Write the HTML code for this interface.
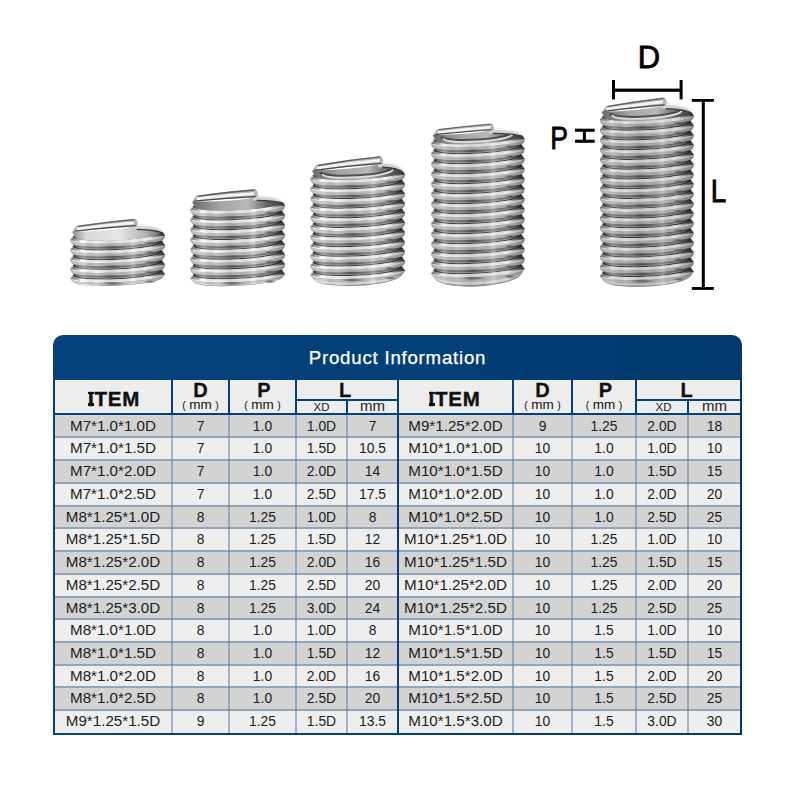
<!DOCTYPE html><html><head><meta charset="utf-8"><style>
html,body{margin:0;padding:0;background:#fff;width:800px;height:800px;overflow:hidden}
body{position:relative;font-family:"Liberation Sans",sans-serif}
.a{position:absolute}
.c{position:absolute;text-align:center;white-space:nowrap;color:#1c1c1c}
</style></head><body>

<svg class="a" style="left:0;top:0" width="800" height="330" viewBox="0 0 800 330"><defs>
<linearGradient id="gov" x1="0" y1="0" x2="1" y2="0">
<stop offset="0" stop-color="#000" stop-opacity="0.25"/>
<stop offset="0.06" stop-color="#fff" stop-opacity="0.0"/>
<stop offset="0.16" stop-color="#fff" stop-opacity="0.2"/>
<stop offset="0.28" stop-color="#000" stop-opacity="0.0"/>
<stop offset="0.42" stop-color="#000" stop-opacity="0.12"/>
<stop offset="0.52" stop-color="#000" stop-opacity="0.05"/>
<stop offset="0.66" stop-color="#fff" stop-opacity="0.25"/>
<stop offset="0.78" stop-color="#000" stop-opacity="0.0"/>
<stop offset="0.88" stop-color="#000" stop-opacity="0.15"/>
<stop offset="1" stop-color="#000" stop-opacity="0.3"/>
</linearGradient>
<linearGradient id="wedR" x1="1" y1="0" x2="0" y2="0">
<stop offset="0" stop-color="#1e1e1e" stop-opacity="0.95"/>
<stop offset="0.4" stop-color="#3a3a3a" stop-opacity="0.6"/>
<stop offset="1" stop-color="#555" stop-opacity="0"/>
</linearGradient>
<linearGradient id="wedL" x1="0" y1="0" x2="1" y2="0">
<stop offset="0" stop-color="#222" stop-opacity="0.7"/>
<stop offset="0.6" stop-color="#444" stop-opacity="0.35"/>
<stop offset="1" stop-color="#555" stop-opacity="0"/>
</linearGradient>
<radialGradient id="blob">
<stop offset="0" stop-color="#505050" stop-opacity="0.75"/>
<stop offset="0.6" stop-color="#606060" stop-opacity="0.45"/>
<stop offset="1" stop-color="#707070" stop-opacity="0"/>
</radialGradient>
<linearGradient id="grim" x1="0" y1="0" x2="1" y2="0">
<stop offset="0" stop-color="#a8a8a8"/><stop offset="0.5" stop-color="#e8e8e8"/><stop offset="0.85" stop-color="#d0d0d0"/><stop offset="1" stop-color="#6a6a6a"/>
</linearGradient>
<linearGradient id="gint" x1="0" y1="0" x2="1" y2="0">
<stop offset="0" stop-color="#6a6a6a"/><stop offset="0.3" stop-color="#a4a4a4"/><stop offset="0.6" stop-color="#b8b8b8"/><stop offset="0.82" stop-color="#606060"/><stop offset="1" stop-color="#383838"/>
</linearGradient>
<linearGradient id="gint2" x1="0" y1="0" x2="1" y2="0">
<stop offset="0" stop-color="#8a8a8a"/><stop offset="0.15" stop-color="#d8d8d8"/><stop offset="0.5" stop-color="#e6e6e6"/><stop offset="0.8" stop-color="#b0b0b0"/><stop offset="1" stop-color="#505050"/>
</linearGradient>
<linearGradient id="gtang" x1="0" y1="0" x2="0" y2="1">
<stop offset="0" stop-color="#9a9a9a"/><stop offset="0.3" stop-color="#dedede"/><stop offset="0.6" stop-color="#c0c0c0"/><stop offset="1" stop-color="#8a8a8a"/>
</linearGradient>
</defs>
<path d="M74.50,235.53 C76.50,243.53 159.00,239.13 161.00,231.13 L162.98,232.10 L163.91,233.07 L164.52,234.04 L164.88,235.01 L165.00,235.99 L164.88,236.96 L164.52,237.93 L163.91,238.90 L162.98,239.87 L161.00,240.84 C159.00,248.84 76.50,253.24 74.50,245.24 L72.52,244.27 L71.59,243.30 L70.98,242.33 L70.62,241.36 L70.50,240.39 L70.62,239.41 L70.98,238.44 L71.59,237.47 L72.52,236.50 L74.50,235.53 Z" fill="#b4b4b4"/>
<path d="M74.50,235.53 C76.50,243.53 159.00,239.13 161.00,231.13 L162.98,232.10 C160.98,240.10 74.52,244.50 72.52,236.50 L74.50,235.53 Z" fill="#5a5a5a"/>
<path d="M72.52,236.50 C74.52,244.50 160.98,240.10 162.98,232.10 L163.96,233.14 L164.58,234.17 L164.92,235.21 C162.92,243.21 72.58,247.61 70.58,239.61 L70.92,238.57 L71.54,237.54 L72.52,236.50 Z" fill="#f2f2f2"/>
<path d="M70.58,239.61 C72.58,247.61 162.92,243.21 164.92,235.21 L165.00,236.18 L164.83,237.15 L164.42,238.12 C162.42,246.12 73.08,250.52 71.08,242.52 L70.67,241.55 L70.50,240.58 L70.58,239.61 Z" fill="#c0c0c0"/>
<path d="M71.08,242.52 C73.08,250.52 162.42,246.12 164.42,238.12 L163.75,239.09 L162.74,240.06 C160.74,248.06 74.76,252.46 72.76,244.46 L71.75,243.49 L71.08,242.52 Z" fill="#7a7a7a"/>
<path d="M72.76,244.46 C74.76,252.46 160.74,248.06 162.74,240.06 L161.00,240.84 C159.00,248.84 76.50,253.24 74.50,245.24 L72.76,244.46 Z" fill="#a0a0a0"/>
<path d="M161.00,231.13 L164.97,235.50 L151.97,237.70 L148.00,233.73 Z" fill="url(#wedR)"/>
<path d="M74.50,235.53 L70.53,239.90 L79.53,241.90 L83.50,237.73 Z" fill="url(#wedL)"/>
<ellipse cx="113.03" cy="247.29" rx="12.29" ry="1.94" fill="url(#blob)"/>
<ellipse cx="149.88" cy="242.85" rx="6.62" ry="1.75" fill="url(#blob)"/>
<path d="M74.50,245.24 C76.50,253.24 159.00,248.84 161.00,240.84 L162.98,241.81 L163.91,242.78 L164.52,243.75 L164.88,244.72 L165.00,245.69 L164.88,246.66 L164.52,247.62 L163.91,248.59 L162.98,249.56 L161.00,250.53 C159.00,258.53 76.50,262.94 74.50,254.94 L72.52,253.97 L71.59,253.00 L70.98,252.03 L70.62,251.06 L70.50,250.09 L70.62,249.12 L70.98,248.15 L71.59,247.18 L72.52,246.21 L74.50,245.24 Z" fill="#b4b4b4"/>
<path d="M74.50,245.24 C76.50,253.24 159.00,248.84 161.00,240.84 L162.98,241.81 C160.98,249.81 74.52,254.21 72.52,246.21 L74.50,245.24 Z" fill="#404040"/>
<path d="M72.52,246.21 C74.52,254.21 160.98,249.81 162.98,241.81 L163.96,242.84 L164.58,243.87 L164.92,244.91 C162.92,252.91 72.58,257.31 70.58,249.31 L70.92,248.27 L71.54,247.24 L72.52,246.21 Z" fill="#f2f2f2"/>
<path d="M70.58,249.31 C72.58,257.31 162.92,252.91 164.92,244.91 L165.00,245.88 L164.83,246.85 L164.42,247.82 C162.42,255.82 73.08,260.22 71.08,252.22 L70.67,251.25 L70.50,250.28 L70.58,249.31 Z" fill="#c0c0c0"/>
<path d="M71.08,252.22 C73.08,260.22 162.42,255.82 164.42,247.82 L163.75,248.79 L162.74,249.76 C160.74,257.76 74.76,262.16 72.76,254.16 L71.75,253.19 L71.08,252.22 Z" fill="#7a7a7a"/>
<path d="M72.76,254.16 C74.76,262.16 160.74,257.76 162.74,249.76 L161.00,250.53 C159.00,258.53 76.50,262.94 74.50,254.94 L72.76,254.16 Z" fill="#a0a0a0"/>
<path d="M161.00,240.84 L164.97,245.20 L151.97,247.40 L148.00,243.44 Z" fill="url(#wedR)"/>
<path d="M74.50,245.24 L70.53,249.60 L79.53,251.60 L83.50,247.44 Z" fill="url(#wedL)"/>
<ellipse cx="113.03" cy="256.99" rx="12.29" ry="1.94" fill="url(#blob)"/>
<ellipse cx="149.88" cy="252.56" rx="6.62" ry="1.75" fill="url(#blob)"/>
<path d="M74.50,254.94 C76.50,262.94 159.00,258.53 161.00,250.53 L162.98,251.50 L163.91,252.47 L164.52,253.44 L164.88,254.41 L165.00,255.38 L164.88,256.36 L164.52,257.32 L163.91,258.30 L162.98,259.26 L161.00,260.24 C159.00,268.24 76.50,272.63 74.50,264.63 L72.52,263.66 L71.59,262.69 L70.98,261.72 L70.62,260.75 L70.50,259.78 L70.62,258.81 L70.98,257.84 L71.59,256.88 L72.52,255.91 L74.50,254.94 Z" fill="#b4b4b4"/>
<path d="M74.50,254.94 C76.50,262.94 159.00,258.53 161.00,250.53 L162.98,251.50 C160.98,259.50 74.52,263.90 72.52,255.91 L74.50,254.94 Z" fill="#404040"/>
<path d="M72.52,255.91 C74.52,263.90 160.98,259.50 162.98,251.50 L163.96,252.54 L164.58,253.57 L164.92,254.61 C162.92,262.61 72.58,267.01 70.58,259.01 L70.92,257.97 L71.54,256.94 L72.52,255.91 Z" fill="#f2f2f2"/>
<path d="M70.58,259.01 C72.58,267.01 162.92,262.61 164.92,254.61 L165.00,255.58 L164.83,256.55 L164.42,257.52 C162.42,265.52 73.08,269.92 71.08,261.92 L70.67,260.95 L70.50,259.98 L70.58,259.01 Z" fill="#c0c0c0"/>
<path d="M71.08,261.92 C73.08,269.92 162.42,265.52 164.42,257.52 L163.75,258.49 L162.74,259.46 C160.74,267.46 74.76,271.86 72.76,263.86 L71.75,262.89 L71.08,261.92 Z" fill="#7a7a7a"/>
<path d="M72.76,263.86 C74.76,271.86 160.74,267.46 162.74,259.46 L161.00,260.24 C159.00,268.24 76.50,272.63 74.50,264.63 L72.76,263.86 Z" fill="#a0a0a0"/>
<path d="M161.00,250.53 L164.97,254.90 L151.97,257.10 L148.00,253.13 Z" fill="url(#wedR)"/>
<path d="M74.50,254.94 L70.53,259.30 L79.53,261.30 L83.50,257.13 Z" fill="url(#wedL)"/>
<ellipse cx="113.03" cy="266.69" rx="12.29" ry="1.94" fill="url(#blob)"/>
<ellipse cx="149.88" cy="262.25" rx="6.62" ry="1.75" fill="url(#blob)"/>
<path d="M74.50,264.63 C76.50,272.63 159.00,268.24 161.00,260.24 L162.98,261.20 L163.91,262.18 L164.52,263.14 L164.88,264.12 L165.00,265.08 L164.88,266.06 L164.52,267.02 L163.91,268.00 L162.98,268.96 L161.00,269.94 C159.00,277.94 76.50,282.33 74.50,274.33 L72.52,273.36 L71.59,272.39 L70.98,271.42 L70.62,270.45 L70.50,269.48 L70.62,268.51 L70.98,267.54 L71.59,266.57 L72.52,265.60 L74.50,264.63 Z" fill="#b4b4b4"/>
<path d="M74.50,264.63 C76.50,272.63 159.00,268.24 161.00,260.24 L162.98,261.20 C160.98,269.20 74.52,273.60 72.52,265.60 L74.50,264.63 Z" fill="#404040"/>
<path d="M72.52,265.60 C74.52,273.60 160.98,269.20 162.98,261.20 L163.96,262.24 L164.58,263.27 L164.92,264.31 C162.92,272.31 72.58,276.71 70.58,268.71 L70.92,267.67 L71.54,266.64 L72.52,265.60 Z" fill="#f2f2f2"/>
<path d="M70.58,268.71 C72.58,276.71 162.92,272.31 164.92,264.31 L165.00,265.28 L164.83,266.25 L164.42,267.22 C162.42,275.22 73.08,279.62 71.08,271.62 L70.67,270.65 L70.50,269.68 L70.58,268.71 Z" fill="#c0c0c0"/>
<path d="M71.08,271.62 C73.08,279.62 162.42,275.22 164.42,267.22 L163.75,268.19 L162.74,269.16 C160.74,277.16 74.76,281.56 72.76,273.56 L71.75,272.59 L71.08,271.62 Z" fill="#7a7a7a"/>
<path d="M72.76,273.56 C74.76,281.56 160.74,277.16 162.74,269.16 L161.00,269.94 C159.00,277.94 76.50,282.33 74.50,274.33 L72.76,273.56 Z" fill="#a0a0a0"/>
<path d="M161.00,260.24 L164.97,264.60 L151.97,266.80 L148.00,262.84 Z" fill="url(#wedR)"/>
<path d="M74.50,264.63 L70.53,269.00 L79.53,271.00 L83.50,266.83 Z" fill="url(#wedL)"/>
<ellipse cx="113.03" cy="276.39" rx="12.29" ry="1.94" fill="url(#blob)"/>
<ellipse cx="149.88" cy="271.95" rx="6.62" ry="1.75" fill="url(#blob)"/>
<path d="M74.50,274.33 C76.50,282.33 159.00,277.94 161.00,269.94 L162.98,270.90 L163.91,271.88 L164.52,272.84 L164.88,273.81 L164.93,274.54 L164.66,275.03 L164.26,275.51 L163.78,276.00 L163.22,276.48 L162.60,276.97 C160.60,285.54 74.90,289.94 72.90,281.37 L72.28,280.88 L71.72,280.40 L71.24,279.91 L70.84,279.43 L70.57,278.94 L70.62,278.21 L70.98,277.24 L71.59,276.27 L72.52,275.30 L74.50,274.33 Z" fill="#b4b4b4"/>
<path d="M74.50,274.33 C76.50,282.33 159.00,277.94 161.00,269.94 L162.98,270.90 C160.98,278.90 74.52,283.30 72.52,275.30 L74.50,274.33 Z" fill="#404040"/>
<path d="M72.52,275.30 C74.52,283.30 160.98,278.90 162.98,270.90 L163.96,271.94 L164.58,272.97 L164.92,274.01 C162.92,282.01 72.58,286.41 70.58,278.41 L70.92,277.37 L71.54,276.34 L72.52,275.30 Z" fill="#f2f2f2"/>
<path d="M70.58,278.41 C72.58,286.41 162.92,282.01 164.92,274.01 L164.89,274.64 L164.59,275.12 L164.17,275.61 C162.17,283.89 73.33,288.29 71.33,280.01 L70.91,279.52 L70.61,279.04 L70.58,278.41 Z" fill="#c0c0c0"/>
<path d="M71.33,280.01 C73.33,288.29 162.17,283.89 164.17,275.61 L163.68,276.09 L163.10,276.58 C161.10,285.07 74.40,289.47 72.40,280.98 L71.82,280.49 L71.33,280.01 Z" fill="#e2e2e2"/>
<path d="M72.40,280.98 C74.40,289.47 161.10,285.07 163.10,276.58 L162.60,276.97 C160.60,285.54 74.90,289.94 72.90,281.37 L72.40,280.98 Z" fill="#9a9a9a"/>
<path d="M161.00,269.94 L164.97,274.30 L151.97,276.50 L148.00,272.54 Z" fill="url(#wedR)"/>
<path d="M74.50,274.33 L70.53,278.70 L79.53,280.70 L83.50,276.53 Z" fill="url(#wedL)"/>
<ellipse cx="113.03" cy="283.47" rx="12.29" ry="1.94" fill="url(#blob)"/>
<ellipse cx="149.88" cy="281.65" rx="6.62" ry="1.75" fill="url(#blob)"/>
<clipPath id="cl0"><path d="M74.50,235.53 C76.50,243.53 159.00,239.13 161.00,231.13 L162.98,232.10 L163.91,233.07 L164.52,234.04 L164.88,235.01 L165.00,235.99 L164.88,236.96 L164.52,237.93 L163.91,238.90 L162.98,239.87 L161.00,240.84 C159.00,248.84 76.50,253.24 74.50,245.24 L72.52,244.27 L71.59,243.30 L70.98,242.33 L70.62,241.36 L70.50,240.39 L70.62,239.41 L70.98,238.44 L71.59,237.47 L72.52,236.50 L74.50,235.53 Z"/><path d="M74.50,245.24 C76.50,253.24 159.00,248.84 161.00,240.84 L162.98,241.81 L163.91,242.78 L164.52,243.75 L164.88,244.72 L165.00,245.69 L164.88,246.66 L164.52,247.62 L163.91,248.59 L162.98,249.56 L161.00,250.53 C159.00,258.53 76.50,262.94 74.50,254.94 L72.52,253.97 L71.59,253.00 L70.98,252.03 L70.62,251.06 L70.50,250.09 L70.62,249.12 L70.98,248.15 L71.59,247.18 L72.52,246.21 L74.50,245.24 Z"/><path d="M74.50,254.94 C76.50,262.94 159.00,258.53 161.00,250.53 L162.98,251.50 L163.91,252.47 L164.52,253.44 L164.88,254.41 L165.00,255.38 L164.88,256.36 L164.52,257.32 L163.91,258.30 L162.98,259.26 L161.00,260.24 C159.00,268.24 76.50,272.63 74.50,264.63 L72.52,263.66 L71.59,262.69 L70.98,261.72 L70.62,260.75 L70.50,259.78 L70.62,258.81 L70.98,257.84 L71.59,256.88 L72.52,255.91 L74.50,254.94 Z"/><path d="M74.50,264.63 C76.50,272.63 159.00,268.24 161.00,260.24 L162.98,261.20 L163.91,262.18 L164.52,263.14 L164.88,264.12 L165.00,265.08 L164.88,266.06 L164.52,267.02 L163.91,268.00 L162.98,268.96 L161.00,269.94 C159.00,277.94 76.50,282.33 74.50,274.33 L72.52,273.36 L71.59,272.39 L70.98,271.42 L70.62,270.45 L70.50,269.48 L70.62,268.51 L70.98,267.54 L71.59,266.57 L72.52,265.60 L74.50,264.63 Z"/><path d="M74.50,274.33 C76.50,282.33 159.00,277.94 161.00,269.94 L162.98,270.90 L163.91,271.88 L164.52,272.84 L164.88,273.81 L164.93,274.54 L164.66,275.03 L164.26,275.51 L163.78,276.00 L163.22,276.48 L162.60,276.97 C160.60,285.54 74.90,289.94 72.90,281.37 L72.28,280.88 L71.72,280.40 L71.24,279.91 L70.84,279.43 L70.57,278.94 L70.62,278.21 L70.98,277.24 L71.59,276.27 L72.52,275.30 L74.50,274.33 Z"/></clipPath>
<rect x="68.50" y="220.50" width="98.50" height="78.50" fill="url(#gov)" clip-path="url(#cl0)"/>
<path d="M72.00,231.53 Q108.30,231.63 136.65,226.30 Q161.00,230.50 165.00,235.50 L161.00,232.13 C159.00,240.13 76.50,244.53 74.50,236.53 Z" fill="url(#gint2)"/>
<path d="M132.65,223.80 Q162.00,224.80 165.00,233.13 Q157.00,229.80 132.65,229.50 Z" fill="#d4d4d4"/>
<path d="M134.65,224.70 Q161.50,225.50 164.50,232.83" fill="none" stroke="#f6f6f6" stroke-width="1.5"/>
<path d="M136.65,229.30 Q157.00,229.60 163.50,233.63" fill="none" stroke="#3a3a3a" stroke-width="1.3"/>
<path d="M76.50,225.73 Q108.30,221.02 135.65,218.70 Q139.15,222.50 137.15,226.30 Q108.30,228.02 72.00,231.73 Z" fill="#b4b4b4"/>
<path d="M77.96,226.45 Q108.30,221.86 134.65,219.61" fill="none" stroke="#5e5e5e" stroke-width="1.22"/>
<path d="M77.03,229.03 Q108.30,224.87 134.15,222.88" fill="none" stroke="#f4f4f4" stroke-width="2.58"/>
<path d="M74.36,231.25 Q108.30,227.46 135.65,225.69" fill="none" stroke="#4a4a4a" stroke-width="1.22"/>
<path d="M194.50,205.38 C196.50,213.38 279.00,208.98 281.00,200.98 L282.98,201.96 L283.91,202.94 L284.52,203.93 L284.88,204.91 L285.00,205.89 L284.88,206.87 L284.52,207.86 L283.91,208.84 L282.98,209.82 L281.00,210.80 C279.00,218.80 196.50,223.20 194.50,215.20 L192.52,214.22 L191.59,213.24 L190.98,212.26 L190.62,211.27 L190.50,210.29 L190.62,209.31 L190.98,208.33 L191.59,207.34 L192.52,206.36 L194.50,205.38 Z" fill="#b4b4b4"/>
<path d="M194.50,205.38 C196.50,213.38 279.00,208.98 281.00,200.98 L282.98,201.96 C280.98,209.96 194.52,214.36 192.52,206.36 L194.50,205.38 Z" fill="#5a5a5a"/>
<path d="M192.52,206.36 C194.52,214.36 280.98,209.96 282.98,201.96 L283.96,203.01 L284.58,204.06 L284.92,205.11 C282.92,213.11 192.58,217.51 190.58,209.51 L190.92,208.46 L191.54,207.41 L192.52,206.36 Z" fill="#f2f2f2"/>
<path d="M190.58,209.51 C192.58,217.51 282.92,213.11 284.92,205.11 L285.00,206.09 L284.83,207.07 L284.42,208.05 C282.42,216.05 193.08,220.45 191.08,212.45 L190.67,211.47 L190.50,210.49 L190.58,209.51 Z" fill="#c0c0c0"/>
<path d="M191.08,212.45 C193.08,220.45 282.42,216.05 284.42,208.05 L283.75,209.03 L282.74,210.02 C280.74,218.02 194.76,222.42 192.76,214.42 L191.75,213.43 L191.08,212.45 Z" fill="#7a7a7a"/>
<path d="M192.76,214.42 C194.76,222.42 280.74,218.02 282.74,210.02 L281.00,210.80 C279.00,218.80 196.50,223.20 194.50,215.20 L192.76,214.42 Z" fill="#a0a0a0"/>
<path d="M281.00,200.98 L284.97,205.40 L271.97,207.60 L268.00,203.58 Z" fill="url(#wedR)"/>
<path d="M194.50,205.38 L190.53,209.80 L199.53,211.80 L203.50,207.58 Z" fill="url(#wedL)"/>
<ellipse cx="233.03" cy="217.23" rx="12.29" ry="1.96" fill="url(#blob)"/>
<ellipse cx="269.88" cy="212.80" rx="6.62" ry="1.77" fill="url(#blob)"/>
<path d="M194.50,215.20 C196.50,223.20 279.00,218.80 281.00,210.80 L282.98,211.78 L283.91,212.77 L284.52,213.75 L284.88,214.73 L285.00,215.71 L284.88,216.69 L284.52,217.68 L283.91,218.66 L282.98,219.64 L281.00,220.62 C279.00,228.62 196.50,233.02 194.50,225.02 L192.52,224.04 L191.59,223.06 L190.98,222.08 L190.62,221.09 L190.50,220.11 L190.62,219.13 L190.98,218.15 L191.59,217.17 L192.52,216.18 L194.50,215.20 Z" fill="#b4b4b4"/>
<path d="M194.50,215.20 C196.50,223.20 279.00,218.80 281.00,210.80 L282.98,211.78 C280.98,219.78 194.52,224.18 192.52,216.18 L194.50,215.20 Z" fill="#404040"/>
<path d="M192.52,216.18 C194.52,224.18 280.98,219.78 282.98,211.78 L283.96,212.83 L284.58,213.88 L284.92,214.93 C282.92,222.93 192.58,227.33 190.58,219.33 L190.92,218.28 L191.54,217.23 L192.52,216.18 Z" fill="#f2f2f2"/>
<path d="M190.58,219.33 C192.58,227.33 282.92,222.93 284.92,214.93 L285.00,215.91 L284.83,216.89 L284.42,217.87 C282.42,225.87 193.08,230.27 191.08,222.27 L190.67,221.29 L190.50,220.31 L190.58,219.33 Z" fill="#c0c0c0"/>
<path d="M191.08,222.27 C193.08,230.27 282.42,225.87 284.42,217.87 L283.75,218.85 L282.74,219.84 C280.74,227.84 194.76,232.24 192.76,224.24 L191.75,223.25 L191.08,222.27 Z" fill="#7a7a7a"/>
<path d="M192.76,224.24 C194.76,232.24 280.74,227.84 282.74,219.84 L281.00,220.62 C279.00,228.62 196.50,233.02 194.50,225.02 L192.76,224.24 Z" fill="#a0a0a0"/>
<path d="M281.00,210.80 L284.97,215.22 L271.97,217.42 L268.00,213.40 Z" fill="url(#wedR)"/>
<path d="M194.50,215.20 L190.53,219.62 L199.53,221.62 L203.50,217.40 Z" fill="url(#wedL)"/>
<ellipse cx="233.03" cy="227.05" rx="12.29" ry="1.96" fill="url(#blob)"/>
<ellipse cx="269.88" cy="222.62" rx="6.62" ry="1.77" fill="url(#blob)"/>
<path d="M194.50,225.02 C196.50,233.02 279.00,228.62 281.00,220.62 L282.98,221.60 L283.91,222.59 L284.52,223.57 L284.88,224.55 L285.00,225.53 L284.88,226.51 L284.52,227.50 L283.91,228.48 L282.98,229.46 L281.00,230.44 C279.00,238.44 196.50,242.84 194.50,234.84 L192.52,233.86 L191.59,232.88 L190.98,231.90 L190.62,230.91 L190.50,229.93 L190.62,228.95 L190.98,227.97 L191.59,226.99 L192.52,226.00 L194.50,225.02 Z" fill="#b4b4b4"/>
<path d="M194.50,225.02 C196.50,233.02 279.00,228.62 281.00,220.62 L282.98,221.60 C280.98,229.60 194.52,234.00 192.52,226.00 L194.50,225.02 Z" fill="#404040"/>
<path d="M192.52,226.00 C194.52,234.00 280.98,229.60 282.98,221.60 L283.96,222.65 L284.58,223.70 L284.92,224.75 C282.92,232.75 192.58,237.15 190.58,229.15 L190.92,228.10 L191.54,227.05 L192.52,226.00 Z" fill="#f2f2f2"/>
<path d="M190.58,229.15 C192.58,237.15 282.92,232.75 284.92,224.75 L285.00,225.73 L284.83,226.71 L284.42,227.69 C282.42,235.69 193.08,240.09 191.08,232.09 L190.67,231.11 L190.50,230.13 L190.58,229.15 Z" fill="#c0c0c0"/>
<path d="M191.08,232.09 C193.08,240.09 282.42,235.69 284.42,227.69 L283.75,228.67 L282.74,229.66 C280.74,237.66 194.76,242.06 192.76,234.06 L191.75,233.07 L191.08,232.09 Z" fill="#7a7a7a"/>
<path d="M192.76,234.06 C194.76,242.06 280.74,237.66 282.74,229.66 L281.00,230.44 C279.00,238.44 196.50,242.84 194.50,234.84 L192.76,234.06 Z" fill="#a0a0a0"/>
<path d="M281.00,220.62 L284.97,225.04 L271.97,227.24 L268.00,223.22 Z" fill="url(#wedR)"/>
<path d="M194.50,225.02 L190.53,229.44 L199.53,231.44 L203.50,227.22 Z" fill="url(#wedL)"/>
<ellipse cx="233.03" cy="236.87" rx="12.29" ry="1.96" fill="url(#blob)"/>
<ellipse cx="269.88" cy="232.44" rx="6.62" ry="1.77" fill="url(#blob)"/>
<path d="M194.50,234.84 C196.50,242.84 279.00,238.44 281.00,230.44 L282.98,231.42 L283.91,232.41 L284.52,233.39 L284.88,234.37 L285.00,235.35 L284.88,236.33 L284.52,237.31 L283.91,238.30 L282.98,239.28 L281.00,240.26 C279.00,248.26 196.50,252.66 194.50,244.66 L192.52,243.68 L191.59,242.70 L190.98,241.72 L190.62,240.73 L190.50,239.75 L190.62,238.77 L190.98,237.79 L191.59,236.81 L192.52,235.82 L194.50,234.84 Z" fill="#b4b4b4"/>
<path d="M194.50,234.84 C196.50,242.84 279.00,238.44 281.00,230.44 L282.98,231.42 C280.98,239.42 194.52,243.82 192.52,235.82 L194.50,234.84 Z" fill="#404040"/>
<path d="M192.52,235.82 C194.52,243.82 280.98,239.42 282.98,231.42 L283.96,232.47 L284.58,233.52 L284.92,234.57 C282.92,242.57 192.58,246.97 190.58,238.97 L190.92,237.92 L191.54,236.87 L192.52,235.82 Z" fill="#f2f2f2"/>
<path d="M190.58,238.97 C192.58,246.97 282.92,242.57 284.92,234.57 L285.00,235.55 L284.83,236.53 L284.42,237.51 C282.42,245.51 193.08,249.91 191.08,241.91 L190.67,240.93 L190.50,239.95 L190.58,238.97 Z" fill="#c0c0c0"/>
<path d="M191.08,241.91 C193.08,249.91 282.42,245.51 284.42,237.51 L283.75,238.49 L282.74,239.48 C280.74,247.48 194.76,251.88 192.76,243.88 L191.75,242.89 L191.08,241.91 Z" fill="#7a7a7a"/>
<path d="M192.76,243.88 C194.76,251.88 280.74,247.48 282.74,239.48 L281.00,240.26 C279.00,248.26 196.50,252.66 194.50,244.66 L192.76,243.88 Z" fill="#a0a0a0"/>
<path d="M281.00,230.44 L284.97,234.86 L271.97,237.06 L268.00,233.04 Z" fill="url(#wedR)"/>
<path d="M194.50,234.84 L190.53,239.26 L199.53,241.26 L203.50,237.04 Z" fill="url(#wedL)"/>
<ellipse cx="233.03" cy="246.69" rx="12.29" ry="1.96" fill="url(#blob)"/>
<ellipse cx="269.88" cy="242.26" rx="6.62" ry="1.77" fill="url(#blob)"/>
<path d="M194.50,244.66 C196.50,252.66 279.00,248.26 281.00,240.26 L282.98,241.24 L283.91,242.23 L284.52,243.21 L284.88,244.19 L285.00,245.17 L284.88,246.15 L284.52,247.13 L283.91,248.12 L282.98,249.10 L281.00,250.08 C279.00,258.08 196.50,262.48 194.50,254.48 L192.52,253.50 L191.59,252.52 L190.98,251.53 L190.62,250.55 L190.50,249.57 L190.62,248.59 L190.98,247.61 L191.59,246.63 L192.52,245.64 L194.50,244.66 Z" fill="#b4b4b4"/>
<path d="M194.50,244.66 C196.50,252.66 279.00,248.26 281.00,240.26 L282.98,241.24 C280.98,249.24 194.52,253.64 192.52,245.64 L194.50,244.66 Z" fill="#404040"/>
<path d="M192.52,245.64 C194.52,253.64 280.98,249.24 282.98,241.24 L283.96,242.29 L284.58,243.34 L284.92,244.39 C282.92,252.39 192.58,256.79 190.58,248.79 L190.92,247.74 L191.54,246.69 L192.52,245.64 Z" fill="#f2f2f2"/>
<path d="M190.58,248.79 C192.58,256.79 282.92,252.39 284.92,244.39 L285.00,245.37 L284.83,246.35 L284.42,247.33 C282.42,255.33 193.08,259.73 191.08,251.73 L190.67,250.75 L190.50,249.77 L190.58,248.79 Z" fill="#c0c0c0"/>
<path d="M191.08,251.73 C193.08,259.73 282.42,255.33 284.42,247.33 L283.75,248.31 L282.74,249.30 C280.74,257.30 194.76,261.70 192.76,253.70 L191.75,252.71 L191.08,251.73 Z" fill="#7a7a7a"/>
<path d="M192.76,253.70 C194.76,261.70 280.74,257.30 282.74,249.30 L281.00,250.08 C279.00,258.08 196.50,262.48 194.50,254.48 L192.76,253.70 Z" fill="#a0a0a0"/>
<path d="M281.00,240.26 L284.97,244.68 L271.97,246.88 L268.00,242.86 Z" fill="url(#wedR)"/>
<path d="M194.50,244.66 L190.53,249.08 L199.53,251.08 L203.50,246.86 Z" fill="url(#wedL)"/>
<ellipse cx="233.03" cy="256.51" rx="12.29" ry="1.96" fill="url(#blob)"/>
<ellipse cx="269.88" cy="252.08" rx="6.62" ry="1.77" fill="url(#blob)"/>
<path d="M194.50,254.48 C196.50,262.48 279.00,258.08 281.00,250.08 L282.98,251.06 L283.91,252.05 L284.52,253.03 L284.88,254.01 L285.00,254.99 L284.88,255.97 L284.52,256.95 L283.91,257.94 L282.98,258.92 L281.00,259.90 C279.00,267.90 196.50,272.30 194.50,264.30 L192.52,263.32 L191.59,262.34 L190.98,261.35 L190.62,260.37 L190.50,259.39 L190.62,258.41 L190.98,257.43 L191.59,256.44 L192.52,255.46 L194.50,254.48 Z" fill="#b4b4b4"/>
<path d="M194.50,254.48 C196.50,262.48 279.00,258.08 281.00,250.08 L282.98,251.06 C280.98,259.06 194.52,263.46 192.52,255.46 L194.50,254.48 Z" fill="#404040"/>
<path d="M192.52,255.46 C194.52,263.46 280.98,259.06 282.98,251.06 L283.96,252.11 L284.58,253.16 L284.92,254.21 C282.92,262.21 192.58,266.61 190.58,258.61 L190.92,257.56 L191.54,256.51 L192.52,255.46 Z" fill="#f2f2f2"/>
<path d="M190.58,258.61 C192.58,266.61 282.92,262.21 284.92,254.21 L285.00,255.19 L284.83,256.17 L284.42,257.15 C282.42,265.15 193.08,269.55 191.08,261.55 L190.67,260.57 L190.50,259.59 L190.58,258.61 Z" fill="#c0c0c0"/>
<path d="M191.08,261.55 C193.08,269.55 282.42,265.15 284.42,257.15 L283.75,258.13 L282.74,259.12 C280.74,267.12 194.76,271.52 192.76,263.52 L191.75,262.53 L191.08,261.55 Z" fill="#7a7a7a"/>
<path d="M192.76,263.52 C194.76,271.52 280.74,267.12 282.74,259.12 L281.00,259.90 C279.00,267.90 196.50,272.30 194.50,264.30 L192.76,263.52 Z" fill="#a0a0a0"/>
<path d="M281.00,250.08 L284.97,254.50 L271.97,256.70 L268.00,252.68 Z" fill="url(#wedR)"/>
<path d="M194.50,254.48 L190.53,258.90 L199.53,260.90 L203.50,256.68 Z" fill="url(#wedL)"/>
<ellipse cx="233.03" cy="266.33" rx="12.29" ry="1.96" fill="url(#blob)"/>
<ellipse cx="269.88" cy="261.90" rx="6.62" ry="1.77" fill="url(#blob)"/>
<path d="M194.50,264.30 C196.50,272.30 279.00,267.90 281.00,259.90 L282.98,260.88 L283.91,261.87 L284.52,262.85 L284.88,263.83 L285.00,264.81 L284.88,265.79 L284.52,266.77 L283.91,267.76 L282.98,268.74 L281.00,269.72 C279.00,277.72 196.50,282.12 194.50,274.12 L192.52,273.14 L191.59,272.16 L190.98,271.17 L190.62,270.19 L190.50,269.21 L190.62,268.23 L190.98,267.25 L191.59,266.26 L192.52,265.28 L194.50,264.30 Z" fill="#b4b4b4"/>
<path d="M194.50,264.30 C196.50,272.30 279.00,267.90 281.00,259.90 L282.98,260.88 C280.98,268.88 194.52,273.28 192.52,265.28 L194.50,264.30 Z" fill="#404040"/>
<path d="M192.52,265.28 C194.52,273.28 280.98,268.88 282.98,260.88 L283.96,261.93 L284.58,262.98 L284.92,264.03 C282.92,272.03 192.58,276.43 190.58,268.43 L190.92,267.38 L191.54,266.33 L192.52,265.28 Z" fill="#f2f2f2"/>
<path d="M190.58,268.43 C192.58,276.43 282.92,272.03 284.92,264.03 L285.00,265.01 L284.83,265.99 L284.42,266.97 C282.42,274.97 193.08,279.37 191.08,271.37 L190.67,270.39 L190.50,269.41 L190.58,268.43 Z" fill="#c0c0c0"/>
<path d="M191.08,271.37 C193.08,279.37 282.42,274.97 284.42,266.97 L283.75,267.95 L282.74,268.94 C280.74,276.94 194.76,281.34 192.76,273.34 L191.75,272.35 L191.08,271.37 Z" fill="#7a7a7a"/>
<path d="M192.76,273.34 C194.76,281.34 280.74,276.94 282.74,268.94 L281.00,269.72 C279.00,277.72 196.50,282.12 194.50,274.12 L192.76,273.34 Z" fill="#a0a0a0"/>
<path d="M281.00,259.90 L284.97,264.32 L271.97,266.52 L268.00,262.50 Z" fill="url(#wedR)"/>
<path d="M194.50,264.30 L190.53,268.72 L199.53,270.72 L203.50,266.50 Z" fill="url(#wedL)"/>
<ellipse cx="233.03" cy="276.15" rx="12.29" ry="1.96" fill="url(#blob)"/>
<ellipse cx="269.88" cy="271.72" rx="6.62" ry="1.77" fill="url(#blob)"/>
<path d="M194.50,274.12 C196.50,282.12 279.00,277.72 281.00,269.72 L282.98,270.70 L283.91,271.69 L284.52,272.67 L284.88,273.65 L284.93,274.39 L284.66,274.88 L284.26,275.37 L283.78,275.86 L283.22,276.35 L282.60,276.84 C280.60,285.85 194.90,290.25 192.90,281.24 L192.28,280.75 L191.72,280.26 L191.24,279.77 L190.84,279.28 L190.57,278.79 L190.62,278.05 L190.98,277.07 L191.59,276.08 L192.52,275.10 L194.50,274.12 Z" fill="#b4b4b4"/>
<path d="M194.50,274.12 C196.50,282.12 279.00,277.72 281.00,269.72 L282.98,270.70 C280.98,278.70 194.52,283.10 192.52,275.10 L194.50,274.12 Z" fill="#404040"/>
<path d="M192.52,275.10 C194.52,283.10 280.98,278.70 282.98,270.70 L283.96,271.75 L284.58,272.80 L284.92,273.85 C282.92,281.85 192.58,286.25 190.58,278.25 L190.92,277.20 L191.54,276.15 L192.52,275.10 Z" fill="#f2f2f2"/>
<path d="M190.58,278.25 C192.58,286.25 282.92,281.85 284.92,273.85 L284.89,274.48 L284.59,274.97 L284.17,275.47 C282.17,283.96 193.33,288.36 191.33,279.87 L190.91,279.37 L190.61,278.88 L190.58,278.25 Z" fill="#c0c0c0"/>
<path d="M191.33,279.87 C193.33,288.36 282.17,283.96 284.17,275.47 L283.68,275.96 L283.10,276.45 C281.10,285.31 194.40,289.71 192.40,280.85 L191.82,280.36 L191.33,279.87 Z" fill="#e2e2e2"/>
<path d="M192.40,280.85 C194.40,289.71 281.10,285.31 283.10,276.45 L282.60,276.84 C280.60,285.85 194.90,290.25 192.90,281.24 L192.40,280.85 Z" fill="#9a9a9a"/>
<path d="M281.00,269.72 L284.97,274.14 L271.97,276.34 L268.00,272.32 Z" fill="url(#wedR)"/>
<path d="M194.50,274.12 L190.53,278.54 L199.53,280.54 L203.50,276.32 Z" fill="url(#wedL)"/>
<ellipse cx="233.03" cy="283.32" rx="12.29" ry="1.96" fill="url(#blob)"/>
<ellipse cx="269.88" cy="281.54" rx="6.62" ry="1.77" fill="url(#blob)"/>
<clipPath id="cl1"><path d="M194.50,205.38 C196.50,213.38 279.00,208.98 281.00,200.98 L282.98,201.96 L283.91,202.94 L284.52,203.93 L284.88,204.91 L285.00,205.89 L284.88,206.87 L284.52,207.86 L283.91,208.84 L282.98,209.82 L281.00,210.80 C279.00,218.80 196.50,223.20 194.50,215.20 L192.52,214.22 L191.59,213.24 L190.98,212.26 L190.62,211.27 L190.50,210.29 L190.62,209.31 L190.98,208.33 L191.59,207.34 L192.52,206.36 L194.50,205.38 Z"/><path d="M194.50,215.20 C196.50,223.20 279.00,218.80 281.00,210.80 L282.98,211.78 L283.91,212.77 L284.52,213.75 L284.88,214.73 L285.00,215.71 L284.88,216.69 L284.52,217.68 L283.91,218.66 L282.98,219.64 L281.00,220.62 C279.00,228.62 196.50,233.02 194.50,225.02 L192.52,224.04 L191.59,223.06 L190.98,222.08 L190.62,221.09 L190.50,220.11 L190.62,219.13 L190.98,218.15 L191.59,217.17 L192.52,216.18 L194.50,215.20 Z"/><path d="M194.50,225.02 C196.50,233.02 279.00,228.62 281.00,220.62 L282.98,221.60 L283.91,222.59 L284.52,223.57 L284.88,224.55 L285.00,225.53 L284.88,226.51 L284.52,227.50 L283.91,228.48 L282.98,229.46 L281.00,230.44 C279.00,238.44 196.50,242.84 194.50,234.84 L192.52,233.86 L191.59,232.88 L190.98,231.90 L190.62,230.91 L190.50,229.93 L190.62,228.95 L190.98,227.97 L191.59,226.99 L192.52,226.00 L194.50,225.02 Z"/><path d="M194.50,234.84 C196.50,242.84 279.00,238.44 281.00,230.44 L282.98,231.42 L283.91,232.41 L284.52,233.39 L284.88,234.37 L285.00,235.35 L284.88,236.33 L284.52,237.31 L283.91,238.30 L282.98,239.28 L281.00,240.26 C279.00,248.26 196.50,252.66 194.50,244.66 L192.52,243.68 L191.59,242.70 L190.98,241.72 L190.62,240.73 L190.50,239.75 L190.62,238.77 L190.98,237.79 L191.59,236.81 L192.52,235.82 L194.50,234.84 Z"/><path d="M194.50,244.66 C196.50,252.66 279.00,248.26 281.00,240.26 L282.98,241.24 L283.91,242.23 L284.52,243.21 L284.88,244.19 L285.00,245.17 L284.88,246.15 L284.52,247.13 L283.91,248.12 L282.98,249.10 L281.00,250.08 C279.00,258.08 196.50,262.48 194.50,254.48 L192.52,253.50 L191.59,252.52 L190.98,251.53 L190.62,250.55 L190.50,249.57 L190.62,248.59 L190.98,247.61 L191.59,246.63 L192.52,245.64 L194.50,244.66 Z"/><path d="M194.50,254.48 C196.50,262.48 279.00,258.08 281.00,250.08 L282.98,251.06 L283.91,252.05 L284.52,253.03 L284.88,254.01 L285.00,254.99 L284.88,255.97 L284.52,256.95 L283.91,257.94 L282.98,258.92 L281.00,259.90 C279.00,267.90 196.50,272.30 194.50,264.30 L192.52,263.32 L191.59,262.34 L190.98,261.35 L190.62,260.37 L190.50,259.39 L190.62,258.41 L190.98,257.43 L191.59,256.44 L192.52,255.46 L194.50,254.48 Z"/><path d="M194.50,264.30 C196.50,272.30 279.00,267.90 281.00,259.90 L282.98,260.88 L283.91,261.87 L284.52,262.85 L284.88,263.83 L285.00,264.81 L284.88,265.79 L284.52,266.77 L283.91,267.76 L282.98,268.74 L281.00,269.72 C279.00,277.72 196.50,282.12 194.50,274.12 L192.52,273.14 L191.59,272.16 L190.98,271.17 L190.62,270.19 L190.50,269.21 L190.62,268.23 L190.98,267.25 L191.59,266.26 L192.52,265.28 L194.50,264.30 Z"/><path d="M194.50,274.12 C196.50,282.12 279.00,277.72 281.00,269.72 L282.98,270.70 L283.91,271.69 L284.52,272.67 L284.88,273.65 L284.93,274.39 L284.66,274.88 L284.26,275.37 L283.78,275.86 L283.22,276.35 L282.60,276.84 C280.60,285.85 194.90,290.25 192.90,281.24 L192.28,280.75 L191.72,280.26 L191.24,279.77 L190.84,279.28 L190.57,278.79 L190.62,278.05 L190.98,277.07 L191.59,276.08 L192.52,275.10 L194.50,274.12 Z"/></clipPath>
<rect x="188.50" y="190.40" width="98.50" height="108.56" fill="url(#gov)" clip-path="url(#cl1)"/>
<path d="M192.00,201.38 Q228.30,202.47 256.65,197.35 Q281.00,200.40 285.00,205.40 L281.00,201.98 C279.00,209.98 196.50,214.38 194.50,206.38 Z" fill="url(#gint)"/>
<path d="M252.65,194.85 Q282.00,195.85 285.00,202.98 Q277.00,200.85 252.65,200.55 Z" fill="#d4d4d4"/>
<path d="M254.65,195.75 Q281.50,196.55 284.50,202.68" fill="none" stroke="#f6f6f6" stroke-width="1.5"/>
<path d="M256.65,200.35 Q277.00,200.65 283.50,203.48" fill="none" stroke="#3a3a3a" stroke-width="1.3"/>
<path d="M196.50,195.58 Q228.30,191.09 255.65,189.00 Q259.15,193.17 257.15,197.35 Q228.30,198.46 192.00,201.58 Z" fill="#b4b4b4"/>
<path d="M197.96,196.30 Q228.30,191.98 254.65,190.00" fill="none" stroke="#5e5e5e" stroke-width="1.34"/>
<path d="M197.03,198.88 Q228.30,195.15 254.15,193.59" fill="none" stroke="#f4f4f4" stroke-width="2.84"/>
<path d="M194.36,201.10 Q228.30,197.87 255.65,196.68" fill="none" stroke="#4a4a4a" stroke-width="1.34"/>
<path d="M314.50,174.57 C316.50,182.57 399.00,178.17 401.00,170.17 L402.98,171.13 L403.91,172.09 L404.52,173.06 L404.88,174.02 L405.00,174.98 L404.88,175.94 L404.52,176.91 L403.91,177.87 L402.98,178.83 L401.00,179.80 C399.00,187.80 316.50,192.20 314.50,184.20 L312.52,183.23 L311.59,182.27 L310.98,181.31 L310.62,180.34 L310.50,179.38 L310.62,178.42 L310.98,177.46 L311.59,176.49 L312.52,175.53 L314.50,174.57 Z" fill="#b4b4b4"/>
<path d="M314.50,174.57 C316.50,182.57 399.00,178.17 401.00,170.17 L402.98,171.13 C400.98,179.13 314.52,183.53 312.52,175.53 L314.50,174.57 Z" fill="#5a5a5a"/>
<path d="M312.52,175.53 C314.52,183.53 400.98,179.13 402.98,171.13 L403.96,172.16 L404.58,173.18 L404.92,174.21 C402.92,182.21 312.58,186.61 310.58,178.61 L310.92,177.58 L311.54,176.56 L312.52,175.53 Z" fill="#f2f2f2"/>
<path d="M310.58,178.61 C312.58,186.61 402.92,182.21 404.92,174.21 L405.00,175.17 L404.83,176.14 L404.42,177.10 C402.42,185.10 313.08,189.50 311.08,181.50 L310.67,180.54 L310.50,179.57 L310.58,178.61 Z" fill="#c0c0c0"/>
<path d="M311.08,181.50 C313.08,189.50 402.42,185.10 404.42,177.10 L403.75,178.06 L402.74,179.03 C400.74,187.03 314.76,191.43 312.76,183.43 L311.75,182.46 L311.08,181.50 Z" fill="#7a7a7a"/>
<path d="M312.76,183.43 C314.76,191.43 400.74,187.03 402.74,179.03 L401.00,179.80 C399.00,187.80 316.50,192.20 314.50,184.20 L312.76,183.43 Z" fill="#a0a0a0"/>
<path d="M401.00,170.17 L404.97,174.50 L391.97,176.70 L388.00,172.77 Z" fill="url(#wedR)"/>
<path d="M314.50,174.57 L310.53,178.90 L319.53,180.90 L323.50,176.77 Z" fill="url(#wedL)"/>
<ellipse cx="353.02" cy="186.26" rx="12.29" ry="1.93" fill="url(#blob)"/>
<ellipse cx="389.88" cy="181.83" rx="6.62" ry="1.73" fill="url(#blob)"/>
<path d="M314.50,184.20 C316.50,192.20 399.00,187.80 401.00,179.80 L402.98,180.76 L403.91,181.72 L404.52,182.69 L404.88,183.65 L405.00,184.61 L404.88,185.57 L404.52,186.54 L403.91,187.50 L402.98,188.46 L401.00,189.43 C399.00,197.43 316.50,201.83 314.50,193.83 L312.52,192.86 L311.59,191.90 L310.98,190.94 L310.62,189.97 L310.50,189.01 L310.62,188.05 L310.98,187.09 L311.59,186.12 L312.52,185.16 L314.50,184.20 Z" fill="#b4b4b4"/>
<path d="M314.50,184.20 C316.50,192.20 399.00,187.80 401.00,179.80 L402.98,180.76 C400.98,188.76 314.52,193.16 312.52,185.16 L314.50,184.20 Z" fill="#404040"/>
<path d="M312.52,185.16 C314.52,193.16 400.98,188.76 402.98,180.76 L403.96,181.79 L404.58,182.81 L404.92,183.84 C402.92,191.84 312.58,196.24 310.58,188.24 L310.92,187.21 L311.54,186.19 L312.52,185.16 Z" fill="#f2f2f2"/>
<path d="M310.58,188.24 C312.58,196.24 402.92,191.84 404.92,183.84 L405.00,184.80 L404.83,185.77 L404.42,186.73 C402.42,194.73 313.08,199.13 311.08,191.13 L310.67,190.17 L310.50,189.20 L310.58,188.24 Z" fill="#c0c0c0"/>
<path d="M311.08,191.13 C313.08,199.13 402.42,194.73 404.42,186.73 L403.75,187.69 L402.74,188.66 C400.74,196.66 314.76,201.06 312.76,193.06 L311.75,192.09 L311.08,191.13 Z" fill="#7a7a7a"/>
<path d="M312.76,193.06 C314.76,201.06 400.74,196.66 402.74,188.66 L401.00,189.43 C399.00,197.43 316.50,201.83 314.50,193.83 L312.76,193.06 Z" fill="#a0a0a0"/>
<path d="M401.00,179.80 L404.97,184.13 L391.97,186.33 L388.00,182.40 Z" fill="url(#wedR)"/>
<path d="M314.50,184.20 L310.53,188.53 L319.53,190.53 L323.50,186.40 Z" fill="url(#wedL)"/>
<ellipse cx="353.02" cy="195.89" rx="12.29" ry="1.93" fill="url(#blob)"/>
<ellipse cx="389.88" cy="191.46" rx="6.62" ry="1.73" fill="url(#blob)"/>
<path d="M314.50,193.83 C316.50,201.83 399.00,197.43 401.00,189.43 L402.98,190.39 L403.91,191.35 L404.52,192.32 L404.88,193.28 L405.00,194.24 L404.88,195.20 L404.52,196.17 L403.91,197.13 L402.98,198.09 L401.00,199.06 C399.00,207.06 316.50,211.46 314.50,203.46 L312.52,202.49 L311.59,201.53 L310.98,200.57 L310.62,199.60 L310.50,198.64 L310.62,197.68 L310.98,196.72 L311.59,195.75 L312.52,194.79 L314.50,193.83 Z" fill="#b4b4b4"/>
<path d="M314.50,193.83 C316.50,201.83 399.00,197.43 401.00,189.43 L402.98,190.39 C400.98,198.39 314.52,202.79 312.52,194.79 L314.50,193.83 Z" fill="#404040"/>
<path d="M312.52,194.79 C314.52,202.79 400.98,198.39 402.98,190.39 L403.96,191.42 L404.58,192.44 L404.92,193.47 C402.92,201.47 312.58,205.87 310.58,197.87 L310.92,196.84 L311.54,195.82 L312.52,194.79 Z" fill="#f2f2f2"/>
<path d="M310.58,197.87 C312.58,205.87 402.92,201.47 404.92,193.47 L405.00,194.43 L404.83,195.40 L404.42,196.36 C402.42,204.36 313.08,208.76 311.08,200.76 L310.67,199.80 L310.50,198.83 L310.58,197.87 Z" fill="#c0c0c0"/>
<path d="M311.08,200.76 C313.08,208.76 402.42,204.36 404.42,196.36 L403.75,197.32 L402.74,198.29 C400.74,206.29 314.76,210.69 312.76,202.69 L311.75,201.72 L311.08,200.76 Z" fill="#7a7a7a"/>
<path d="M312.76,202.69 C314.76,210.69 400.74,206.29 402.74,198.29 L401.00,199.06 C399.00,207.06 316.50,211.46 314.50,203.46 L312.76,202.69 Z" fill="#a0a0a0"/>
<path d="M401.00,189.43 L404.97,193.76 L391.97,195.96 L388.00,192.03 Z" fill="url(#wedR)"/>
<path d="M314.50,193.83 L310.53,198.16 L319.53,200.16 L323.50,196.03 Z" fill="url(#wedL)"/>
<ellipse cx="353.02" cy="205.52" rx="12.29" ry="1.93" fill="url(#blob)"/>
<ellipse cx="389.88" cy="201.09" rx="6.62" ry="1.73" fill="url(#blob)"/>
<path d="M314.50,203.46 C316.50,211.46 399.00,207.06 401.00,199.06 L402.98,200.02 L403.91,200.98 L404.52,201.95 L404.88,202.91 L405.00,203.87 L404.88,204.83 L404.52,205.80 L403.91,206.76 L402.98,207.72 L401.00,208.69 C399.00,216.69 316.50,221.09 314.50,213.09 L312.52,212.12 L311.59,211.16 L310.98,210.20 L310.62,209.23 L310.50,208.27 L310.62,207.31 L310.98,206.35 L311.59,205.38 L312.52,204.42 L314.50,203.46 Z" fill="#b4b4b4"/>
<path d="M314.50,203.46 C316.50,211.46 399.00,207.06 401.00,199.06 L402.98,200.02 C400.98,208.02 314.52,212.42 312.52,204.42 L314.50,203.46 Z" fill="#404040"/>
<path d="M312.52,204.42 C314.52,212.42 400.98,208.02 402.98,200.02 L403.96,201.05 L404.58,202.07 L404.92,203.10 C402.92,211.10 312.58,215.50 310.58,207.50 L310.92,206.47 L311.54,205.45 L312.52,204.42 Z" fill="#f2f2f2"/>
<path d="M310.58,207.50 C312.58,215.50 402.92,211.10 404.92,203.10 L405.00,204.06 L404.83,205.03 L404.42,205.99 C402.42,213.99 313.08,218.39 311.08,210.39 L310.67,209.43 L310.50,208.46 L310.58,207.50 Z" fill="#c0c0c0"/>
<path d="M311.08,210.39 C313.08,218.39 402.42,213.99 404.42,205.99 L403.75,206.95 L402.74,207.92 C400.74,215.92 314.76,220.32 312.76,212.32 L311.75,211.35 L311.08,210.39 Z" fill="#7a7a7a"/>
<path d="M312.76,212.32 C314.76,220.32 400.74,215.92 402.74,207.92 L401.00,208.69 C399.00,216.69 316.50,221.09 314.50,213.09 L312.76,212.32 Z" fill="#a0a0a0"/>
<path d="M401.00,199.06 L404.97,203.39 L391.97,205.59 L388.00,201.66 Z" fill="url(#wedR)"/>
<path d="M314.50,203.46 L310.53,207.79 L319.53,209.79 L323.50,205.66 Z" fill="url(#wedL)"/>
<ellipse cx="353.02" cy="215.15" rx="12.29" ry="1.93" fill="url(#blob)"/>
<ellipse cx="389.88" cy="210.72" rx="6.62" ry="1.73" fill="url(#blob)"/>
<path d="M314.50,213.09 C316.50,221.09 399.00,216.69 401.00,208.69 L402.98,209.65 L403.91,210.61 L404.52,211.58 L404.88,212.54 L405.00,213.50 L404.88,214.46 L404.52,215.43 L403.91,216.39 L402.98,217.35 L401.00,218.32 C399.00,226.32 316.50,230.72 314.50,222.72 L312.52,221.75 L311.59,220.79 L310.98,219.83 L310.62,218.86 L310.50,217.90 L310.62,216.94 L310.98,215.98 L311.59,215.01 L312.52,214.05 L314.50,213.09 Z" fill="#b4b4b4"/>
<path d="M314.50,213.09 C316.50,221.09 399.00,216.69 401.00,208.69 L402.98,209.65 C400.98,217.65 314.52,222.05 312.52,214.05 L314.50,213.09 Z" fill="#404040"/>
<path d="M312.52,214.05 C314.52,222.05 400.98,217.65 402.98,209.65 L403.96,210.68 L404.58,211.70 L404.92,212.73 C402.92,220.73 312.58,225.13 310.58,217.13 L310.92,216.10 L311.54,215.08 L312.52,214.05 Z" fill="#f2f2f2"/>
<path d="M310.58,217.13 C312.58,225.13 402.92,220.73 404.92,212.73 L405.00,213.69 L404.83,214.66 L404.42,215.62 C402.42,223.62 313.08,228.02 311.08,220.02 L310.67,219.06 L310.50,218.09 L310.58,217.13 Z" fill="#c0c0c0"/>
<path d="M311.08,220.02 C313.08,228.02 402.42,223.62 404.42,215.62 L403.75,216.58 L402.74,217.55 C400.74,225.55 314.76,229.95 312.76,221.95 L311.75,220.98 L311.08,220.02 Z" fill="#7a7a7a"/>
<path d="M312.76,221.95 C314.76,229.95 400.74,225.55 402.74,217.55 L401.00,218.32 C399.00,226.32 316.50,230.72 314.50,222.72 L312.76,221.95 Z" fill="#a0a0a0"/>
<path d="M401.00,208.69 L404.97,213.02 L391.97,215.22 L388.00,211.29 Z" fill="url(#wedR)"/>
<path d="M314.50,213.09 L310.53,217.42 L319.53,219.42 L323.50,215.29 Z" fill="url(#wedL)"/>
<ellipse cx="353.02" cy="224.78" rx="12.29" ry="1.93" fill="url(#blob)"/>
<ellipse cx="389.88" cy="220.35" rx="6.62" ry="1.73" fill="url(#blob)"/>
<path d="M314.50,222.72 C316.50,230.72 399.00,226.32 401.00,218.32 L402.98,219.28 L403.91,220.24 L404.52,221.21 L404.88,222.17 L405.00,223.13 L404.88,224.09 L404.52,225.06 L403.91,226.02 L402.98,226.98 L401.00,227.95 C399.00,235.95 316.50,240.35 314.50,232.35 L312.52,231.38 L311.59,230.42 L310.98,229.46 L310.62,228.49 L310.50,227.53 L310.62,226.57 L310.98,225.61 L311.59,224.64 L312.52,223.68 L314.50,222.72 Z" fill="#b4b4b4"/>
<path d="M314.50,222.72 C316.50,230.72 399.00,226.32 401.00,218.32 L402.98,219.28 C400.98,227.28 314.52,231.68 312.52,223.68 L314.50,222.72 Z" fill="#404040"/>
<path d="M312.52,223.68 C314.52,231.68 400.98,227.28 402.98,219.28 L403.96,220.31 L404.58,221.33 L404.92,222.36 C402.92,230.36 312.58,234.76 310.58,226.76 L310.92,225.73 L311.54,224.71 L312.52,223.68 Z" fill="#f2f2f2"/>
<path d="M310.58,226.76 C312.58,234.76 402.92,230.36 404.92,222.36 L405.00,223.32 L404.83,224.29 L404.42,225.25 C402.42,233.25 313.08,237.65 311.08,229.65 L310.67,228.69 L310.50,227.72 L310.58,226.76 Z" fill="#c0c0c0"/>
<path d="M311.08,229.65 C313.08,237.65 402.42,233.25 404.42,225.25 L403.75,226.21 L402.74,227.18 C400.74,235.18 314.76,239.58 312.76,231.58 L311.75,230.61 L311.08,229.65 Z" fill="#7a7a7a"/>
<path d="M312.76,231.58 C314.76,239.58 400.74,235.18 402.74,227.18 L401.00,227.95 C399.00,235.95 316.50,240.35 314.50,232.35 L312.76,231.58 Z" fill="#a0a0a0"/>
<path d="M401.00,218.32 L404.97,222.65 L391.97,224.85 L388.00,220.92 Z" fill="url(#wedR)"/>
<path d="M314.50,222.72 L310.53,227.05 L319.53,229.05 L323.50,224.92 Z" fill="url(#wedL)"/>
<ellipse cx="353.02" cy="234.41" rx="12.29" ry="1.93" fill="url(#blob)"/>
<ellipse cx="389.88" cy="229.98" rx="6.62" ry="1.73" fill="url(#blob)"/>
<path d="M314.50,232.35 C316.50,240.35 399.00,235.95 401.00,227.95 L402.98,228.91 L403.91,229.87 L404.52,230.84 L404.88,231.80 L405.00,232.76 L404.88,233.72 L404.52,234.69 L403.91,235.65 L402.98,236.61 L401.00,237.58 C399.00,245.58 316.50,249.98 314.50,241.98 L312.52,241.01 L311.59,240.05 L310.98,239.09 L310.62,238.12 L310.50,237.16 L310.62,236.20 L310.98,235.24 L311.59,234.27 L312.52,233.31 L314.50,232.35 Z" fill="#b4b4b4"/>
<path d="M314.50,232.35 C316.50,240.35 399.00,235.95 401.00,227.95 L402.98,228.91 C400.98,236.91 314.52,241.31 312.52,233.31 L314.50,232.35 Z" fill="#404040"/>
<path d="M312.52,233.31 C314.52,241.31 400.98,236.91 402.98,228.91 L403.96,229.94 L404.58,230.96 L404.92,231.99 C402.92,239.99 312.58,244.39 310.58,236.39 L310.92,235.36 L311.54,234.34 L312.52,233.31 Z" fill="#f2f2f2"/>
<path d="M310.58,236.39 C312.58,244.39 402.92,239.99 404.92,231.99 L405.00,232.95 L404.83,233.92 L404.42,234.88 C402.42,242.88 313.08,247.28 311.08,239.28 L310.67,238.32 L310.50,237.35 L310.58,236.39 Z" fill="#c0c0c0"/>
<path d="M311.08,239.28 C313.08,247.28 402.42,242.88 404.42,234.88 L403.75,235.84 L402.74,236.81 C400.74,244.81 314.76,249.21 312.76,241.21 L311.75,240.24 L311.08,239.28 Z" fill="#7a7a7a"/>
<path d="M312.76,241.21 C314.76,249.21 400.74,244.81 402.74,236.81 L401.00,237.58 C399.00,245.58 316.50,249.98 314.50,241.98 L312.76,241.21 Z" fill="#a0a0a0"/>
<path d="M401.00,227.95 L404.97,232.28 L391.97,234.48 L388.00,230.55 Z" fill="url(#wedR)"/>
<path d="M314.50,232.35 L310.53,236.68 L319.53,238.68 L323.50,234.55 Z" fill="url(#wedL)"/>
<ellipse cx="353.02" cy="244.04" rx="12.29" ry="1.93" fill="url(#blob)"/>
<ellipse cx="389.88" cy="239.61" rx="6.62" ry="1.73" fill="url(#blob)"/>
<path d="M314.50,241.98 C316.50,249.98 399.00,245.58 401.00,237.58 L402.98,238.54 L403.91,239.50 L404.52,240.47 L404.88,241.43 L405.00,242.39 L404.88,243.35 L404.52,244.32 L403.91,245.28 L402.98,246.24 L401.00,247.21 C399.00,255.21 316.50,259.61 314.50,251.61 L312.52,250.64 L311.59,249.68 L310.98,248.72 L310.62,247.75 L310.50,246.79 L310.62,245.83 L310.98,244.87 L311.59,243.90 L312.52,242.94 L314.50,241.98 Z" fill="#b4b4b4"/>
<path d="M314.50,241.98 C316.50,249.98 399.00,245.58 401.00,237.58 L402.98,238.54 C400.98,246.54 314.52,250.94 312.52,242.94 L314.50,241.98 Z" fill="#404040"/>
<path d="M312.52,242.94 C314.52,250.94 400.98,246.54 402.98,238.54 L403.96,239.57 L404.58,240.59 L404.92,241.62 C402.92,249.62 312.58,254.02 310.58,246.02 L310.92,244.99 L311.54,243.97 L312.52,242.94 Z" fill="#f2f2f2"/>
<path d="M310.58,246.02 C312.58,254.02 402.92,249.62 404.92,241.62 L405.00,242.58 L404.83,243.55 L404.42,244.51 C402.42,252.51 313.08,256.91 311.08,248.91 L310.67,247.95 L310.50,246.98 L310.58,246.02 Z" fill="#c0c0c0"/>
<path d="M311.08,248.91 C313.08,256.91 402.42,252.51 404.42,244.51 L403.75,245.47 L402.74,246.44 C400.74,254.44 314.76,258.84 312.76,250.84 L311.75,249.87 L311.08,248.91 Z" fill="#7a7a7a"/>
<path d="M312.76,250.84 C314.76,258.84 400.74,254.44 402.74,246.44 L401.00,247.21 C399.00,255.21 316.50,259.61 314.50,251.61 L312.76,250.84 Z" fill="#a0a0a0"/>
<path d="M401.00,237.58 L404.97,241.91 L391.97,244.11 L388.00,240.18 Z" fill="url(#wedR)"/>
<path d="M314.50,241.98 L310.53,246.31 L319.53,248.31 L323.50,244.18 Z" fill="url(#wedL)"/>
<ellipse cx="353.02" cy="253.67" rx="12.29" ry="1.93" fill="url(#blob)"/>
<ellipse cx="389.88" cy="249.24" rx="6.62" ry="1.73" fill="url(#blob)"/>
<path d="M314.50,251.61 C316.50,259.61 399.00,255.21 401.00,247.21 L402.98,248.17 L403.91,249.13 L404.52,250.10 L404.88,251.06 L405.00,252.02 L404.88,252.98 L404.52,253.95 L403.91,254.91 L402.98,255.87 L401.00,256.84 C399.00,264.84 316.50,269.24 314.50,261.24 L312.52,260.27 L311.59,259.31 L310.98,258.35 L310.62,257.38 L310.50,256.42 L310.62,255.46 L310.98,254.50 L311.59,253.53 L312.52,252.57 L314.50,251.61 Z" fill="#b4b4b4"/>
<path d="M314.50,251.61 C316.50,259.61 399.00,255.21 401.00,247.21 L402.98,248.17 C400.98,256.17 314.52,260.57 312.52,252.57 L314.50,251.61 Z" fill="#404040"/>
<path d="M312.52,252.57 C314.52,260.57 400.98,256.17 402.98,248.17 L403.96,249.20 L404.58,250.22 L404.92,251.25 C402.92,259.25 312.58,263.65 310.58,255.65 L310.92,254.62 L311.54,253.60 L312.52,252.57 Z" fill="#f2f2f2"/>
<path d="M310.58,255.65 C312.58,263.65 402.92,259.25 404.92,251.25 L405.00,252.21 L404.83,253.18 L404.42,254.14 C402.42,262.14 313.08,266.54 311.08,258.54 L310.67,257.58 L310.50,256.61 L310.58,255.65 Z" fill="#c0c0c0"/>
<path d="M311.08,258.54 C313.08,266.54 402.42,262.14 404.42,254.14 L403.75,255.10 L402.74,256.07 C400.74,264.07 314.76,268.47 312.76,260.47 L311.75,259.50 L311.08,258.54 Z" fill="#7a7a7a"/>
<path d="M312.76,260.47 C314.76,268.47 400.74,264.07 402.74,256.07 L401.00,256.84 C399.00,264.84 316.50,269.24 314.50,261.24 L312.76,260.47 Z" fill="#a0a0a0"/>
<path d="M401.00,247.21 L404.97,251.54 L391.97,253.74 L388.00,249.81 Z" fill="url(#wedR)"/>
<path d="M314.50,251.61 L310.53,255.94 L319.53,257.94 L323.50,253.81 Z" fill="url(#wedL)"/>
<ellipse cx="353.02" cy="263.30" rx="12.29" ry="1.93" fill="url(#blob)"/>
<ellipse cx="389.88" cy="258.87" rx="6.62" ry="1.73" fill="url(#blob)"/>
<path d="M314.50,261.24 C316.50,269.24 399.00,264.84 401.00,256.84 L402.98,257.80 L403.91,258.76 L404.52,259.73 L404.88,260.69 L405.00,261.65 L404.88,262.61 L404.52,263.58 L403.91,264.54 L402.98,265.50 L401.00,266.47 C399.00,274.47 316.50,278.87 314.50,270.87 L312.52,269.90 L311.59,268.94 L310.98,267.98 L310.62,267.01 L310.50,266.05 L310.62,265.09 L310.98,264.13 L311.59,263.16 L312.52,262.20 L314.50,261.24 Z" fill="#b4b4b4"/>
<path d="M314.50,261.24 C316.50,269.24 399.00,264.84 401.00,256.84 L402.98,257.80 C400.98,265.80 314.52,270.20 312.52,262.20 L314.50,261.24 Z" fill="#404040"/>
<path d="M312.52,262.20 C314.52,270.20 400.98,265.80 402.98,257.80 L403.96,258.83 L404.58,259.85 L404.92,260.88 C402.92,268.88 312.58,273.28 310.58,265.28 L310.92,264.25 L311.54,263.23 L312.52,262.20 Z" fill="#f2f2f2"/>
<path d="M310.58,265.28 C312.58,273.28 402.92,268.88 404.92,260.88 L405.00,261.84 L404.83,262.81 L404.42,263.77 C402.42,271.77 313.08,276.17 311.08,268.17 L310.67,267.21 L310.50,266.24 L310.58,265.28 Z" fill="#c0c0c0"/>
<path d="M311.08,268.17 C313.08,276.17 402.42,271.77 404.42,263.77 L403.75,264.73 L402.74,265.70 C400.74,273.70 314.76,278.10 312.76,270.10 L311.75,269.13 L311.08,268.17 Z" fill="#7a7a7a"/>
<path d="M312.76,270.10 C314.76,278.10 400.74,273.70 402.74,265.70 L401.00,266.47 C399.00,274.47 316.50,278.87 314.50,270.87 L312.76,270.10 Z" fill="#a0a0a0"/>
<path d="M401.00,256.84 L404.97,261.17 L391.97,263.37 L388.00,259.44 Z" fill="url(#wedR)"/>
<path d="M314.50,261.24 L310.53,265.57 L319.53,267.57 L323.50,263.44 Z" fill="url(#wedL)"/>
<ellipse cx="353.02" cy="272.93" rx="12.29" ry="1.93" fill="url(#blob)"/>
<ellipse cx="389.88" cy="268.50" rx="6.62" ry="1.73" fill="url(#blob)"/>
<path d="M314.50,270.87 C316.50,278.87 399.00,274.47 401.00,266.47 L402.98,267.43 L403.91,268.39 L404.52,269.36 L404.88,270.32 L404.93,271.04 L404.66,271.52 L404.26,272.00 L403.78,272.49 L403.22,272.97 L402.60,273.45 C400.60,286.85 314.90,291.25 312.90,277.85 L312.28,277.37 L311.72,276.89 L311.24,276.40 L310.84,275.92 L310.57,275.44 L310.62,274.72 L310.98,273.76 L311.59,272.79 L312.52,271.83 L314.50,270.87 Z" fill="#b4b4b4"/>
<path d="M314.50,270.87 C316.50,278.87 399.00,274.47 401.00,266.47 L402.98,267.43 C400.98,275.43 314.52,279.83 312.52,271.83 L314.50,270.87 Z" fill="#404040"/>
<path d="M312.52,271.83 C314.52,279.83 400.98,275.43 402.98,267.43 L403.96,268.46 L404.58,269.48 L404.92,270.51 C402.92,278.51 312.58,282.91 310.58,274.91 L310.92,273.88 L311.54,272.86 L312.52,271.83 Z" fill="#f2f2f2"/>
<path d="M310.58,274.91 C312.58,282.91 402.92,278.51 404.92,270.51 L404.89,271.14 L404.59,271.62 L404.17,272.10 C402.17,282.75 313.33,287.15 311.33,276.50 L310.91,276.02 L310.61,275.54 L310.58,274.91 Z" fill="#c0c0c0"/>
<path d="M311.33,276.50 C313.33,287.15 402.17,282.75 404.17,272.10 L403.68,272.58 L403.10,273.06 C401.10,285.68 314.40,290.08 312.40,277.46 L311.82,276.98 L311.33,276.50 Z" fill="#e2e2e2"/>
<path d="M312.40,277.46 C314.40,290.08 401.10,285.68 403.10,273.06 L402.60,273.45 C400.60,286.85 314.90,291.25 312.90,277.85 L312.40,277.46 Z" fill="#9a9a9a"/>
<path d="M401.00,266.47 L404.97,270.80 L391.97,273.00 L388.00,269.07 Z" fill="url(#wedR)"/>
<path d="M314.50,270.87 L310.53,275.20 L319.53,277.20 L323.50,273.07 Z" fill="url(#wedL)"/>
<ellipse cx="353.02" cy="279.96" rx="12.29" ry="1.93" fill="url(#blob)"/>
<ellipse cx="389.88" cy="278.13" rx="6.62" ry="1.73" fill="url(#blob)"/>
<clipPath id="cl2"><path d="M314.50,174.57 C316.50,182.57 399.00,178.17 401.00,170.17 L402.98,171.13 L403.91,172.09 L404.52,173.06 L404.88,174.02 L405.00,174.98 L404.88,175.94 L404.52,176.91 L403.91,177.87 L402.98,178.83 L401.00,179.80 C399.00,187.80 316.50,192.20 314.50,184.20 L312.52,183.23 L311.59,182.27 L310.98,181.31 L310.62,180.34 L310.50,179.38 L310.62,178.42 L310.98,177.46 L311.59,176.49 L312.52,175.53 L314.50,174.57 Z"/><path d="M314.50,184.20 C316.50,192.20 399.00,187.80 401.00,179.80 L402.98,180.76 L403.91,181.72 L404.52,182.69 L404.88,183.65 L405.00,184.61 L404.88,185.57 L404.52,186.54 L403.91,187.50 L402.98,188.46 L401.00,189.43 C399.00,197.43 316.50,201.83 314.50,193.83 L312.52,192.86 L311.59,191.90 L310.98,190.94 L310.62,189.97 L310.50,189.01 L310.62,188.05 L310.98,187.09 L311.59,186.12 L312.52,185.16 L314.50,184.20 Z"/><path d="M314.50,193.83 C316.50,201.83 399.00,197.43 401.00,189.43 L402.98,190.39 L403.91,191.35 L404.52,192.32 L404.88,193.28 L405.00,194.24 L404.88,195.20 L404.52,196.17 L403.91,197.13 L402.98,198.09 L401.00,199.06 C399.00,207.06 316.50,211.46 314.50,203.46 L312.52,202.49 L311.59,201.53 L310.98,200.57 L310.62,199.60 L310.50,198.64 L310.62,197.68 L310.98,196.72 L311.59,195.75 L312.52,194.79 L314.50,193.83 Z"/><path d="M314.50,203.46 C316.50,211.46 399.00,207.06 401.00,199.06 L402.98,200.02 L403.91,200.98 L404.52,201.95 L404.88,202.91 L405.00,203.87 L404.88,204.83 L404.52,205.80 L403.91,206.76 L402.98,207.72 L401.00,208.69 C399.00,216.69 316.50,221.09 314.50,213.09 L312.52,212.12 L311.59,211.16 L310.98,210.20 L310.62,209.23 L310.50,208.27 L310.62,207.31 L310.98,206.35 L311.59,205.38 L312.52,204.42 L314.50,203.46 Z"/><path d="M314.50,213.09 C316.50,221.09 399.00,216.69 401.00,208.69 L402.98,209.65 L403.91,210.61 L404.52,211.58 L404.88,212.54 L405.00,213.50 L404.88,214.46 L404.52,215.43 L403.91,216.39 L402.98,217.35 L401.00,218.32 C399.00,226.32 316.50,230.72 314.50,222.72 L312.52,221.75 L311.59,220.79 L310.98,219.83 L310.62,218.86 L310.50,217.90 L310.62,216.94 L310.98,215.98 L311.59,215.01 L312.52,214.05 L314.50,213.09 Z"/><path d="M314.50,222.72 C316.50,230.72 399.00,226.32 401.00,218.32 L402.98,219.28 L403.91,220.24 L404.52,221.21 L404.88,222.17 L405.00,223.13 L404.88,224.09 L404.52,225.06 L403.91,226.02 L402.98,226.98 L401.00,227.95 C399.00,235.95 316.50,240.35 314.50,232.35 L312.52,231.38 L311.59,230.42 L310.98,229.46 L310.62,228.49 L310.50,227.53 L310.62,226.57 L310.98,225.61 L311.59,224.64 L312.52,223.68 L314.50,222.72 Z"/><path d="M314.50,232.35 C316.50,240.35 399.00,235.95 401.00,227.95 L402.98,228.91 L403.91,229.87 L404.52,230.84 L404.88,231.80 L405.00,232.76 L404.88,233.72 L404.52,234.69 L403.91,235.65 L402.98,236.61 L401.00,237.58 C399.00,245.58 316.50,249.98 314.50,241.98 L312.52,241.01 L311.59,240.05 L310.98,239.09 L310.62,238.12 L310.50,237.16 L310.62,236.20 L310.98,235.24 L311.59,234.27 L312.52,233.31 L314.50,232.35 Z"/><path d="M314.50,241.98 C316.50,249.98 399.00,245.58 401.00,237.58 L402.98,238.54 L403.91,239.50 L404.52,240.47 L404.88,241.43 L405.00,242.39 L404.88,243.35 L404.52,244.32 L403.91,245.28 L402.98,246.24 L401.00,247.21 C399.00,255.21 316.50,259.61 314.50,251.61 L312.52,250.64 L311.59,249.68 L310.98,248.72 L310.62,247.75 L310.50,246.79 L310.62,245.83 L310.98,244.87 L311.59,243.90 L312.52,242.94 L314.50,241.98 Z"/><path d="M314.50,251.61 C316.50,259.61 399.00,255.21 401.00,247.21 L402.98,248.17 L403.91,249.13 L404.52,250.10 L404.88,251.06 L405.00,252.02 L404.88,252.98 L404.52,253.95 L403.91,254.91 L402.98,255.87 L401.00,256.84 C399.00,264.84 316.50,269.24 314.50,261.24 L312.52,260.27 L311.59,259.31 L310.98,258.35 L310.62,257.38 L310.50,256.42 L310.62,255.46 L310.98,254.50 L311.59,253.53 L312.52,252.57 L314.50,251.61 Z"/><path d="M314.50,261.24 C316.50,269.24 399.00,264.84 401.00,256.84 L402.98,257.80 L403.91,258.76 L404.52,259.73 L404.88,260.69 L405.00,261.65 L404.88,262.61 L404.52,263.58 L403.91,264.54 L402.98,265.50 L401.00,266.47 C399.00,274.47 316.50,278.87 314.50,270.87 L312.52,269.90 L311.59,268.94 L310.98,267.98 L310.62,267.01 L310.50,266.05 L310.62,265.09 L310.98,264.13 L311.59,263.16 L312.52,262.20 L314.50,261.24 Z"/><path d="M314.50,270.87 C316.50,278.87 399.00,274.47 401.00,266.47 L402.98,267.43 L403.91,268.39 L404.52,269.36 L404.88,270.32 L404.93,271.04 L404.66,271.52 L404.26,272.00 L403.78,272.49 L403.22,272.97 L402.60,273.45 C400.60,286.85 314.90,291.25 312.90,277.85 L312.28,277.37 L311.72,276.89 L311.24,276.40 L310.84,275.92 L310.57,275.44 L310.62,274.72 L310.98,273.76 L311.59,272.79 L312.52,271.83 L314.50,270.87 Z"/></clipPath>
<rect x="308.50" y="159.50" width="98.50" height="135.93" fill="url(#gov)" clip-path="url(#cl2)"/>
<path d="M312.00,170.57 Q348.30,170.24 382.04,164.09 Q401.00,169.50 405.00,174.50 L401.00,171.17 C399.00,179.17 316.50,183.57 314.50,175.57 Z" fill="url(#gint)"/>
<path d="M320.50,172.37 C323.50,179.57 392.00,175.17 395.00,167.97" fill="none" stroke="#3a3a3a" stroke-width="2.6" opacity="0.8"/>
<path d="M322.50,173.97 C324.50,181.17 391.00,176.77 393.00,169.57" fill="none" stroke="#dcdcdc" stroke-width="1.8"/>
<path d="M378.04,161.59 Q402.00,162.59 405.00,172.17 Q397.00,167.59 378.04,167.29 Z" fill="#d4d4d4"/>
<path d="M380.04,162.49 Q401.50,163.29 404.50,171.87" fill="none" stroke="#f6f6f6" stroke-width="1.5"/>
<path d="M382.04,167.09 Q397.00,167.39 403.50,172.67" fill="none" stroke="#3a3a3a" stroke-width="1.3"/>
<path d="M316.50,164.77 Q348.30,159.13 381.04,155.90 Q384.54,159.99 382.54,164.09 Q348.30,166.43 312.00,170.77 Z" fill="#b4b4b4"/>
<path d="M317.96,165.49 Q348.30,160.01 380.04,156.88" fill="none" stroke="#5e5e5e" stroke-width="1.31"/>
<path d="M317.02,168.07 Q348.30,163.14 379.54,160.40" fill="none" stroke="#f4f4f4" stroke-width="2.78"/>
<path d="M314.36,170.29 Q348.30,165.84 381.04,163.43" fill="none" stroke="#4a4a4a" stroke-width="1.31"/>
<path d="M435.25,138.90 C437.25,146.90 518.60,142.50 520.60,134.50 L522.58,135.50 L523.51,136.50 L524.12,137.50 L524.48,138.50 L524.60,139.50 L524.48,140.50 L524.12,141.50 L523.51,142.50 L522.58,143.50 L520.60,144.50 C518.60,152.50 437.25,156.90 435.25,148.90 L433.27,147.90 L432.34,146.90 L431.73,145.90 L431.37,144.90 L431.25,143.90 L431.37,142.90 L431.73,141.90 L432.34,140.90 L433.27,139.90 L435.25,138.90 Z" fill="#b4b4b4"/>
<path d="M435.25,138.90 C437.25,146.90 518.60,142.50 520.60,134.50 L522.58,135.50 C520.58,143.50 435.27,147.90 433.27,139.90 L435.25,138.90 Z" fill="#5a5a5a"/>
<path d="M433.27,139.90 C435.27,147.90 520.58,143.50 522.58,135.50 L523.56,136.57 L524.18,137.63 L524.52,138.70 C522.52,146.70 433.33,151.10 431.33,143.10 L431.67,142.03 L432.29,140.97 L433.27,139.90 Z" fill="#f2f2f2"/>
<path d="M431.33,143.10 C433.33,151.10 522.52,146.70 524.52,138.70 L524.60,139.70 L524.43,140.70 L524.02,141.70 C522.02,149.70 433.83,154.10 431.83,146.10 L431.42,145.10 L431.25,144.10 L431.33,143.10 Z" fill="#c0c0c0"/>
<path d="M431.83,146.10 C433.83,154.10 522.02,149.70 524.02,141.70 L523.35,142.70 L522.34,143.70 C520.34,151.70 435.51,156.10 433.51,148.10 L432.50,147.10 L431.83,146.10 Z" fill="#7a7a7a"/>
<path d="M433.51,148.10 C435.51,156.10 520.34,151.70 522.34,143.70 L520.60,144.50 C518.60,152.50 437.25,156.90 435.25,148.90 L433.51,148.10 Z" fill="#a0a0a0"/>
<path d="M520.60,134.50 L524.57,139.00 L511.57,141.20 L507.60,137.10 Z" fill="url(#wedR)"/>
<path d="M435.25,138.90 L431.28,143.40 L440.28,145.40 L444.25,141.10 Z" fill="url(#wedL)"/>
<ellipse cx="473.26" cy="150.90" rx="12.14" ry="2.00" fill="url(#blob)"/>
<ellipse cx="509.66" cy="146.46" rx="6.53" ry="1.80" fill="url(#blob)"/>
<path d="M435.25,148.90 C437.25,156.90 518.60,152.50 520.60,144.50 L522.58,145.50 L523.51,146.50 L524.12,147.50 L524.48,148.50 L524.60,149.50 L524.48,150.50 L524.12,151.50 L523.51,152.50 L522.58,153.50 L520.60,154.50 C518.60,162.50 437.25,166.90 435.25,158.90 L433.27,157.90 L432.34,156.90 L431.73,155.90 L431.37,154.90 L431.25,153.90 L431.37,152.90 L431.73,151.90 L432.34,150.90 L433.27,149.90 L435.25,148.90 Z" fill="#b4b4b4"/>
<path d="M435.25,148.90 C437.25,156.90 518.60,152.50 520.60,144.50 L522.58,145.50 C520.58,153.50 435.27,157.90 433.27,149.90 L435.25,148.90 Z" fill="#404040"/>
<path d="M433.27,149.90 C435.27,157.90 520.58,153.50 522.58,145.50 L523.56,146.57 L524.18,147.63 L524.52,148.70 C522.52,156.70 433.33,161.10 431.33,153.10 L431.67,152.03 L432.29,150.97 L433.27,149.90 Z" fill="#f2f2f2"/>
<path d="M431.33,153.10 C433.33,161.10 522.52,156.70 524.52,148.70 L524.60,149.70 L524.43,150.70 L524.02,151.70 C522.02,159.70 433.83,164.10 431.83,156.10 L431.42,155.10 L431.25,154.10 L431.33,153.10 Z" fill="#c0c0c0"/>
<path d="M431.83,156.10 C433.83,164.10 522.02,159.70 524.02,151.70 L523.35,152.70 L522.34,153.70 C520.34,161.70 435.51,166.10 433.51,158.10 L432.50,157.10 L431.83,156.10 Z" fill="#7a7a7a"/>
<path d="M433.51,158.10 C435.51,166.10 520.34,161.70 522.34,153.70 L520.60,154.50 C518.60,162.50 437.25,166.90 435.25,158.90 L433.51,158.10 Z" fill="#a0a0a0"/>
<path d="M520.60,144.50 L524.57,149.00 L511.57,151.20 L507.60,147.10 Z" fill="url(#wedR)"/>
<path d="M435.25,148.90 L431.28,153.40 L440.28,155.40 L444.25,151.10 Z" fill="url(#wedL)"/>
<ellipse cx="473.26" cy="160.90" rx="12.14" ry="2.00" fill="url(#blob)"/>
<ellipse cx="509.66" cy="156.46" rx="6.53" ry="1.80" fill="url(#blob)"/>
<path d="M435.25,158.90 C437.25,166.90 518.60,162.50 520.60,154.50 L522.58,155.50 L523.51,156.50 L524.12,157.50 L524.48,158.50 L524.60,159.50 L524.48,160.50 L524.12,161.50 L523.51,162.50 L522.58,163.50 L520.60,164.50 C518.60,172.50 437.25,176.90 435.25,168.90 L433.27,167.90 L432.34,166.90 L431.73,165.90 L431.37,164.90 L431.25,163.90 L431.37,162.90 L431.73,161.90 L432.34,160.90 L433.27,159.90 L435.25,158.90 Z" fill="#b4b4b4"/>
<path d="M435.25,158.90 C437.25,166.90 518.60,162.50 520.60,154.50 L522.58,155.50 C520.58,163.50 435.27,167.90 433.27,159.90 L435.25,158.90 Z" fill="#404040"/>
<path d="M433.27,159.90 C435.27,167.90 520.58,163.50 522.58,155.50 L523.56,156.57 L524.18,157.63 L524.52,158.70 C522.52,166.70 433.33,171.10 431.33,163.10 L431.67,162.03 L432.29,160.97 L433.27,159.90 Z" fill="#f2f2f2"/>
<path d="M431.33,163.10 C433.33,171.10 522.52,166.70 524.52,158.70 L524.60,159.70 L524.43,160.70 L524.02,161.70 C522.02,169.70 433.83,174.10 431.83,166.10 L431.42,165.10 L431.25,164.10 L431.33,163.10 Z" fill="#c0c0c0"/>
<path d="M431.83,166.10 C433.83,174.10 522.02,169.70 524.02,161.70 L523.35,162.70 L522.34,163.70 C520.34,171.70 435.51,176.10 433.51,168.10 L432.50,167.10 L431.83,166.10 Z" fill="#7a7a7a"/>
<path d="M433.51,168.10 C435.51,176.10 520.34,171.70 522.34,163.70 L520.60,164.50 C518.60,172.50 437.25,176.90 435.25,168.90 L433.51,168.10 Z" fill="#a0a0a0"/>
<path d="M520.60,154.50 L524.57,159.00 L511.57,161.20 L507.60,157.10 Z" fill="url(#wedR)"/>
<path d="M435.25,158.90 L431.28,163.40 L440.28,165.40 L444.25,161.10 Z" fill="url(#wedL)"/>
<ellipse cx="473.26" cy="170.90" rx="12.14" ry="2.00" fill="url(#blob)"/>
<ellipse cx="509.66" cy="166.46" rx="6.53" ry="1.80" fill="url(#blob)"/>
<path d="M435.25,168.90 C437.25,176.90 518.60,172.50 520.60,164.50 L522.58,165.50 L523.51,166.50 L524.12,167.50 L524.48,168.50 L524.60,169.50 L524.48,170.50 L524.12,171.50 L523.51,172.50 L522.58,173.50 L520.60,174.50 C518.60,182.50 437.25,186.90 435.25,178.90 L433.27,177.90 L432.34,176.90 L431.73,175.90 L431.37,174.90 L431.25,173.90 L431.37,172.90 L431.73,171.90 L432.34,170.90 L433.27,169.90 L435.25,168.90 Z" fill="#b4b4b4"/>
<path d="M435.25,168.90 C437.25,176.90 518.60,172.50 520.60,164.50 L522.58,165.50 C520.58,173.50 435.27,177.90 433.27,169.90 L435.25,168.90 Z" fill="#404040"/>
<path d="M433.27,169.90 C435.27,177.90 520.58,173.50 522.58,165.50 L523.56,166.57 L524.18,167.63 L524.52,168.70 C522.52,176.70 433.33,181.10 431.33,173.10 L431.67,172.03 L432.29,170.97 L433.27,169.90 Z" fill="#f2f2f2"/>
<path d="M431.33,173.10 C433.33,181.10 522.52,176.70 524.52,168.70 L524.60,169.70 L524.43,170.70 L524.02,171.70 C522.02,179.70 433.83,184.10 431.83,176.10 L431.42,175.10 L431.25,174.10 L431.33,173.10 Z" fill="#c0c0c0"/>
<path d="M431.83,176.10 C433.83,184.10 522.02,179.70 524.02,171.70 L523.35,172.70 L522.34,173.70 C520.34,181.70 435.51,186.10 433.51,178.10 L432.50,177.10 L431.83,176.10 Z" fill="#7a7a7a"/>
<path d="M433.51,178.10 C435.51,186.10 520.34,181.70 522.34,173.70 L520.60,174.50 C518.60,182.50 437.25,186.90 435.25,178.90 L433.51,178.10 Z" fill="#a0a0a0"/>
<path d="M520.60,164.50 L524.57,169.00 L511.57,171.20 L507.60,167.10 Z" fill="url(#wedR)"/>
<path d="M435.25,168.90 L431.28,173.40 L440.28,175.40 L444.25,171.10 Z" fill="url(#wedL)"/>
<ellipse cx="473.26" cy="180.90" rx="12.14" ry="2.00" fill="url(#blob)"/>
<ellipse cx="509.66" cy="176.46" rx="6.53" ry="1.80" fill="url(#blob)"/>
<path d="M435.25,178.90 C437.25,186.90 518.60,182.50 520.60,174.50 L522.58,175.50 L523.51,176.50 L524.12,177.50 L524.48,178.50 L524.60,179.50 L524.48,180.50 L524.12,181.50 L523.51,182.50 L522.58,183.50 L520.60,184.50 C518.60,192.50 437.25,196.90 435.25,188.90 L433.27,187.90 L432.34,186.90 L431.73,185.90 L431.37,184.90 L431.25,183.90 L431.37,182.90 L431.73,181.90 L432.34,180.90 L433.27,179.90 L435.25,178.90 Z" fill="#b4b4b4"/>
<path d="M435.25,178.90 C437.25,186.90 518.60,182.50 520.60,174.50 L522.58,175.50 C520.58,183.50 435.27,187.90 433.27,179.90 L435.25,178.90 Z" fill="#404040"/>
<path d="M433.27,179.90 C435.27,187.90 520.58,183.50 522.58,175.50 L523.56,176.57 L524.18,177.63 L524.52,178.70 C522.52,186.70 433.33,191.10 431.33,183.10 L431.67,182.03 L432.29,180.97 L433.27,179.90 Z" fill="#f2f2f2"/>
<path d="M431.33,183.10 C433.33,191.10 522.52,186.70 524.52,178.70 L524.60,179.70 L524.43,180.70 L524.02,181.70 C522.02,189.70 433.83,194.10 431.83,186.10 L431.42,185.10 L431.25,184.10 L431.33,183.10 Z" fill="#c0c0c0"/>
<path d="M431.83,186.10 C433.83,194.10 522.02,189.70 524.02,181.70 L523.35,182.70 L522.34,183.70 C520.34,191.70 435.51,196.10 433.51,188.10 L432.50,187.10 L431.83,186.10 Z" fill="#7a7a7a"/>
<path d="M433.51,188.10 C435.51,196.10 520.34,191.70 522.34,183.70 L520.60,184.50 C518.60,192.50 437.25,196.90 435.25,188.90 L433.51,188.10 Z" fill="#a0a0a0"/>
<path d="M520.60,174.50 L524.57,179.00 L511.57,181.20 L507.60,177.10 Z" fill="url(#wedR)"/>
<path d="M435.25,178.90 L431.28,183.40 L440.28,185.40 L444.25,181.10 Z" fill="url(#wedL)"/>
<ellipse cx="473.26" cy="190.90" rx="12.14" ry="2.00" fill="url(#blob)"/>
<ellipse cx="509.66" cy="186.46" rx="6.53" ry="1.80" fill="url(#blob)"/>
<path d="M435.25,188.90 C437.25,196.90 518.60,192.50 520.60,184.50 L522.58,185.50 L523.51,186.50 L524.12,187.50 L524.48,188.50 L524.60,189.50 L524.48,190.50 L524.12,191.50 L523.51,192.50 L522.58,193.50 L520.60,194.50 C518.60,202.50 437.25,206.90 435.25,198.90 L433.27,197.90 L432.34,196.90 L431.73,195.90 L431.37,194.90 L431.25,193.90 L431.37,192.90 L431.73,191.90 L432.34,190.90 L433.27,189.90 L435.25,188.90 Z" fill="#b4b4b4"/>
<path d="M435.25,188.90 C437.25,196.90 518.60,192.50 520.60,184.50 L522.58,185.50 C520.58,193.50 435.27,197.90 433.27,189.90 L435.25,188.90 Z" fill="#404040"/>
<path d="M433.27,189.90 C435.27,197.90 520.58,193.50 522.58,185.50 L523.56,186.57 L524.18,187.63 L524.52,188.70 C522.52,196.70 433.33,201.10 431.33,193.10 L431.67,192.03 L432.29,190.97 L433.27,189.90 Z" fill="#f2f2f2"/>
<path d="M431.33,193.10 C433.33,201.10 522.52,196.70 524.52,188.70 L524.60,189.70 L524.43,190.70 L524.02,191.70 C522.02,199.70 433.83,204.10 431.83,196.10 L431.42,195.10 L431.25,194.10 L431.33,193.10 Z" fill="#c0c0c0"/>
<path d="M431.83,196.10 C433.83,204.10 522.02,199.70 524.02,191.70 L523.35,192.70 L522.34,193.70 C520.34,201.70 435.51,206.10 433.51,198.10 L432.50,197.10 L431.83,196.10 Z" fill="#7a7a7a"/>
<path d="M433.51,198.10 C435.51,206.10 520.34,201.70 522.34,193.70 L520.60,194.50 C518.60,202.50 437.25,206.90 435.25,198.90 L433.51,198.10 Z" fill="#a0a0a0"/>
<path d="M520.60,184.50 L524.57,189.00 L511.57,191.20 L507.60,187.10 Z" fill="url(#wedR)"/>
<path d="M435.25,188.90 L431.28,193.40 L440.28,195.40 L444.25,191.10 Z" fill="url(#wedL)"/>
<ellipse cx="473.26" cy="200.90" rx="12.14" ry="2.00" fill="url(#blob)"/>
<ellipse cx="509.66" cy="196.46" rx="6.53" ry="1.80" fill="url(#blob)"/>
<path d="M435.25,198.90 C437.25,206.90 518.60,202.50 520.60,194.50 L522.58,195.50 L523.51,196.50 L524.12,197.50 L524.48,198.50 L524.60,199.50 L524.48,200.50 L524.12,201.50 L523.51,202.50 L522.58,203.50 L520.60,204.50 C518.60,212.50 437.25,216.90 435.25,208.90 L433.27,207.90 L432.34,206.90 L431.73,205.90 L431.37,204.90 L431.25,203.90 L431.37,202.90 L431.73,201.90 L432.34,200.90 L433.27,199.90 L435.25,198.90 Z" fill="#b4b4b4"/>
<path d="M435.25,198.90 C437.25,206.90 518.60,202.50 520.60,194.50 L522.58,195.50 C520.58,203.50 435.27,207.90 433.27,199.90 L435.25,198.90 Z" fill="#404040"/>
<path d="M433.27,199.90 C435.27,207.90 520.58,203.50 522.58,195.50 L523.56,196.57 L524.18,197.63 L524.52,198.70 C522.52,206.70 433.33,211.10 431.33,203.10 L431.67,202.03 L432.29,200.97 L433.27,199.90 Z" fill="#f2f2f2"/>
<path d="M431.33,203.10 C433.33,211.10 522.52,206.70 524.52,198.70 L524.60,199.70 L524.43,200.70 L524.02,201.70 C522.02,209.70 433.83,214.10 431.83,206.10 L431.42,205.10 L431.25,204.10 L431.33,203.10 Z" fill="#c0c0c0"/>
<path d="M431.83,206.10 C433.83,214.10 522.02,209.70 524.02,201.70 L523.35,202.70 L522.34,203.70 C520.34,211.70 435.51,216.10 433.51,208.10 L432.50,207.10 L431.83,206.10 Z" fill="#7a7a7a"/>
<path d="M433.51,208.10 C435.51,216.10 520.34,211.70 522.34,203.70 L520.60,204.50 C518.60,212.50 437.25,216.90 435.25,208.90 L433.51,208.10 Z" fill="#a0a0a0"/>
<path d="M520.60,194.50 L524.57,199.00 L511.57,201.20 L507.60,197.10 Z" fill="url(#wedR)"/>
<path d="M435.25,198.90 L431.28,203.40 L440.28,205.40 L444.25,201.10 Z" fill="url(#wedL)"/>
<ellipse cx="473.26" cy="210.90" rx="12.14" ry="2.00" fill="url(#blob)"/>
<ellipse cx="509.66" cy="206.46" rx="6.53" ry="1.80" fill="url(#blob)"/>
<path d="M435.25,208.90 C437.25,216.90 518.60,212.50 520.60,204.50 L522.58,205.50 L523.51,206.50 L524.12,207.50 L524.48,208.50 L524.60,209.50 L524.48,210.50 L524.12,211.50 L523.51,212.50 L522.58,213.50 L520.60,214.50 C518.60,222.50 437.25,226.90 435.25,218.90 L433.27,217.90 L432.34,216.90 L431.73,215.90 L431.37,214.90 L431.25,213.90 L431.37,212.90 L431.73,211.90 L432.34,210.90 L433.27,209.90 L435.25,208.90 Z" fill="#b4b4b4"/>
<path d="M435.25,208.90 C437.25,216.90 518.60,212.50 520.60,204.50 L522.58,205.50 C520.58,213.50 435.27,217.90 433.27,209.90 L435.25,208.90 Z" fill="#404040"/>
<path d="M433.27,209.90 C435.27,217.90 520.58,213.50 522.58,205.50 L523.56,206.57 L524.18,207.63 L524.52,208.70 C522.52,216.70 433.33,221.10 431.33,213.10 L431.67,212.03 L432.29,210.97 L433.27,209.90 Z" fill="#f2f2f2"/>
<path d="M431.33,213.10 C433.33,221.10 522.52,216.70 524.52,208.70 L524.60,209.70 L524.43,210.70 L524.02,211.70 C522.02,219.70 433.83,224.10 431.83,216.10 L431.42,215.10 L431.25,214.10 L431.33,213.10 Z" fill="#c0c0c0"/>
<path d="M431.83,216.10 C433.83,224.10 522.02,219.70 524.02,211.70 L523.35,212.70 L522.34,213.70 C520.34,221.70 435.51,226.10 433.51,218.10 L432.50,217.10 L431.83,216.10 Z" fill="#7a7a7a"/>
<path d="M433.51,218.10 C435.51,226.10 520.34,221.70 522.34,213.70 L520.60,214.50 C518.60,222.50 437.25,226.90 435.25,218.90 L433.51,218.10 Z" fill="#a0a0a0"/>
<path d="M520.60,204.50 L524.57,209.00 L511.57,211.20 L507.60,207.10 Z" fill="url(#wedR)"/>
<path d="M435.25,208.90 L431.28,213.40 L440.28,215.40 L444.25,211.10 Z" fill="url(#wedL)"/>
<ellipse cx="473.26" cy="220.90" rx="12.14" ry="2.00" fill="url(#blob)"/>
<ellipse cx="509.66" cy="216.46" rx="6.53" ry="1.80" fill="url(#blob)"/>
<path d="M435.25,218.90 C437.25,226.90 518.60,222.50 520.60,214.50 L522.58,215.50 L523.51,216.50 L524.12,217.50 L524.48,218.50 L524.60,219.50 L524.48,220.50 L524.12,221.50 L523.51,222.50 L522.58,223.50 L520.60,224.50 C518.60,232.50 437.25,236.90 435.25,228.90 L433.27,227.90 L432.34,226.90 L431.73,225.90 L431.37,224.90 L431.25,223.90 L431.37,222.90 L431.73,221.90 L432.34,220.90 L433.27,219.90 L435.25,218.90 Z" fill="#b4b4b4"/>
<path d="M435.25,218.90 C437.25,226.90 518.60,222.50 520.60,214.50 L522.58,215.50 C520.58,223.50 435.27,227.90 433.27,219.90 L435.25,218.90 Z" fill="#404040"/>
<path d="M433.27,219.90 C435.27,227.90 520.58,223.50 522.58,215.50 L523.56,216.57 L524.18,217.63 L524.52,218.70 C522.52,226.70 433.33,231.10 431.33,223.10 L431.67,222.03 L432.29,220.97 L433.27,219.90 Z" fill="#f2f2f2"/>
<path d="M431.33,223.10 C433.33,231.10 522.52,226.70 524.52,218.70 L524.60,219.70 L524.43,220.70 L524.02,221.70 C522.02,229.70 433.83,234.10 431.83,226.10 L431.42,225.10 L431.25,224.10 L431.33,223.10 Z" fill="#c0c0c0"/>
<path d="M431.83,226.10 C433.83,234.10 522.02,229.70 524.02,221.70 L523.35,222.70 L522.34,223.70 C520.34,231.70 435.51,236.10 433.51,228.10 L432.50,227.10 L431.83,226.10 Z" fill="#7a7a7a"/>
<path d="M433.51,228.10 C435.51,236.10 520.34,231.70 522.34,223.70 L520.60,224.50 C518.60,232.50 437.25,236.90 435.25,228.90 L433.51,228.10 Z" fill="#a0a0a0"/>
<path d="M520.60,214.50 L524.57,219.00 L511.57,221.20 L507.60,217.10 Z" fill="url(#wedR)"/>
<path d="M435.25,218.90 L431.28,223.40 L440.28,225.40 L444.25,221.10 Z" fill="url(#wedL)"/>
<ellipse cx="473.26" cy="230.90" rx="12.14" ry="2.00" fill="url(#blob)"/>
<ellipse cx="509.66" cy="226.46" rx="6.53" ry="1.80" fill="url(#blob)"/>
<path d="M435.25,228.90 C437.25,236.90 518.60,232.50 520.60,224.50 L522.58,225.50 L523.51,226.50 L524.12,227.50 L524.48,228.50 L524.60,229.50 L524.48,230.50 L524.12,231.50 L523.51,232.50 L522.58,233.50 L520.60,234.50 C518.60,242.50 437.25,246.90 435.25,238.90 L433.27,237.90 L432.34,236.90 L431.73,235.90 L431.37,234.90 L431.25,233.90 L431.37,232.90 L431.73,231.90 L432.34,230.90 L433.27,229.90 L435.25,228.90 Z" fill="#b4b4b4"/>
<path d="M435.25,228.90 C437.25,236.90 518.60,232.50 520.60,224.50 L522.58,225.50 C520.58,233.50 435.27,237.90 433.27,229.90 L435.25,228.90 Z" fill="#404040"/>
<path d="M433.27,229.90 C435.27,237.90 520.58,233.50 522.58,225.50 L523.56,226.57 L524.18,227.63 L524.52,228.70 C522.52,236.70 433.33,241.10 431.33,233.10 L431.67,232.03 L432.29,230.97 L433.27,229.90 Z" fill="#f2f2f2"/>
<path d="M431.33,233.10 C433.33,241.10 522.52,236.70 524.52,228.70 L524.60,229.70 L524.43,230.70 L524.02,231.70 C522.02,239.70 433.83,244.10 431.83,236.10 L431.42,235.10 L431.25,234.10 L431.33,233.10 Z" fill="#c0c0c0"/>
<path d="M431.83,236.10 C433.83,244.10 522.02,239.70 524.02,231.70 L523.35,232.70 L522.34,233.70 C520.34,241.70 435.51,246.10 433.51,238.10 L432.50,237.10 L431.83,236.10 Z" fill="#7a7a7a"/>
<path d="M433.51,238.10 C435.51,246.10 520.34,241.70 522.34,233.70 L520.60,234.50 C518.60,242.50 437.25,246.90 435.25,238.90 L433.51,238.10 Z" fill="#a0a0a0"/>
<path d="M520.60,224.50 L524.57,229.00 L511.57,231.20 L507.60,227.10 Z" fill="url(#wedR)"/>
<path d="M435.25,228.90 L431.28,233.40 L440.28,235.40 L444.25,231.10 Z" fill="url(#wedL)"/>
<ellipse cx="473.26" cy="240.90" rx="12.14" ry="2.00" fill="url(#blob)"/>
<ellipse cx="509.66" cy="236.46" rx="6.53" ry="1.80" fill="url(#blob)"/>
<path d="M435.25,238.90 C437.25,246.90 518.60,242.50 520.60,234.50 L522.58,235.50 L523.51,236.50 L524.12,237.50 L524.48,238.50 L524.60,239.50 L524.48,240.50 L524.12,241.50 L523.51,242.50 L522.58,243.50 L520.60,244.50 C518.60,252.50 437.25,256.90 435.25,248.90 L433.27,247.90 L432.34,246.90 L431.73,245.90 L431.37,244.90 L431.25,243.90 L431.37,242.90 L431.73,241.90 L432.34,240.90 L433.27,239.90 L435.25,238.90 Z" fill="#b4b4b4"/>
<path d="M435.25,238.90 C437.25,246.90 518.60,242.50 520.60,234.50 L522.58,235.50 C520.58,243.50 435.27,247.90 433.27,239.90 L435.25,238.90 Z" fill="#404040"/>
<path d="M433.27,239.90 C435.27,247.90 520.58,243.50 522.58,235.50 L523.56,236.57 L524.18,237.63 L524.52,238.70 C522.52,246.70 433.33,251.10 431.33,243.10 L431.67,242.03 L432.29,240.97 L433.27,239.90 Z" fill="#f2f2f2"/>
<path d="M431.33,243.10 C433.33,251.10 522.52,246.70 524.52,238.70 L524.60,239.70 L524.43,240.70 L524.02,241.70 C522.02,249.70 433.83,254.10 431.83,246.10 L431.42,245.10 L431.25,244.10 L431.33,243.10 Z" fill="#c0c0c0"/>
<path d="M431.83,246.10 C433.83,254.10 522.02,249.70 524.02,241.70 L523.35,242.70 L522.34,243.70 C520.34,251.70 435.51,256.10 433.51,248.10 L432.50,247.10 L431.83,246.10 Z" fill="#7a7a7a"/>
<path d="M433.51,248.10 C435.51,256.10 520.34,251.70 522.34,243.70 L520.60,244.50 C518.60,252.50 437.25,256.90 435.25,248.90 L433.51,248.10 Z" fill="#a0a0a0"/>
<path d="M520.60,234.50 L524.57,239.00 L511.57,241.20 L507.60,237.10 Z" fill="url(#wedR)"/>
<path d="M435.25,238.90 L431.28,243.40 L440.28,245.40 L444.25,241.10 Z" fill="url(#wedL)"/>
<ellipse cx="473.26" cy="250.90" rx="12.14" ry="2.00" fill="url(#blob)"/>
<ellipse cx="509.66" cy="246.46" rx="6.53" ry="1.80" fill="url(#blob)"/>
<path d="M435.25,248.90 C437.25,256.90 518.60,252.50 520.60,244.50 L522.58,245.50 L523.51,246.50 L524.12,247.50 L524.48,248.50 L524.60,249.50 L524.48,250.50 L524.12,251.50 L523.51,252.50 L522.58,253.50 L520.60,254.50 C518.60,262.50 437.25,266.90 435.25,258.90 L433.27,257.90 L432.34,256.90 L431.73,255.90 L431.37,254.90 L431.25,253.90 L431.37,252.90 L431.73,251.90 L432.34,250.90 L433.27,249.90 L435.25,248.90 Z" fill="#b4b4b4"/>
<path d="M435.25,248.90 C437.25,256.90 518.60,252.50 520.60,244.50 L522.58,245.50 C520.58,253.50 435.27,257.90 433.27,249.90 L435.25,248.90 Z" fill="#404040"/>
<path d="M433.27,249.90 C435.27,257.90 520.58,253.50 522.58,245.50 L523.56,246.57 L524.18,247.63 L524.52,248.70 C522.52,256.70 433.33,261.10 431.33,253.10 L431.67,252.03 L432.29,250.97 L433.27,249.90 Z" fill="#f2f2f2"/>
<path d="M431.33,253.10 C433.33,261.10 522.52,256.70 524.52,248.70 L524.60,249.70 L524.43,250.70 L524.02,251.70 C522.02,259.70 433.83,264.10 431.83,256.10 L431.42,255.10 L431.25,254.10 L431.33,253.10 Z" fill="#c0c0c0"/>
<path d="M431.83,256.10 C433.83,264.10 522.02,259.70 524.02,251.70 L523.35,252.70 L522.34,253.70 C520.34,261.70 435.51,266.10 433.51,258.10 L432.50,257.10 L431.83,256.10 Z" fill="#7a7a7a"/>
<path d="M433.51,258.10 C435.51,266.10 520.34,261.70 522.34,253.70 L520.60,254.50 C518.60,262.50 437.25,266.90 435.25,258.90 L433.51,258.10 Z" fill="#a0a0a0"/>
<path d="M520.60,244.50 L524.57,249.00 L511.57,251.20 L507.60,247.10 Z" fill="url(#wedR)"/>
<path d="M435.25,248.90 L431.28,253.40 L440.28,255.40 L444.25,251.10 Z" fill="url(#wedL)"/>
<ellipse cx="473.26" cy="260.90" rx="12.14" ry="2.00" fill="url(#blob)"/>
<ellipse cx="509.66" cy="256.46" rx="6.53" ry="1.80" fill="url(#blob)"/>
<path d="M435.25,258.90 C437.25,266.90 518.60,262.50 520.60,254.50 L522.58,255.50 L523.51,256.50 L524.12,257.50 L524.48,258.50 L524.60,259.50 L524.48,260.50 L524.12,261.50 L523.51,262.50 L522.58,263.50 L520.60,264.50 C518.60,272.50 437.25,276.90 435.25,268.90 L433.27,267.90 L432.34,266.90 L431.73,265.90 L431.37,264.90 L431.25,263.90 L431.37,262.90 L431.73,261.90 L432.34,260.90 L433.27,259.90 L435.25,258.90 Z" fill="#b4b4b4"/>
<path d="M435.25,258.90 C437.25,266.90 518.60,262.50 520.60,254.50 L522.58,255.50 C520.58,263.50 435.27,267.90 433.27,259.90 L435.25,258.90 Z" fill="#404040"/>
<path d="M433.27,259.90 C435.27,267.90 520.58,263.50 522.58,255.50 L523.56,256.57 L524.18,257.63 L524.52,258.70 C522.52,266.70 433.33,271.10 431.33,263.10 L431.67,262.03 L432.29,260.97 L433.27,259.90 Z" fill="#f2f2f2"/>
<path d="M431.33,263.10 C433.33,271.10 522.52,266.70 524.52,258.70 L524.60,259.70 L524.43,260.70 L524.02,261.70 C522.02,269.70 433.83,274.10 431.83,266.10 L431.42,265.10 L431.25,264.10 L431.33,263.10 Z" fill="#c0c0c0"/>
<path d="M431.83,266.10 C433.83,274.10 522.02,269.70 524.02,261.70 L523.35,262.70 L522.34,263.70 C520.34,271.70 435.51,276.10 433.51,268.10 L432.50,267.10 L431.83,266.10 Z" fill="#7a7a7a"/>
<path d="M433.51,268.10 C435.51,276.10 520.34,271.70 522.34,263.70 L520.60,264.50 C518.60,272.50 437.25,276.90 435.25,268.90 L433.51,268.10 Z" fill="#a0a0a0"/>
<path d="M520.60,254.50 L524.57,259.00 L511.57,261.20 L507.60,257.10 Z" fill="url(#wedR)"/>
<path d="M435.25,258.90 L431.28,263.40 L440.28,265.40 L444.25,261.10 Z" fill="url(#wedL)"/>
<ellipse cx="473.26" cy="270.90" rx="12.14" ry="2.00" fill="url(#blob)"/>
<ellipse cx="509.66" cy="266.46" rx="6.53" ry="1.80" fill="url(#blob)"/>
<path d="M435.25,268.90 C437.25,276.90 518.60,272.50 520.60,264.50 L522.58,265.50 L523.51,266.50 L524.12,267.50 L524.48,268.50 L524.53,269.25 L524.26,269.75 L523.86,270.25 L523.38,270.75 L522.82,271.25 L522.20,271.75 C520.20,288.08 435.65,292.48 433.65,276.15 L433.03,275.65 L432.47,275.15 L431.99,274.65 L431.59,274.15 L431.32,273.65 L431.37,272.90 L431.73,271.90 L432.34,270.90 L433.27,269.90 L435.25,268.90 Z" fill="#b4b4b4"/>
<path d="M435.25,268.90 C437.25,276.90 518.60,272.50 520.60,264.50 L522.58,265.50 C520.58,273.50 435.27,277.90 433.27,269.90 L435.25,268.90 Z" fill="#404040"/>
<path d="M433.27,269.90 C435.27,277.90 520.58,273.50 522.58,265.50 L523.56,266.57 L524.18,267.63 L524.52,268.70 C522.52,276.70 433.33,281.10 431.33,273.10 L431.67,272.03 L432.29,270.97 L433.27,269.90 Z" fill="#f2f2f2"/>
<path d="M431.33,273.10 C433.33,281.10 522.52,276.70 524.52,268.70 L524.49,269.35 L524.19,269.85 L523.77,270.35 C521.77,282.44 434.08,286.84 432.08,274.75 L431.66,274.25 L431.36,273.75 L431.33,273.10 Z" fill="#c0c0c0"/>
<path d="M432.08,274.75 C434.08,286.84 521.77,282.44 523.77,270.35 L523.28,270.85 L522.70,271.35 C520.70,286.47 435.15,290.87 433.15,275.75 L432.57,275.25 L432.08,274.75 Z" fill="#e2e2e2"/>
<path d="M433.15,275.75 C435.15,290.87 520.70,286.47 522.70,271.35 L522.20,271.75 C520.20,288.08 435.65,292.48 433.65,276.15 L433.15,275.75 Z" fill="#9a9a9a"/>
<path d="M520.60,264.50 L524.57,269.00 L511.57,271.20 L507.60,267.10 Z" fill="url(#wedR)"/>
<path d="M435.25,268.90 L431.28,273.40 L440.28,275.40 L444.25,271.10 Z" fill="url(#wedL)"/>
<ellipse cx="473.26" cy="278.20" rx="12.14" ry="2.00" fill="url(#blob)"/>
<ellipse cx="509.66" cy="276.46" rx="6.53" ry="1.80" fill="url(#blob)"/>
<clipPath id="cl3"><path d="M435.25,138.90 C437.25,146.90 518.60,142.50 520.60,134.50 L522.58,135.50 L523.51,136.50 L524.12,137.50 L524.48,138.50 L524.60,139.50 L524.48,140.50 L524.12,141.50 L523.51,142.50 L522.58,143.50 L520.60,144.50 C518.60,152.50 437.25,156.90 435.25,148.90 L433.27,147.90 L432.34,146.90 L431.73,145.90 L431.37,144.90 L431.25,143.90 L431.37,142.90 L431.73,141.90 L432.34,140.90 L433.27,139.90 L435.25,138.90 Z"/><path d="M435.25,148.90 C437.25,156.90 518.60,152.50 520.60,144.50 L522.58,145.50 L523.51,146.50 L524.12,147.50 L524.48,148.50 L524.60,149.50 L524.48,150.50 L524.12,151.50 L523.51,152.50 L522.58,153.50 L520.60,154.50 C518.60,162.50 437.25,166.90 435.25,158.90 L433.27,157.90 L432.34,156.90 L431.73,155.90 L431.37,154.90 L431.25,153.90 L431.37,152.90 L431.73,151.90 L432.34,150.90 L433.27,149.90 L435.25,148.90 Z"/><path d="M435.25,158.90 C437.25,166.90 518.60,162.50 520.60,154.50 L522.58,155.50 L523.51,156.50 L524.12,157.50 L524.48,158.50 L524.60,159.50 L524.48,160.50 L524.12,161.50 L523.51,162.50 L522.58,163.50 L520.60,164.50 C518.60,172.50 437.25,176.90 435.25,168.90 L433.27,167.90 L432.34,166.90 L431.73,165.90 L431.37,164.90 L431.25,163.90 L431.37,162.90 L431.73,161.90 L432.34,160.90 L433.27,159.90 L435.25,158.90 Z"/><path d="M435.25,168.90 C437.25,176.90 518.60,172.50 520.60,164.50 L522.58,165.50 L523.51,166.50 L524.12,167.50 L524.48,168.50 L524.60,169.50 L524.48,170.50 L524.12,171.50 L523.51,172.50 L522.58,173.50 L520.60,174.50 C518.60,182.50 437.25,186.90 435.25,178.90 L433.27,177.90 L432.34,176.90 L431.73,175.90 L431.37,174.90 L431.25,173.90 L431.37,172.90 L431.73,171.90 L432.34,170.90 L433.27,169.90 L435.25,168.90 Z"/><path d="M435.25,178.90 C437.25,186.90 518.60,182.50 520.60,174.50 L522.58,175.50 L523.51,176.50 L524.12,177.50 L524.48,178.50 L524.60,179.50 L524.48,180.50 L524.12,181.50 L523.51,182.50 L522.58,183.50 L520.60,184.50 C518.60,192.50 437.25,196.90 435.25,188.90 L433.27,187.90 L432.34,186.90 L431.73,185.90 L431.37,184.90 L431.25,183.90 L431.37,182.90 L431.73,181.90 L432.34,180.90 L433.27,179.90 L435.25,178.90 Z"/><path d="M435.25,188.90 C437.25,196.90 518.60,192.50 520.60,184.50 L522.58,185.50 L523.51,186.50 L524.12,187.50 L524.48,188.50 L524.60,189.50 L524.48,190.50 L524.12,191.50 L523.51,192.50 L522.58,193.50 L520.60,194.50 C518.60,202.50 437.25,206.90 435.25,198.90 L433.27,197.90 L432.34,196.90 L431.73,195.90 L431.37,194.90 L431.25,193.90 L431.37,192.90 L431.73,191.90 L432.34,190.90 L433.27,189.90 L435.25,188.90 Z"/><path d="M435.25,198.90 C437.25,206.90 518.60,202.50 520.60,194.50 L522.58,195.50 L523.51,196.50 L524.12,197.50 L524.48,198.50 L524.60,199.50 L524.48,200.50 L524.12,201.50 L523.51,202.50 L522.58,203.50 L520.60,204.50 C518.60,212.50 437.25,216.90 435.25,208.90 L433.27,207.90 L432.34,206.90 L431.73,205.90 L431.37,204.90 L431.25,203.90 L431.37,202.90 L431.73,201.90 L432.34,200.90 L433.27,199.90 L435.25,198.90 Z"/><path d="M435.25,208.90 C437.25,216.90 518.60,212.50 520.60,204.50 L522.58,205.50 L523.51,206.50 L524.12,207.50 L524.48,208.50 L524.60,209.50 L524.48,210.50 L524.12,211.50 L523.51,212.50 L522.58,213.50 L520.60,214.50 C518.60,222.50 437.25,226.90 435.25,218.90 L433.27,217.90 L432.34,216.90 L431.73,215.90 L431.37,214.90 L431.25,213.90 L431.37,212.90 L431.73,211.90 L432.34,210.90 L433.27,209.90 L435.25,208.90 Z"/><path d="M435.25,218.90 C437.25,226.90 518.60,222.50 520.60,214.50 L522.58,215.50 L523.51,216.50 L524.12,217.50 L524.48,218.50 L524.60,219.50 L524.48,220.50 L524.12,221.50 L523.51,222.50 L522.58,223.50 L520.60,224.50 C518.60,232.50 437.25,236.90 435.25,228.90 L433.27,227.90 L432.34,226.90 L431.73,225.90 L431.37,224.90 L431.25,223.90 L431.37,222.90 L431.73,221.90 L432.34,220.90 L433.27,219.90 L435.25,218.90 Z"/><path d="M435.25,228.90 C437.25,236.90 518.60,232.50 520.60,224.50 L522.58,225.50 L523.51,226.50 L524.12,227.50 L524.48,228.50 L524.60,229.50 L524.48,230.50 L524.12,231.50 L523.51,232.50 L522.58,233.50 L520.60,234.50 C518.60,242.50 437.25,246.90 435.25,238.90 L433.27,237.90 L432.34,236.90 L431.73,235.90 L431.37,234.90 L431.25,233.90 L431.37,232.90 L431.73,231.90 L432.34,230.90 L433.27,229.90 L435.25,228.90 Z"/><path d="M435.25,238.90 C437.25,246.90 518.60,242.50 520.60,234.50 L522.58,235.50 L523.51,236.50 L524.12,237.50 L524.48,238.50 L524.60,239.50 L524.48,240.50 L524.12,241.50 L523.51,242.50 L522.58,243.50 L520.60,244.50 C518.60,252.50 437.25,256.90 435.25,248.90 L433.27,247.90 L432.34,246.90 L431.73,245.90 L431.37,244.90 L431.25,243.90 L431.37,242.90 L431.73,241.90 L432.34,240.90 L433.27,239.90 L435.25,238.90 Z"/><path d="M435.25,248.90 C437.25,256.90 518.60,252.50 520.60,244.50 L522.58,245.50 L523.51,246.50 L524.12,247.50 L524.48,248.50 L524.60,249.50 L524.48,250.50 L524.12,251.50 L523.51,252.50 L522.58,253.50 L520.60,254.50 C518.60,262.50 437.25,266.90 435.25,258.90 L433.27,257.90 L432.34,256.90 L431.73,255.90 L431.37,254.90 L431.25,253.90 L431.37,252.90 L431.73,251.90 L432.34,250.90 L433.27,249.90 L435.25,248.90 Z"/><path d="M435.25,258.90 C437.25,266.90 518.60,262.50 520.60,254.50 L522.58,255.50 L523.51,256.50 L524.12,257.50 L524.48,258.50 L524.60,259.50 L524.48,260.50 L524.12,261.50 L523.51,262.50 L522.58,263.50 L520.60,264.50 C518.60,272.50 437.25,276.90 435.25,268.90 L433.27,267.90 L432.34,266.90 L431.73,265.90 L431.37,264.90 L431.25,263.90 L431.37,262.90 L431.73,261.90 L432.34,260.90 L433.27,259.90 L435.25,258.90 Z"/><path d="M435.25,268.90 C437.25,276.90 518.60,272.50 520.60,264.50 L522.58,265.50 L523.51,266.50 L524.12,267.50 L524.48,268.50 L524.53,269.25 L524.26,269.75 L523.86,270.25 L523.38,270.75 L522.82,271.25 L522.20,271.75 C520.20,288.08 435.65,292.48 433.65,276.15 L433.03,275.65 L432.47,275.15 L431.99,274.65 L431.59,274.15 L431.32,273.65 L431.37,272.90 L431.73,271.90 L432.34,270.90 L433.27,269.90 L435.25,268.90 Z"/></clipPath>
<rect x="429.25" y="124.00" width="97.35" height="170.00" fill="url(#gov)" clip-path="url(#cl3)"/>
<rect x="429.25" y="124.00" width="97.35" height="170.00" fill="#000" opacity="0.03" clip-path="url(#cl3)"/>
<path d="M432.75,134.90 Q468.59,134.98 492.86,130.30 Q520.60,134.00 524.60,139.00 L520.60,135.50 C518.60,143.50 437.25,147.90 435.25,139.90 Z" fill="url(#gint)"/>
<path d="M441.25,136.70 C444.25,143.90 511.60,139.50 514.60,132.30" fill="none" stroke="#3a3a3a" stroke-width="2.6" opacity="0.8"/>
<path d="M443.25,138.30 C445.25,145.50 510.60,141.10 512.60,133.90" fill="none" stroke="#dcdcdc" stroke-width="1.8"/>
<path d="M488.86,127.80 Q521.60,128.80 524.60,136.50 Q516.60,133.80 488.86,133.50 Z" fill="#d4d4d4"/>
<path d="M490.86,128.70 Q521.10,129.50 524.10,136.20" fill="none" stroke="#f6f6f6" stroke-width="1.5"/>
<path d="M492.86,133.30 Q516.60,133.60 523.10,137.00" fill="none" stroke="#3a3a3a" stroke-width="1.3"/>
<path d="M437.25,129.10 Q468.59,125.10 491.86,123.50 Q495.36,126.90 493.36,130.30 Q468.59,131.70 432.75,135.10 Z" fill="#b4b4b4"/>
<path d="M438.71,129.82 Q468.59,125.89 490.86,124.32" fill="none" stroke="#5e5e5e" stroke-width="1.09"/>
<path d="M437.77,132.40 Q468.59,128.73 490.36,127.24" fill="none" stroke="#f4f4f4" stroke-width="2.31"/>
<path d="M435.11,134.62 Q468.59,131.17 491.86,129.76" fill="none" stroke="#4a4a4a" stroke-width="1.09"/>
<path d="M604.00,115.71 C606.00,123.71 687.70,119.31 689.70,111.31 L691.68,112.28 L692.61,113.26 L693.22,114.24 L693.58,115.21 L693.70,116.19 L693.58,117.16 L693.22,118.14 L692.61,119.12 L691.68,120.09 L689.70,121.07 C687.70,129.07 606.00,133.47 604.00,125.47 L602.02,124.49 L601.09,123.52 L600.48,122.54 L600.12,121.56 L600.00,120.59 L600.12,119.61 L600.48,118.64 L601.09,117.66 L602.02,116.68 L604.00,115.71 Z" fill="#b4b4b4"/>
<path d="M604.00,115.71 C606.00,123.71 687.70,119.31 689.70,111.31 L691.68,112.28 C689.68,120.28 604.02,124.68 602.02,116.68 L604.00,115.71 Z" fill="#5a5a5a"/>
<path d="M602.02,116.68 C604.02,124.68 689.68,120.28 691.68,112.28 L692.66,113.33 L693.28,114.37 L693.62,115.41 C691.62,123.41 602.08,127.81 600.08,119.81 L600.42,118.77 L601.04,117.73 L602.02,116.68 Z" fill="#f2f2f2"/>
<path d="M600.08,119.81 C602.08,127.81 691.62,123.41 693.62,115.41 L693.70,116.38 L693.53,117.36 L693.12,118.34 C691.12,126.34 602.58,130.74 600.58,122.74 L600.17,121.76 L600.00,120.78 L600.08,119.81 Z" fill="#c0c0c0"/>
<path d="M600.58,122.74 C602.58,130.74 691.12,126.34 693.12,118.34 L692.45,119.31 L691.44,120.29 C689.44,128.29 604.26,132.69 602.26,124.69 L601.25,123.71 L600.58,122.74 Z" fill="#7a7a7a"/>
<path d="M602.26,124.69 C604.26,132.69 689.44,128.29 691.44,120.29 L689.70,121.07 C687.70,129.07 606.00,133.47 604.00,125.47 L602.26,124.69 Z" fill="#a0a0a0"/>
<path d="M689.70,111.31 L693.67,115.70 L680.67,117.90 L676.70,113.91 Z" fill="url(#wedR)"/>
<path d="M604.00,115.71 L600.03,120.10 L609.03,122.10 L613.00,117.91 Z" fill="url(#wedL)"/>
<ellipse cx="642.16" cy="127.51" rx="12.18" ry="1.95" fill="url(#blob)"/>
<ellipse cx="678.71" cy="123.08" rx="6.56" ry="1.76" fill="url(#blob)"/>
<path d="M604.00,125.47 C606.00,133.47 687.70,129.07 689.70,121.07 L691.68,122.04 L692.61,123.02 L693.22,124.00 L693.58,124.97 L693.70,125.95 L693.58,126.92 L693.22,127.90 L692.61,128.88 L691.68,129.85 L689.70,130.83 C687.70,138.83 606.00,143.23 604.00,135.23 L602.02,134.25 L601.09,133.28 L600.48,132.30 L600.12,131.32 L600.00,130.35 L600.12,129.37 L600.48,128.40 L601.09,127.42 L602.02,126.44 L604.00,125.47 Z" fill="#b4b4b4"/>
<path d="M604.00,125.47 C606.00,133.47 687.70,129.07 689.70,121.07 L691.68,122.04 C689.68,130.04 604.02,134.44 602.02,126.44 L604.00,125.47 Z" fill="#404040"/>
<path d="M602.02,126.44 C604.02,134.44 689.68,130.04 691.68,122.04 L692.66,123.09 L693.28,124.13 L693.62,125.17 C691.62,133.17 602.08,137.57 600.08,129.57 L600.42,128.53 L601.04,127.49 L602.02,126.44 Z" fill="#f2f2f2"/>
<path d="M600.08,129.57 C602.08,137.57 691.62,133.17 693.62,125.17 L693.70,126.14 L693.53,127.12 L693.12,128.10 C691.12,136.10 602.58,140.50 600.58,132.50 L600.17,131.52 L600.00,130.54 L600.08,129.57 Z" fill="#c0c0c0"/>
<path d="M600.58,132.50 C602.58,140.50 691.12,136.10 693.12,128.10 L692.45,129.07 L691.44,130.05 C689.44,138.05 604.26,142.45 602.26,134.45 L601.25,133.47 L600.58,132.50 Z" fill="#7a7a7a"/>
<path d="M602.26,134.45 C604.26,142.45 689.44,138.05 691.44,130.05 L689.70,130.83 C687.70,138.83 606.00,143.23 604.00,135.23 L602.26,134.45 Z" fill="#a0a0a0"/>
<path d="M689.70,121.07 L693.67,125.46 L680.67,127.66 L676.70,123.67 Z" fill="url(#wedR)"/>
<path d="M604.00,125.47 L600.03,129.86 L609.03,131.86 L613.00,127.67 Z" fill="url(#wedL)"/>
<ellipse cx="642.16" cy="137.27" rx="12.18" ry="1.95" fill="url(#blob)"/>
<ellipse cx="678.71" cy="132.84" rx="6.56" ry="1.76" fill="url(#blob)"/>
<path d="M604.00,135.23 C606.00,143.23 687.70,138.83 689.70,130.83 L691.68,131.80 L692.61,132.78 L693.22,133.76 L693.58,134.73 L693.70,135.71 L693.58,136.68 L693.22,137.66 L692.61,138.64 L691.68,139.61 L689.70,140.59 C687.70,148.59 606.00,152.99 604.00,144.99 L602.02,144.01 L601.09,143.04 L600.48,142.06 L600.12,141.08 L600.00,140.11 L600.12,139.13 L600.48,138.16 L601.09,137.18 L602.02,136.20 L604.00,135.23 Z" fill="#b4b4b4"/>
<path d="M604.00,135.23 C606.00,143.23 687.70,138.83 689.70,130.83 L691.68,131.80 C689.68,139.80 604.02,144.20 602.02,136.20 L604.00,135.23 Z" fill="#404040"/>
<path d="M602.02,136.20 C604.02,144.20 689.68,139.80 691.68,131.80 L692.66,132.85 L693.28,133.89 L693.62,134.93 C691.62,142.93 602.08,147.33 600.08,139.33 L600.42,138.29 L601.04,137.25 L602.02,136.20 Z" fill="#f2f2f2"/>
<path d="M600.08,139.33 C602.08,147.33 691.62,142.93 693.62,134.93 L693.70,135.90 L693.53,136.88 L693.12,137.86 C691.12,145.86 602.58,150.26 600.58,142.26 L600.17,141.28 L600.00,140.30 L600.08,139.33 Z" fill="#c0c0c0"/>
<path d="M600.58,142.26 C602.58,150.26 691.12,145.86 693.12,137.86 L692.45,138.83 L691.44,139.81 C689.44,147.81 604.26,152.21 602.26,144.21 L601.25,143.23 L600.58,142.26 Z" fill="#7a7a7a"/>
<path d="M602.26,144.21 C604.26,152.21 689.44,147.81 691.44,139.81 L689.70,140.59 C687.70,148.59 606.00,152.99 604.00,144.99 L602.26,144.21 Z" fill="#a0a0a0"/>
<path d="M689.70,130.83 L693.67,135.22 L680.67,137.42 L676.70,133.43 Z" fill="url(#wedR)"/>
<path d="M604.00,135.23 L600.03,139.62 L609.03,141.62 L613.00,137.43 Z" fill="url(#wedL)"/>
<ellipse cx="642.16" cy="147.03" rx="12.18" ry="1.95" fill="url(#blob)"/>
<ellipse cx="678.71" cy="142.60" rx="6.56" ry="1.76" fill="url(#blob)"/>
<path d="M604.00,144.99 C606.00,152.99 687.70,148.59 689.70,140.59 L691.68,141.56 L692.61,142.54 L693.22,143.52 L693.58,144.49 L693.70,145.47 L693.58,146.44 L693.22,147.42 L692.61,148.40 L691.68,149.37 L689.70,150.35 C687.70,158.35 606.00,162.75 604.00,154.75 L602.02,153.77 L601.09,152.80 L600.48,151.82 L600.12,150.84 L600.00,149.87 L600.12,148.89 L600.48,147.92 L601.09,146.94 L602.02,145.96 L604.00,144.99 Z" fill="#b4b4b4"/>
<path d="M604.00,144.99 C606.00,152.99 687.70,148.59 689.70,140.59 L691.68,141.56 C689.68,149.56 604.02,153.96 602.02,145.96 L604.00,144.99 Z" fill="#404040"/>
<path d="M602.02,145.96 C604.02,153.96 689.68,149.56 691.68,141.56 L692.66,142.61 L693.28,143.65 L693.62,144.69 C691.62,152.69 602.08,157.09 600.08,149.09 L600.42,148.05 L601.04,147.01 L602.02,145.96 Z" fill="#f2f2f2"/>
<path d="M600.08,149.09 C602.08,157.09 691.62,152.69 693.62,144.69 L693.70,145.66 L693.53,146.64 L693.12,147.62 C691.12,155.62 602.58,160.02 600.58,152.02 L600.17,151.04 L600.00,150.06 L600.08,149.09 Z" fill="#c0c0c0"/>
<path d="M600.58,152.02 C602.58,160.02 691.12,155.62 693.12,147.62 L692.45,148.59 L691.44,149.57 C689.44,157.57 604.26,161.97 602.26,153.97 L601.25,152.99 L600.58,152.02 Z" fill="#7a7a7a"/>
<path d="M602.26,153.97 C604.26,161.97 689.44,157.57 691.44,149.57 L689.70,150.35 C687.70,158.35 606.00,162.75 604.00,154.75 L602.26,153.97 Z" fill="#a0a0a0"/>
<path d="M689.70,140.59 L693.67,144.98 L680.67,147.18 L676.70,143.19 Z" fill="url(#wedR)"/>
<path d="M604.00,144.99 L600.03,149.38 L609.03,151.38 L613.00,147.19 Z" fill="url(#wedL)"/>
<ellipse cx="642.16" cy="156.79" rx="12.18" ry="1.95" fill="url(#blob)"/>
<ellipse cx="678.71" cy="152.36" rx="6.56" ry="1.76" fill="url(#blob)"/>
<path d="M604.00,154.75 C606.00,162.75 687.70,158.35 689.70,150.35 L691.68,151.32 L692.61,152.30 L693.22,153.28 L693.58,154.25 L693.70,155.23 L693.58,156.20 L693.22,157.18 L692.61,158.16 L691.68,159.13 L689.70,160.11 C687.70,168.11 606.00,172.51 604.00,164.51 L602.02,163.53 L601.09,162.56 L600.48,161.58 L600.12,160.60 L600.00,159.63 L600.12,158.65 L600.48,157.68 L601.09,156.70 L602.02,155.72 L604.00,154.75 Z" fill="#b4b4b4"/>
<path d="M604.00,154.75 C606.00,162.75 687.70,158.35 689.70,150.35 L691.68,151.32 C689.68,159.32 604.02,163.72 602.02,155.72 L604.00,154.75 Z" fill="#404040"/>
<path d="M602.02,155.72 C604.02,163.72 689.68,159.32 691.68,151.32 L692.66,152.37 L693.28,153.41 L693.62,154.45 C691.62,162.45 602.08,166.85 600.08,158.85 L600.42,157.81 L601.04,156.77 L602.02,155.72 Z" fill="#f2f2f2"/>
<path d="M600.08,158.85 C602.08,166.85 691.62,162.45 693.62,154.45 L693.70,155.42 L693.53,156.40 L693.12,157.38 C691.12,165.38 602.58,169.78 600.58,161.78 L600.17,160.80 L600.00,159.82 L600.08,158.85 Z" fill="#c0c0c0"/>
<path d="M600.58,161.78 C602.58,169.78 691.12,165.38 693.12,157.38 L692.45,158.35 L691.44,159.33 C689.44,167.33 604.26,171.73 602.26,163.73 L601.25,162.75 L600.58,161.78 Z" fill="#7a7a7a"/>
<path d="M602.26,163.73 C604.26,171.73 689.44,167.33 691.44,159.33 L689.70,160.11 C687.70,168.11 606.00,172.51 604.00,164.51 L602.26,163.73 Z" fill="#a0a0a0"/>
<path d="M689.70,150.35 L693.67,154.74 L680.67,156.94 L676.70,152.95 Z" fill="url(#wedR)"/>
<path d="M604.00,154.75 L600.03,159.14 L609.03,161.14 L613.00,156.95 Z" fill="url(#wedL)"/>
<ellipse cx="642.16" cy="166.55" rx="12.18" ry="1.95" fill="url(#blob)"/>
<ellipse cx="678.71" cy="162.12" rx="6.56" ry="1.76" fill="url(#blob)"/>
<path d="M604.00,164.51 C606.00,172.51 687.70,168.11 689.70,160.11 L691.68,161.08 L692.61,162.06 L693.22,163.04 L693.58,164.01 L693.70,164.99 L693.58,165.96 L693.22,166.94 L692.61,167.92 L691.68,168.89 L689.70,169.87 C687.70,177.87 606.00,182.27 604.00,174.27 L602.02,173.29 L601.09,172.32 L600.48,171.34 L600.12,170.36 L600.00,169.39 L600.12,168.41 L600.48,167.44 L601.09,166.46 L602.02,165.48 L604.00,164.51 Z" fill="#b4b4b4"/>
<path d="M604.00,164.51 C606.00,172.51 687.70,168.11 689.70,160.11 L691.68,161.08 C689.68,169.08 604.02,173.48 602.02,165.48 L604.00,164.51 Z" fill="#404040"/>
<path d="M602.02,165.48 C604.02,173.48 689.68,169.08 691.68,161.08 L692.66,162.13 L693.28,163.17 L693.62,164.21 C691.62,172.21 602.08,176.61 600.08,168.61 L600.42,167.57 L601.04,166.53 L602.02,165.48 Z" fill="#f2f2f2"/>
<path d="M600.08,168.61 C602.08,176.61 691.62,172.21 693.62,164.21 L693.70,165.18 L693.53,166.16 L693.12,167.14 C691.12,175.14 602.58,179.54 600.58,171.54 L600.17,170.56 L600.00,169.58 L600.08,168.61 Z" fill="#c0c0c0"/>
<path d="M600.58,171.54 C602.58,179.54 691.12,175.14 693.12,167.14 L692.45,168.11 L691.44,169.09 C689.44,177.09 604.26,181.49 602.26,173.49 L601.25,172.51 L600.58,171.54 Z" fill="#7a7a7a"/>
<path d="M602.26,173.49 C604.26,181.49 689.44,177.09 691.44,169.09 L689.70,169.87 C687.70,177.87 606.00,182.27 604.00,174.27 L602.26,173.49 Z" fill="#a0a0a0"/>
<path d="M689.70,160.11 L693.67,164.50 L680.67,166.70 L676.70,162.71 Z" fill="url(#wedR)"/>
<path d="M604.00,164.51 L600.03,168.90 L609.03,170.90 L613.00,166.71 Z" fill="url(#wedL)"/>
<ellipse cx="642.16" cy="176.31" rx="12.18" ry="1.95" fill="url(#blob)"/>
<ellipse cx="678.71" cy="171.88" rx="6.56" ry="1.76" fill="url(#blob)"/>
<path d="M604.00,174.27 C606.00,182.27 687.70,177.87 689.70,169.87 L691.68,170.84 L692.61,171.82 L693.22,172.80 L693.58,173.77 L693.70,174.75 L693.58,175.72 L693.22,176.70 L692.61,177.68 L691.68,178.65 L689.70,179.63 C687.70,187.63 606.00,192.03 604.00,184.03 L602.02,183.05 L601.09,182.08 L600.48,181.10 L600.12,180.12 L600.00,179.15 L600.12,178.17 L600.48,177.20 L601.09,176.22 L602.02,175.24 L604.00,174.27 Z" fill="#b4b4b4"/>
<path d="M604.00,174.27 C606.00,182.27 687.70,177.87 689.70,169.87 L691.68,170.84 C689.68,178.84 604.02,183.24 602.02,175.24 L604.00,174.27 Z" fill="#404040"/>
<path d="M602.02,175.24 C604.02,183.24 689.68,178.84 691.68,170.84 L692.66,171.89 L693.28,172.93 L693.62,173.97 C691.62,181.97 602.08,186.37 600.08,178.37 L600.42,177.33 L601.04,176.29 L602.02,175.24 Z" fill="#f2f2f2"/>
<path d="M600.08,178.37 C602.08,186.37 691.62,181.97 693.62,173.97 L693.70,174.94 L693.53,175.92 L693.12,176.90 C691.12,184.90 602.58,189.30 600.58,181.30 L600.17,180.32 L600.00,179.34 L600.08,178.37 Z" fill="#c0c0c0"/>
<path d="M600.58,181.30 C602.58,189.30 691.12,184.90 693.12,176.90 L692.45,177.87 L691.44,178.85 C689.44,186.85 604.26,191.25 602.26,183.25 L601.25,182.27 L600.58,181.30 Z" fill="#7a7a7a"/>
<path d="M602.26,183.25 C604.26,191.25 689.44,186.85 691.44,178.85 L689.70,179.63 C687.70,187.63 606.00,192.03 604.00,184.03 L602.26,183.25 Z" fill="#a0a0a0"/>
<path d="M689.70,169.87 L693.67,174.26 L680.67,176.46 L676.70,172.47 Z" fill="url(#wedR)"/>
<path d="M604.00,174.27 L600.03,178.66 L609.03,180.66 L613.00,176.47 Z" fill="url(#wedL)"/>
<ellipse cx="642.16" cy="186.07" rx="12.18" ry="1.95" fill="url(#blob)"/>
<ellipse cx="678.71" cy="181.64" rx="6.56" ry="1.76" fill="url(#blob)"/>
<path d="M604.00,184.03 C606.00,192.03 687.70,187.63 689.70,179.63 L691.68,180.60 L692.61,181.58 L693.22,182.56 L693.58,183.53 L693.70,184.51 L693.58,185.48 L693.22,186.46 L692.61,187.44 L691.68,188.41 L689.70,189.39 C687.70,197.39 606.00,201.79 604.00,193.79 L602.02,192.81 L601.09,191.84 L600.48,190.86 L600.12,189.88 L600.00,188.91 L600.12,187.93 L600.48,186.96 L601.09,185.98 L602.02,185.00 L604.00,184.03 Z" fill="#b4b4b4"/>
<path d="M604.00,184.03 C606.00,192.03 687.70,187.63 689.70,179.63 L691.68,180.60 C689.68,188.60 604.02,193.00 602.02,185.00 L604.00,184.03 Z" fill="#404040"/>
<path d="M602.02,185.00 C604.02,193.00 689.68,188.60 691.68,180.60 L692.66,181.65 L693.28,182.69 L693.62,183.73 C691.62,191.73 602.08,196.13 600.08,188.13 L600.42,187.09 L601.04,186.05 L602.02,185.00 Z" fill="#f2f2f2"/>
<path d="M600.08,188.13 C602.08,196.13 691.62,191.73 693.62,183.73 L693.70,184.70 L693.53,185.68 L693.12,186.66 C691.12,194.66 602.58,199.06 600.58,191.06 L600.17,190.08 L600.00,189.10 L600.08,188.13 Z" fill="#c0c0c0"/>
<path d="M600.58,191.06 C602.58,199.06 691.12,194.66 693.12,186.66 L692.45,187.63 L691.44,188.61 C689.44,196.61 604.26,201.01 602.26,193.01 L601.25,192.03 L600.58,191.06 Z" fill="#7a7a7a"/>
<path d="M602.26,193.01 C604.26,201.01 689.44,196.61 691.44,188.61 L689.70,189.39 C687.70,197.39 606.00,201.79 604.00,193.79 L602.26,193.01 Z" fill="#a0a0a0"/>
<path d="M689.70,179.63 L693.67,184.02 L680.67,186.22 L676.70,182.23 Z" fill="url(#wedR)"/>
<path d="M604.00,184.03 L600.03,188.42 L609.03,190.42 L613.00,186.23 Z" fill="url(#wedL)"/>
<ellipse cx="642.16" cy="195.83" rx="12.18" ry="1.95" fill="url(#blob)"/>
<ellipse cx="678.71" cy="191.40" rx="6.56" ry="1.76" fill="url(#blob)"/>
<path d="M604.00,193.79 C606.00,201.79 687.70,197.39 689.70,189.39 L691.68,190.36 L692.61,191.34 L693.22,192.32 L693.58,193.29 L693.70,194.27 L693.58,195.24 L693.22,196.22 L692.61,197.20 L691.68,198.17 L689.70,199.15 C687.70,207.15 606.00,211.55 604.00,203.55 L602.02,202.57 L601.09,201.60 L600.48,200.62 L600.12,199.64 L600.00,198.67 L600.12,197.69 L600.48,196.72 L601.09,195.74 L602.02,194.76 L604.00,193.79 Z" fill="#b4b4b4"/>
<path d="M604.00,193.79 C606.00,201.79 687.70,197.39 689.70,189.39 L691.68,190.36 C689.68,198.36 604.02,202.76 602.02,194.76 L604.00,193.79 Z" fill="#404040"/>
<path d="M602.02,194.76 C604.02,202.76 689.68,198.36 691.68,190.36 L692.66,191.41 L693.28,192.45 L693.62,193.49 C691.62,201.49 602.08,205.89 600.08,197.89 L600.42,196.85 L601.04,195.81 L602.02,194.76 Z" fill="#f2f2f2"/>
<path d="M600.08,197.89 C602.08,205.89 691.62,201.49 693.62,193.49 L693.70,194.46 L693.53,195.44 L693.12,196.42 C691.12,204.42 602.58,208.82 600.58,200.82 L600.17,199.84 L600.00,198.86 L600.08,197.89 Z" fill="#c0c0c0"/>
<path d="M600.58,200.82 C602.58,208.82 691.12,204.42 693.12,196.42 L692.45,197.39 L691.44,198.37 C689.44,206.37 604.26,210.77 602.26,202.77 L601.25,201.79 L600.58,200.82 Z" fill="#7a7a7a"/>
<path d="M602.26,202.77 C604.26,210.77 689.44,206.37 691.44,198.37 L689.70,199.15 C687.70,207.15 606.00,211.55 604.00,203.55 L602.26,202.77 Z" fill="#a0a0a0"/>
<path d="M689.70,189.39 L693.67,193.78 L680.67,195.98 L676.70,191.99 Z" fill="url(#wedR)"/>
<path d="M604.00,193.79 L600.03,198.18 L609.03,200.18 L613.00,195.99 Z" fill="url(#wedL)"/>
<ellipse cx="642.16" cy="205.59" rx="12.18" ry="1.95" fill="url(#blob)"/>
<ellipse cx="678.71" cy="201.16" rx="6.56" ry="1.76" fill="url(#blob)"/>
<path d="M604.00,203.55 C606.00,211.55 687.70,207.15 689.70,199.15 L691.68,200.12 L692.61,201.10 L693.22,202.08 L693.58,203.05 L693.70,204.03 L693.58,205.00 L693.22,205.98 L692.61,206.96 L691.68,207.93 L689.70,208.91 C687.70,216.91 606.00,221.31 604.00,213.31 L602.02,212.33 L601.09,211.36 L600.48,210.38 L600.12,209.40 L600.00,208.43 L600.12,207.45 L600.48,206.48 L601.09,205.50 L602.02,204.52 L604.00,203.55 Z" fill="#b4b4b4"/>
<path d="M604.00,203.55 C606.00,211.55 687.70,207.15 689.70,199.15 L691.68,200.12 C689.68,208.12 604.02,212.52 602.02,204.52 L604.00,203.55 Z" fill="#404040"/>
<path d="M602.02,204.52 C604.02,212.52 689.68,208.12 691.68,200.12 L692.66,201.17 L693.28,202.21 L693.62,203.25 C691.62,211.25 602.08,215.65 600.08,207.65 L600.42,206.61 L601.04,205.57 L602.02,204.52 Z" fill="#f2f2f2"/>
<path d="M600.08,207.65 C602.08,215.65 691.62,211.25 693.62,203.25 L693.70,204.22 L693.53,205.20 L693.12,206.18 C691.12,214.18 602.58,218.58 600.58,210.58 L600.17,209.60 L600.00,208.62 L600.08,207.65 Z" fill="#c0c0c0"/>
<path d="M600.58,210.58 C602.58,218.58 691.12,214.18 693.12,206.18 L692.45,207.15 L691.44,208.13 C689.44,216.13 604.26,220.53 602.26,212.53 L601.25,211.55 L600.58,210.58 Z" fill="#7a7a7a"/>
<path d="M602.26,212.53 C604.26,220.53 689.44,216.13 691.44,208.13 L689.70,208.91 C687.70,216.91 606.00,221.31 604.00,213.31 L602.26,212.53 Z" fill="#a0a0a0"/>
<path d="M689.70,199.15 L693.67,203.54 L680.67,205.74 L676.70,201.75 Z" fill="url(#wedR)"/>
<path d="M604.00,203.55 L600.03,207.94 L609.03,209.94 L613.00,205.75 Z" fill="url(#wedL)"/>
<ellipse cx="642.16" cy="215.35" rx="12.18" ry="1.95" fill="url(#blob)"/>
<ellipse cx="678.71" cy="210.92" rx="6.56" ry="1.76" fill="url(#blob)"/>
<path d="M604.00,213.31 C606.00,221.31 687.70,216.91 689.70,208.91 L691.68,209.88 L692.61,210.86 L693.22,211.84 L693.58,212.81 L693.70,213.79 L693.58,214.76 L693.22,215.74 L692.61,216.72 L691.68,217.69 L689.70,218.67 C687.70,226.67 606.00,231.07 604.00,223.07 L602.02,222.09 L601.09,221.12 L600.48,220.14 L600.12,219.16 L600.00,218.19 L600.12,217.21 L600.48,216.24 L601.09,215.26 L602.02,214.28 L604.00,213.31 Z" fill="#b4b4b4"/>
<path d="M604.00,213.31 C606.00,221.31 687.70,216.91 689.70,208.91 L691.68,209.88 C689.68,217.88 604.02,222.28 602.02,214.28 L604.00,213.31 Z" fill="#404040"/>
<path d="M602.02,214.28 C604.02,222.28 689.68,217.88 691.68,209.88 L692.66,210.93 L693.28,211.97 L693.62,213.01 C691.62,221.01 602.08,225.41 600.08,217.41 L600.42,216.37 L601.04,215.33 L602.02,214.28 Z" fill="#f2f2f2"/>
<path d="M600.08,217.41 C602.08,225.41 691.62,221.01 693.62,213.01 L693.70,213.98 L693.53,214.96 L693.12,215.94 C691.12,223.94 602.58,228.34 600.58,220.34 L600.17,219.36 L600.00,218.38 L600.08,217.41 Z" fill="#c0c0c0"/>
<path d="M600.58,220.34 C602.58,228.34 691.12,223.94 693.12,215.94 L692.45,216.91 L691.44,217.89 C689.44,225.89 604.26,230.29 602.26,222.29 L601.25,221.31 L600.58,220.34 Z" fill="#7a7a7a"/>
<path d="M602.26,222.29 C604.26,230.29 689.44,225.89 691.44,217.89 L689.70,218.67 C687.70,226.67 606.00,231.07 604.00,223.07 L602.26,222.29 Z" fill="#a0a0a0"/>
<path d="M689.70,208.91 L693.67,213.30 L680.67,215.50 L676.70,211.51 Z" fill="url(#wedR)"/>
<path d="M604.00,213.31 L600.03,217.70 L609.03,219.70 L613.00,215.51 Z" fill="url(#wedL)"/>
<ellipse cx="642.16" cy="225.11" rx="12.18" ry="1.95" fill="url(#blob)"/>
<ellipse cx="678.71" cy="220.68" rx="6.56" ry="1.76" fill="url(#blob)"/>
<path d="M604.00,223.07 C606.00,231.07 687.70,226.67 689.70,218.67 L691.68,219.64 L692.61,220.62 L693.22,221.60 L693.58,222.57 L693.70,223.55 L693.58,224.52 L693.22,225.50 L692.61,226.48 L691.68,227.45 L689.70,228.43 C687.70,236.43 606.00,240.83 604.00,232.83 L602.02,231.85 L601.09,230.88 L600.48,229.90 L600.12,228.92 L600.00,227.95 L600.12,226.97 L600.48,226.00 L601.09,225.02 L602.02,224.04 L604.00,223.07 Z" fill="#b4b4b4"/>
<path d="M604.00,223.07 C606.00,231.07 687.70,226.67 689.70,218.67 L691.68,219.64 C689.68,227.64 604.02,232.04 602.02,224.04 L604.00,223.07 Z" fill="#404040"/>
<path d="M602.02,224.04 C604.02,232.04 689.68,227.64 691.68,219.64 L692.66,220.69 L693.28,221.73 L693.62,222.77 C691.62,230.77 602.08,235.17 600.08,227.17 L600.42,226.13 L601.04,225.09 L602.02,224.04 Z" fill="#f2f2f2"/>
<path d="M600.08,227.17 C602.08,235.17 691.62,230.77 693.62,222.77 L693.70,223.74 L693.53,224.72 L693.12,225.70 C691.12,233.70 602.58,238.10 600.58,230.10 L600.17,229.12 L600.00,228.14 L600.08,227.17 Z" fill="#c0c0c0"/>
<path d="M600.58,230.10 C602.58,238.10 691.12,233.70 693.12,225.70 L692.45,226.67 L691.44,227.65 C689.44,235.65 604.26,240.05 602.26,232.05 L601.25,231.07 L600.58,230.10 Z" fill="#7a7a7a"/>
<path d="M602.26,232.05 C604.26,240.05 689.44,235.65 691.44,227.65 L689.70,228.43 C687.70,236.43 606.00,240.83 604.00,232.83 L602.26,232.05 Z" fill="#a0a0a0"/>
<path d="M689.70,218.67 L693.67,223.06 L680.67,225.26 L676.70,221.27 Z" fill="url(#wedR)"/>
<path d="M604.00,223.07 L600.03,227.46 L609.03,229.46 L613.00,225.27 Z" fill="url(#wedL)"/>
<ellipse cx="642.16" cy="234.87" rx="12.18" ry="1.95" fill="url(#blob)"/>
<ellipse cx="678.71" cy="230.44" rx="6.56" ry="1.76" fill="url(#blob)"/>
<path d="M604.00,232.83 C606.00,240.83 687.70,236.43 689.70,228.43 L691.68,229.40 L692.61,230.38 L693.22,231.36 L693.58,232.33 L693.70,233.31 L693.58,234.28 L693.22,235.26 L692.61,236.24 L691.68,237.21 L689.70,238.19 C687.70,246.19 606.00,250.59 604.00,242.59 L602.02,241.61 L601.09,240.64 L600.48,239.66 L600.12,238.68 L600.00,237.71 L600.12,236.73 L600.48,235.76 L601.09,234.78 L602.02,233.80 L604.00,232.83 Z" fill="#b4b4b4"/>
<path d="M604.00,232.83 C606.00,240.83 687.70,236.43 689.70,228.43 L691.68,229.40 C689.68,237.40 604.02,241.80 602.02,233.80 L604.00,232.83 Z" fill="#404040"/>
<path d="M602.02,233.80 C604.02,241.80 689.68,237.40 691.68,229.40 L692.66,230.45 L693.28,231.49 L693.62,232.53 C691.62,240.53 602.08,244.93 600.08,236.93 L600.42,235.89 L601.04,234.85 L602.02,233.80 Z" fill="#f2f2f2"/>
<path d="M600.08,236.93 C602.08,244.93 691.62,240.53 693.62,232.53 L693.70,233.50 L693.53,234.48 L693.12,235.46 C691.12,243.46 602.58,247.86 600.58,239.86 L600.17,238.88 L600.00,237.90 L600.08,236.93 Z" fill="#c0c0c0"/>
<path d="M600.58,239.86 C602.58,247.86 691.12,243.46 693.12,235.46 L692.45,236.43 L691.44,237.41 C689.44,245.41 604.26,249.81 602.26,241.81 L601.25,240.83 L600.58,239.86 Z" fill="#7a7a7a"/>
<path d="M602.26,241.81 C604.26,249.81 689.44,245.41 691.44,237.41 L689.70,238.19 C687.70,246.19 606.00,250.59 604.00,242.59 L602.26,241.81 Z" fill="#a0a0a0"/>
<path d="M689.70,228.43 L693.67,232.82 L680.67,235.02 L676.70,231.03 Z" fill="url(#wedR)"/>
<path d="M604.00,232.83 L600.03,237.22 L609.03,239.22 L613.00,235.03 Z" fill="url(#wedL)"/>
<ellipse cx="642.16" cy="244.63" rx="12.18" ry="1.95" fill="url(#blob)"/>
<ellipse cx="678.71" cy="240.20" rx="6.56" ry="1.76" fill="url(#blob)"/>
<path d="M604.00,242.59 C606.00,250.59 687.70,246.19 689.70,238.19 L691.68,239.16 L692.61,240.14 L693.22,241.12 L693.58,242.09 L693.70,243.07 L693.58,244.04 L693.22,245.02 L692.61,246.00 L691.68,246.97 L689.70,247.95 C687.70,255.95 606.00,260.35 604.00,252.35 L602.02,251.37 L601.09,250.40 L600.48,249.42 L600.12,248.44 L600.00,247.47 L600.12,246.49 L600.48,245.52 L601.09,244.54 L602.02,243.56 L604.00,242.59 Z" fill="#b4b4b4"/>
<path d="M604.00,242.59 C606.00,250.59 687.70,246.19 689.70,238.19 L691.68,239.16 C689.68,247.16 604.02,251.56 602.02,243.56 L604.00,242.59 Z" fill="#404040"/>
<path d="M602.02,243.56 C604.02,251.56 689.68,247.16 691.68,239.16 L692.66,240.21 L693.28,241.25 L693.62,242.29 C691.62,250.29 602.08,254.69 600.08,246.69 L600.42,245.65 L601.04,244.61 L602.02,243.56 Z" fill="#f2f2f2"/>
<path d="M600.08,246.69 C602.08,254.69 691.62,250.29 693.62,242.29 L693.70,243.26 L693.53,244.24 L693.12,245.22 C691.12,253.22 602.58,257.62 600.58,249.62 L600.17,248.64 L600.00,247.66 L600.08,246.69 Z" fill="#c0c0c0"/>
<path d="M600.58,249.62 C602.58,257.62 691.12,253.22 693.12,245.22 L692.45,246.19 L691.44,247.17 C689.44,255.17 604.26,259.57 602.26,251.57 L601.25,250.59 L600.58,249.62 Z" fill="#7a7a7a"/>
<path d="M602.26,251.57 C604.26,259.57 689.44,255.17 691.44,247.17 L689.70,247.95 C687.70,255.95 606.00,260.35 604.00,252.35 L602.26,251.57 Z" fill="#a0a0a0"/>
<path d="M689.70,238.19 L693.67,242.58 L680.67,244.78 L676.70,240.79 Z" fill="url(#wedR)"/>
<path d="M604.00,242.59 L600.03,246.98 L609.03,248.98 L613.00,244.79 Z" fill="url(#wedL)"/>
<ellipse cx="642.16" cy="254.39" rx="12.18" ry="1.95" fill="url(#blob)"/>
<ellipse cx="678.71" cy="249.96" rx="6.56" ry="1.76" fill="url(#blob)"/>
<path d="M604.00,252.35 C606.00,260.35 687.70,255.95 689.70,247.95 L691.68,248.92 L692.61,249.90 L693.22,250.88 L693.58,251.85 L693.70,252.83 L693.58,253.80 L693.22,254.78 L692.61,255.76 L691.68,256.73 L689.70,257.71 C687.70,265.71 606.00,270.11 604.00,262.11 L602.02,261.13 L601.09,260.16 L600.48,259.18 L600.12,258.20 L600.00,257.23 L600.12,256.25 L600.48,255.28 L601.09,254.30 L602.02,253.32 L604.00,252.35 Z" fill="#b4b4b4"/>
<path d="M604.00,252.35 C606.00,260.35 687.70,255.95 689.70,247.95 L691.68,248.92 C689.68,256.92 604.02,261.32 602.02,253.32 L604.00,252.35 Z" fill="#404040"/>
<path d="M602.02,253.32 C604.02,261.32 689.68,256.92 691.68,248.92 L692.66,249.97 L693.28,251.01 L693.62,252.05 C691.62,260.05 602.08,264.45 600.08,256.45 L600.42,255.41 L601.04,254.37 L602.02,253.32 Z" fill="#f2f2f2"/>
<path d="M600.08,256.45 C602.08,264.45 691.62,260.05 693.62,252.05 L693.70,253.02 L693.53,254.00 L693.12,254.98 C691.12,262.98 602.58,267.38 600.58,259.38 L600.17,258.40 L600.00,257.42 L600.08,256.45 Z" fill="#c0c0c0"/>
<path d="M600.58,259.38 C602.58,267.38 691.12,262.98 693.12,254.98 L692.45,255.95 L691.44,256.93 C689.44,264.93 604.26,269.33 602.26,261.33 L601.25,260.35 L600.58,259.38 Z" fill="#7a7a7a"/>
<path d="M602.26,261.33 C604.26,269.33 689.44,264.93 691.44,256.93 L689.70,257.71 C687.70,265.71 606.00,270.11 604.00,262.11 L602.26,261.33 Z" fill="#a0a0a0"/>
<path d="M689.70,247.95 L693.67,252.34 L680.67,254.54 L676.70,250.55 Z" fill="url(#wedR)"/>
<path d="M604.00,252.35 L600.03,256.74 L609.03,258.74 L613.00,254.55 Z" fill="url(#wedL)"/>
<ellipse cx="642.16" cy="264.15" rx="12.18" ry="1.95" fill="url(#blob)"/>
<ellipse cx="678.71" cy="259.72" rx="6.56" ry="1.76" fill="url(#blob)"/>
<path d="M604.00,262.11 C606.00,270.11 687.70,265.71 689.70,257.71 L691.68,258.68 L692.61,259.66 L693.22,260.64 L693.58,261.61 L693.70,262.59 L693.58,263.56 L693.22,264.54 L692.61,265.52 L691.68,266.49 L689.70,267.47 C687.70,275.47 606.00,279.87 604.00,271.87 L602.02,270.89 L601.09,269.92 L600.48,268.94 L600.12,267.96 L600.00,266.99 L600.12,266.01 L600.48,265.04 L601.09,264.06 L602.02,263.08 L604.00,262.11 Z" fill="#b4b4b4"/>
<path d="M604.00,262.11 C606.00,270.11 687.70,265.71 689.70,257.71 L691.68,258.68 C689.68,266.68 604.02,271.08 602.02,263.08 L604.00,262.11 Z" fill="#404040"/>
<path d="M602.02,263.08 C604.02,271.08 689.68,266.68 691.68,258.68 L692.66,259.73 L693.28,260.77 L693.62,261.81 C691.62,269.81 602.08,274.21 600.08,266.21 L600.42,265.17 L601.04,264.13 L602.02,263.08 Z" fill="#f2f2f2"/>
<path d="M600.08,266.21 C602.08,274.21 691.62,269.81 693.62,261.81 L693.70,262.78 L693.53,263.76 L693.12,264.74 C691.12,272.74 602.58,277.14 600.58,269.14 L600.17,268.16 L600.00,267.18 L600.08,266.21 Z" fill="#c0c0c0"/>
<path d="M600.58,269.14 C602.58,277.14 691.12,272.74 693.12,264.74 L692.45,265.71 L691.44,266.69 C689.44,274.69 604.26,279.09 602.26,271.09 L601.25,270.11 L600.58,269.14 Z" fill="#7a7a7a"/>
<path d="M602.26,271.09 C604.26,279.09 689.44,274.69 691.44,266.69 L689.70,267.47 C687.70,275.47 606.00,279.87 604.00,271.87 L602.26,271.09 Z" fill="#a0a0a0"/>
<path d="M689.70,257.71 L693.67,262.10 L680.67,264.30 L676.70,260.31 Z" fill="url(#wedR)"/>
<path d="M604.00,262.11 L600.03,266.50 L609.03,268.50 L613.00,264.31 Z" fill="url(#wedL)"/>
<ellipse cx="642.16" cy="273.91" rx="12.18" ry="1.95" fill="url(#blob)"/>
<ellipse cx="678.71" cy="269.48" rx="6.56" ry="1.76" fill="url(#blob)"/>
<path d="M604.00,271.87 C606.00,279.87 687.70,275.47 689.70,267.47 L691.68,268.44 L692.61,269.42 L693.22,270.40 L693.58,271.37 L693.63,272.10 L693.36,272.59 L692.96,273.08 L692.48,273.57 L691.92,274.06 L691.30,274.54 C689.30,287.55 604.40,291.95 602.40,278.94 L601.78,278.46 L601.22,277.97 L600.74,277.48 L600.34,276.99 L600.07,276.50 L600.12,275.77 L600.48,274.80 L601.09,273.82 L602.02,272.84 L604.00,271.87 Z" fill="#b4b4b4"/>
<path d="M604.00,271.87 C606.00,279.87 687.70,275.47 689.70,267.47 L691.68,268.44 C689.68,276.44 604.02,280.84 602.02,272.84 L604.00,271.87 Z" fill="#404040"/>
<path d="M602.02,272.84 C604.02,280.84 689.68,276.44 691.68,268.44 L692.66,269.49 L693.28,270.53 L693.62,271.57 C691.62,279.57 602.08,283.97 600.08,275.97 L600.42,274.93 L601.04,273.89 L602.02,272.84 Z" fill="#f2f2f2"/>
<path d="M600.08,275.97 C602.08,283.97 691.62,279.57 693.62,271.57 L693.59,272.20 L693.29,272.69 L692.87,273.18 C690.87,283.64 602.83,288.04 600.83,277.58 L600.41,277.09 L600.11,276.60 L600.08,275.97 Z" fill="#c0c0c0"/>
<path d="M600.83,277.58 C602.83,288.04 690.87,283.64 692.87,273.18 L692.38,273.67 L691.80,274.15 C689.80,286.43 603.90,290.83 601.90,278.55 L601.32,278.07 L600.83,277.58 Z" fill="#e2e2e2"/>
<path d="M601.90,278.55 C603.90,290.83 689.80,286.43 691.80,274.15 L691.30,274.54 C689.30,287.55 604.40,291.95 602.40,278.94 L601.90,278.55 Z" fill="#9a9a9a"/>
<path d="M689.70,267.47 L693.67,271.86 L680.67,274.06 L676.70,270.07 Z" fill="url(#wedR)"/>
<path d="M604.00,271.87 L600.03,276.26 L609.03,278.26 L613.00,274.07 Z" fill="url(#wedL)"/>
<ellipse cx="642.16" cy="281.04" rx="12.18" ry="1.95" fill="url(#blob)"/>
<ellipse cx="678.71" cy="279.24" rx="6.56" ry="1.76" fill="url(#blob)"/>
<clipPath id="cl4"><path d="M604.00,115.71 C606.00,123.71 687.70,119.31 689.70,111.31 L691.68,112.28 L692.61,113.26 L693.22,114.24 L693.58,115.21 L693.70,116.19 L693.58,117.16 L693.22,118.14 L692.61,119.12 L691.68,120.09 L689.70,121.07 C687.70,129.07 606.00,133.47 604.00,125.47 L602.02,124.49 L601.09,123.52 L600.48,122.54 L600.12,121.56 L600.00,120.59 L600.12,119.61 L600.48,118.64 L601.09,117.66 L602.02,116.68 L604.00,115.71 Z"/><path d="M604.00,125.47 C606.00,133.47 687.70,129.07 689.70,121.07 L691.68,122.04 L692.61,123.02 L693.22,124.00 L693.58,124.97 L693.70,125.95 L693.58,126.92 L693.22,127.90 L692.61,128.88 L691.68,129.85 L689.70,130.83 C687.70,138.83 606.00,143.23 604.00,135.23 L602.02,134.25 L601.09,133.28 L600.48,132.30 L600.12,131.32 L600.00,130.35 L600.12,129.37 L600.48,128.40 L601.09,127.42 L602.02,126.44 L604.00,125.47 Z"/><path d="M604.00,135.23 C606.00,143.23 687.70,138.83 689.70,130.83 L691.68,131.80 L692.61,132.78 L693.22,133.76 L693.58,134.73 L693.70,135.71 L693.58,136.68 L693.22,137.66 L692.61,138.64 L691.68,139.61 L689.70,140.59 C687.70,148.59 606.00,152.99 604.00,144.99 L602.02,144.01 L601.09,143.04 L600.48,142.06 L600.12,141.08 L600.00,140.11 L600.12,139.13 L600.48,138.16 L601.09,137.18 L602.02,136.20 L604.00,135.23 Z"/><path d="M604.00,144.99 C606.00,152.99 687.70,148.59 689.70,140.59 L691.68,141.56 L692.61,142.54 L693.22,143.52 L693.58,144.49 L693.70,145.47 L693.58,146.44 L693.22,147.42 L692.61,148.40 L691.68,149.37 L689.70,150.35 C687.70,158.35 606.00,162.75 604.00,154.75 L602.02,153.77 L601.09,152.80 L600.48,151.82 L600.12,150.84 L600.00,149.87 L600.12,148.89 L600.48,147.92 L601.09,146.94 L602.02,145.96 L604.00,144.99 Z"/><path d="M604.00,154.75 C606.00,162.75 687.70,158.35 689.70,150.35 L691.68,151.32 L692.61,152.30 L693.22,153.28 L693.58,154.25 L693.70,155.23 L693.58,156.20 L693.22,157.18 L692.61,158.16 L691.68,159.13 L689.70,160.11 C687.70,168.11 606.00,172.51 604.00,164.51 L602.02,163.53 L601.09,162.56 L600.48,161.58 L600.12,160.60 L600.00,159.63 L600.12,158.65 L600.48,157.68 L601.09,156.70 L602.02,155.72 L604.00,154.75 Z"/><path d="M604.00,164.51 C606.00,172.51 687.70,168.11 689.70,160.11 L691.68,161.08 L692.61,162.06 L693.22,163.04 L693.58,164.01 L693.70,164.99 L693.58,165.96 L693.22,166.94 L692.61,167.92 L691.68,168.89 L689.70,169.87 C687.70,177.87 606.00,182.27 604.00,174.27 L602.02,173.29 L601.09,172.32 L600.48,171.34 L600.12,170.36 L600.00,169.39 L600.12,168.41 L600.48,167.44 L601.09,166.46 L602.02,165.48 L604.00,164.51 Z"/><path d="M604.00,174.27 C606.00,182.27 687.70,177.87 689.70,169.87 L691.68,170.84 L692.61,171.82 L693.22,172.80 L693.58,173.77 L693.70,174.75 L693.58,175.72 L693.22,176.70 L692.61,177.68 L691.68,178.65 L689.70,179.63 C687.70,187.63 606.00,192.03 604.00,184.03 L602.02,183.05 L601.09,182.08 L600.48,181.10 L600.12,180.12 L600.00,179.15 L600.12,178.17 L600.48,177.20 L601.09,176.22 L602.02,175.24 L604.00,174.27 Z"/><path d="M604.00,184.03 C606.00,192.03 687.70,187.63 689.70,179.63 L691.68,180.60 L692.61,181.58 L693.22,182.56 L693.58,183.53 L693.70,184.51 L693.58,185.48 L693.22,186.46 L692.61,187.44 L691.68,188.41 L689.70,189.39 C687.70,197.39 606.00,201.79 604.00,193.79 L602.02,192.81 L601.09,191.84 L600.48,190.86 L600.12,189.88 L600.00,188.91 L600.12,187.93 L600.48,186.96 L601.09,185.98 L602.02,185.00 L604.00,184.03 Z"/><path d="M604.00,193.79 C606.00,201.79 687.70,197.39 689.70,189.39 L691.68,190.36 L692.61,191.34 L693.22,192.32 L693.58,193.29 L693.70,194.27 L693.58,195.24 L693.22,196.22 L692.61,197.20 L691.68,198.17 L689.70,199.15 C687.70,207.15 606.00,211.55 604.00,203.55 L602.02,202.57 L601.09,201.60 L600.48,200.62 L600.12,199.64 L600.00,198.67 L600.12,197.69 L600.48,196.72 L601.09,195.74 L602.02,194.76 L604.00,193.79 Z"/><path d="M604.00,203.55 C606.00,211.55 687.70,207.15 689.70,199.15 L691.68,200.12 L692.61,201.10 L693.22,202.08 L693.58,203.05 L693.70,204.03 L693.58,205.00 L693.22,205.98 L692.61,206.96 L691.68,207.93 L689.70,208.91 C687.70,216.91 606.00,221.31 604.00,213.31 L602.02,212.33 L601.09,211.36 L600.48,210.38 L600.12,209.40 L600.00,208.43 L600.12,207.45 L600.48,206.48 L601.09,205.50 L602.02,204.52 L604.00,203.55 Z"/><path d="M604.00,213.31 C606.00,221.31 687.70,216.91 689.70,208.91 L691.68,209.88 L692.61,210.86 L693.22,211.84 L693.58,212.81 L693.70,213.79 L693.58,214.76 L693.22,215.74 L692.61,216.72 L691.68,217.69 L689.70,218.67 C687.70,226.67 606.00,231.07 604.00,223.07 L602.02,222.09 L601.09,221.12 L600.48,220.14 L600.12,219.16 L600.00,218.19 L600.12,217.21 L600.48,216.24 L601.09,215.26 L602.02,214.28 L604.00,213.31 Z"/><path d="M604.00,223.07 C606.00,231.07 687.70,226.67 689.70,218.67 L691.68,219.64 L692.61,220.62 L693.22,221.60 L693.58,222.57 L693.70,223.55 L693.58,224.52 L693.22,225.50 L692.61,226.48 L691.68,227.45 L689.70,228.43 C687.70,236.43 606.00,240.83 604.00,232.83 L602.02,231.85 L601.09,230.88 L600.48,229.90 L600.12,228.92 L600.00,227.95 L600.12,226.97 L600.48,226.00 L601.09,225.02 L602.02,224.04 L604.00,223.07 Z"/><path d="M604.00,232.83 C606.00,240.83 687.70,236.43 689.70,228.43 L691.68,229.40 L692.61,230.38 L693.22,231.36 L693.58,232.33 L693.70,233.31 L693.58,234.28 L693.22,235.26 L692.61,236.24 L691.68,237.21 L689.70,238.19 C687.70,246.19 606.00,250.59 604.00,242.59 L602.02,241.61 L601.09,240.64 L600.48,239.66 L600.12,238.68 L600.00,237.71 L600.12,236.73 L600.48,235.76 L601.09,234.78 L602.02,233.80 L604.00,232.83 Z"/><path d="M604.00,242.59 C606.00,250.59 687.70,246.19 689.70,238.19 L691.68,239.16 L692.61,240.14 L693.22,241.12 L693.58,242.09 L693.70,243.07 L693.58,244.04 L693.22,245.02 L692.61,246.00 L691.68,246.97 L689.70,247.95 C687.70,255.95 606.00,260.35 604.00,252.35 L602.02,251.37 L601.09,250.40 L600.48,249.42 L600.12,248.44 L600.00,247.47 L600.12,246.49 L600.48,245.52 L601.09,244.54 L602.02,243.56 L604.00,242.59 Z"/><path d="M604.00,252.35 C606.00,260.35 687.70,255.95 689.70,247.95 L691.68,248.92 L692.61,249.90 L693.22,250.88 L693.58,251.85 L693.70,252.83 L693.58,253.80 L693.22,254.78 L692.61,255.76 L691.68,256.73 L689.70,257.71 C687.70,265.71 606.00,270.11 604.00,262.11 L602.02,261.13 L601.09,260.16 L600.48,259.18 L600.12,258.20 L600.00,257.23 L600.12,256.25 L600.48,255.28 L601.09,254.30 L602.02,253.32 L604.00,252.35 Z"/><path d="M604.00,262.11 C606.00,270.11 687.70,265.71 689.70,257.71 L691.68,258.68 L692.61,259.66 L693.22,260.64 L693.58,261.61 L693.70,262.59 L693.58,263.56 L693.22,264.54 L692.61,265.52 L691.68,266.49 L689.70,267.47 C687.70,275.47 606.00,279.87 604.00,271.87 L602.02,270.89 L601.09,269.92 L600.48,268.94 L600.12,267.96 L600.00,266.99 L600.12,266.01 L600.48,265.04 L601.09,264.06 L602.02,263.08 L604.00,262.11 Z"/><path d="M604.00,271.87 C606.00,279.87 687.70,275.47 689.70,267.47 L691.68,268.44 L692.61,269.42 L693.22,270.40 L693.58,271.37 L693.63,272.10 L693.36,272.59 L692.96,273.08 L692.48,273.57 L691.92,274.06 L691.30,274.54 C689.30,287.55 604.40,291.95 602.40,278.94 L601.78,278.46 L601.22,277.97 L600.74,277.48 L600.34,276.99 L600.07,276.50 L600.12,275.77 L600.48,274.80 L601.09,273.82 L602.02,272.84 L604.00,271.87 Z"/></clipPath>
<rect x="598.00" y="100.70" width="97.70" height="195.92" fill="url(#gov)" clip-path="url(#cl4)"/>
<rect x="598.00" y="100.70" width="97.70" height="195.92" fill="#000" opacity="0.08" clip-path="url(#cl4)"/>
<path d="M601.50,111.71 Q637.48,111.63 665.59,105.60 Q689.70,110.70 693.70,115.70 L689.70,112.31 C687.70,120.31 606.00,124.71 604.00,116.71 Z" fill="url(#gint)"/>
<path d="M610.00,113.51 C613.00,120.71 680.70,116.31 683.70,109.11" fill="none" stroke="#3a3a3a" stroke-width="2.6" opacity="0.8"/>
<path d="M612.00,115.11 C614.00,122.31 679.70,117.91 681.70,110.71" fill="none" stroke="#dcdcdc" stroke-width="1.8"/>
<path d="M661.59,103.10 Q690.70,104.10 693.70,113.31 Q685.70,109.10 661.59,108.80 Z" fill="#d4d4d4"/>
<path d="M663.59,104.00 Q690.20,104.80 693.20,113.01" fill="none" stroke="#f6f6f6" stroke-width="1.5"/>
<path d="M665.59,108.60 Q685.70,108.90 692.20,113.81" fill="none" stroke="#3a3a3a" stroke-width="1.3"/>
<path d="M606.00,105.91 Q637.48,100.40 664.59,97.30 Q668.09,101.45 666.09,105.60 Q637.48,107.75 601.50,111.91 Z" fill="#b4b4b4"/>
<path d="M607.46,106.63 Q637.48,101.29 663.59,98.30" fill="none" stroke="#5e5e5e" stroke-width="1.33"/>
<path d="M606.52,109.21 Q637.48,104.45 663.09,101.86" fill="none" stroke="#f4f4f4" stroke-width="2.82"/>
<path d="M603.86,111.43 Q637.48,107.16 664.59,104.93" fill="none" stroke="#4a4a4a" stroke-width="1.33"/>
<rect x="612" y="80" width="3" height="19.4" fill="#000"/>
<rect x="679.6" y="80" width="3" height="19.4" fill="#000"/>
<rect x="612" y="88.6" width="70" height="3.2" fill="#000"/>
<rect x="691.8" y="99" width="22" height="2.8" fill="#000"/>
<rect x="691.8" y="287" width="22" height="2.9" fill="#000"/>
<rect x="701.8" y="100" width="3" height="188" fill="#000"/>
<rect x="575" y="128.7" width="19.7" height="3.1" fill="#000"/>
<rect x="575" y="139.7" width="19.7" height="3.1" fill="#000"/>
<rect x="582.9" y="130" width="3" height="11" fill="#000"/>
<text x="649" y="68.2" font-family="Liberation Sans" font-size="31" text-anchor="middle" fill="#000" stroke="#000" stroke-width="0.8">D</text>
<text x="550" y="149.2" font-family="Liberation Sans" font-size="31" fill="#000" stroke="#000" stroke-width="0.8" transform="translate(552,0) scale(0.86,1) translate(-552,0)">P</text>
<text x="710.5" y="202" font-family="Liberation Sans" font-size="31" fill="#000" stroke="#000" stroke-width="0.8" transform="translate(713,0) scale(0.9,1) translate(-713,0)">L</text></svg>
<div class="a" style="left:53px;top:335px;width:689px;height:400px;background:linear-gradient(to right,#04437f,#03407a 45%,#02386d);border-radius:10px 10px 0 0"></div>
<div class="c" style="left:53px;top:346.3px;width:689px;height:24px;line-height:24px;color:#fff;font-size:18.6px;letter-spacing:0.8px;-webkit-text-stroke:0.25px #fff">Product Information</div>
<div class="a" style="left:55px;top:380px;width:685px;height:33px;background:#ededed"></div>
<div class="a" style="left:55px;top:415px;width:685px;height:318px;background:#eeeeee"></div>
<div class="a" style="left:55px;top:415.00px;width:685px;height:22.49px;background:#d3d3d3"></div>
<div class="a" style="left:55px;top:461.21px;width:685px;height:21.73px;background:#d3d3d3"></div>
<div class="a" style="left:55px;top:506.67px;width:685px;height:21.73px;background:#d3d3d3"></div>
<div class="a" style="left:55px;top:552.12px;width:685px;height:21.73px;background:#d3d3d3"></div>
<div class="a" style="left:55px;top:597.58px;width:685px;height:21.73px;background:#d3d3d3"></div>
<div class="a" style="left:55px;top:643.03px;width:685px;height:21.73px;background:#d3d3d3"></div>
<div class="a" style="left:55px;top:688.48px;width:685px;height:21.73px;background:#d3d3d3"></div>
<div class="a" style="left:55px;top:436.49px;width:685px;height:2px;background:#8fa5bb"></div>
<div class="a" style="left:55px;top:459.21px;width:685px;height:2px;background:#8fa5bb"></div>
<div class="a" style="left:55px;top:481.94px;width:685px;height:2px;background:#8fa5bb"></div>
<div class="a" style="left:55px;top:504.67px;width:685px;height:2px;background:#8fa5bb"></div>
<div class="a" style="left:55px;top:527.39px;width:685px;height:2px;background:#8fa5bb"></div>
<div class="a" style="left:55px;top:550.12px;width:685px;height:2px;background:#8fa5bb"></div>
<div class="a" style="left:55px;top:572.85px;width:685px;height:2px;background:#8fa5bb"></div>
<div class="a" style="left:55px;top:595.58px;width:685px;height:2px;background:#8fa5bb"></div>
<div class="a" style="left:55px;top:618.30px;width:685px;height:2px;background:#8fa5bb"></div>
<div class="a" style="left:55px;top:641.03px;width:685px;height:2px;background:#8fa5bb"></div>
<div class="a" style="left:55px;top:663.76px;width:685px;height:2px;background:#8fa5bb"></div>
<div class="a" style="left:55px;top:686.48px;width:685px;height:2px;background:#8fa5bb"></div>
<div class="a" style="left:55px;top:709.21px;width:685px;height:2px;background:#8fa5bb"></div>
<div class="a" style="left:171px;top:415px;width:2px;height:318px;background:rgba(94,132,171,0.55)"></div>
<div class="a" style="left:228px;top:415px;width:2px;height:318px;background:rgba(94,132,171,0.55)"></div>
<div class="a" style="left:295px;top:415px;width:2px;height:318px;background:rgba(94,132,171,0.55)"></div>
<div class="a" style="left:346px;top:415px;width:2px;height:318px;background:rgba(94,132,171,0.55)"></div>
<div class="a" style="left:397px;top:415px;width:2px;height:318px;background:#03417e"></div>
<div class="a" style="left:512px;top:415px;width:2px;height:318px;background:rgba(94,132,171,0.55)"></div>
<div class="a" style="left:571px;top:415px;width:2px;height:318px;background:rgba(94,132,171,0.55)"></div>
<div class="a" style="left:635px;top:415px;width:2px;height:318px;background:rgba(94,132,171,0.55)"></div>
<div class="a" style="left:687px;top:415px;width:2px;height:318px;background:rgba(94,132,171,0.55)"></div>
<div class="a" style="left:171px;top:380px;width:2px;height:33px;background:#03417e"></div>
<div class="a" style="left:228px;top:380px;width:2px;height:33px;background:#03417e"></div>
<div class="a" style="left:295px;top:380px;width:2px;height:33px;background:#03417e"></div>
<div class="a" style="left:346px;top:399px;width:2px;height:14px;background:#03417e"></div>
<div class="a" style="left:397px;top:380px;width:2px;height:33px;background:#03417e"></div>
<div class="a" style="left:512px;top:380px;width:2px;height:33px;background:#03417e"></div>
<div class="a" style="left:571px;top:380px;width:2px;height:33px;background:#03417e"></div>
<div class="a" style="left:635px;top:380px;width:2px;height:33px;background:#03417e"></div>
<div class="a" style="left:687px;top:399px;width:2px;height:14px;background:#03417e"></div>
<div class="a" style="left:297px;top:399px;width:100px;height:2px;background:#03417e"></div>
<div class="a" style="left:637px;top:399px;width:103px;height:2px;background:#03417e"></div>
<div class="a" style="left:55px;top:413px;width:685px;height:2px;background:#03417e"></div>
<div class="c" style="left:56px;top:386px;width:116px;height:26px;line-height:26px;font-weight:bold;font-size:20.5px;letter-spacing:0.8px;color:#111;-webkit-text-stroke:0.4px #111">ITEM</div>
<div class="c" style="left:173px;top:377.5px;width:55px;height:24px;line-height:24px;font-weight:bold;font-size:20px;color:#111;-webkit-text-stroke:0.3px #111">D</div>
<div class="c" style="left:173px;top:398px;width:55px;height:14px;line-height:14px;font-size:13.5px;color:#111"><span style="font-size:10.5px;position:relative;top:-0.5px">(</span>&#8202;&#8202;&#8202;mm&#8202;&#8202;&#8202;<span style="font-size:10.5px;position:relative;top:-0.5px">)</span></div>
<div class="c" style="left:231.5px;top:377.5px;width:65.0px;height:24px;line-height:24px;font-weight:bold;font-size:20px;color:#111;-webkit-text-stroke:0.3px #111">P</div>
<div class="c" style="left:230px;top:398px;width:65px;height:14px;line-height:14px;font-size:13.5px;color:#111"><span style="font-size:10.5px;position:relative;top:-0.5px">(</span>&#8202;&#8202;&#8202;mm&#8202;&#8202;&#8202;<span style="font-size:10.5px;position:relative;top:-0.5px">)</span></div>
<div class="c" style="left:293px;top:377.5px;width:104px;height:24px;line-height:24px;font-weight:bold;font-size:20px;color:#111;-webkit-text-stroke:0.3px #111">L</div>
<div class="c" style="left:297px;top:401px;width:49px;height:13px;line-height:13px;font-size:11.4px;color:#222">XD</div>
<div class="c" style="left:348px;top:398px;width:49px;height:15px;line-height:15px;font-size:15px;color:#222">mm</div>
<div class="c" style="left:398px;top:386px;width:113px;height:26px;line-height:26px;font-weight:bold;font-size:20.5px;letter-spacing:0.8px;color:#111;-webkit-text-stroke:0.4px #111">ITEM</div>
<div class="c" style="left:514px;top:377.5px;width:57px;height:24px;line-height:24px;font-weight:bold;font-size:20px;color:#111;-webkit-text-stroke:0.3px #111">D</div>
<div class="c" style="left:514px;top:398px;width:57px;height:14px;line-height:14px;font-size:13.5px;color:#111"><span style="font-size:10.5px;position:relative;top:-0.5px">(</span>&#8202;&#8202;&#8202;mm&#8202;&#8202;&#8202;<span style="font-size:10.5px;position:relative;top:-0.5px">)</span></div>
<div class="c" style="left:574.5px;top:377.5px;width:62.0px;height:24px;line-height:24px;font-weight:bold;font-size:20px;color:#111;-webkit-text-stroke:0.3px #111">P</div>
<div class="c" style="left:573px;top:398px;width:62px;height:14px;line-height:14px;font-size:13.5px;color:#111"><span style="font-size:10.5px;position:relative;top:-0.5px">(</span>&#8202;&#8202;&#8202;mm&#8202;&#8202;&#8202;<span style="font-size:10.5px;position:relative;top:-0.5px">)</span></div>
<div class="c" style="left:633px;top:377.5px;width:107px;height:24px;line-height:24px;font-weight:bold;font-size:20px;color:#111;-webkit-text-stroke:0.3px #111">L</div>
<div class="c" style="left:638.5px;top:401px;width:50.0px;height:13px;line-height:13px;font-size:11.4px;color:#222">XD</div>
<div class="c" style="left:689px;top:398px;width:51px;height:15px;line-height:15px;font-size:15px;color:#222">mm</div>
<div class="a" style="left:88.1px;top:392px;width:5.8px;height:2.4px;background:#111"></div>
<div class="a" style="left:88.1px;top:403.3px;width:5.8px;height:2.5px;background:#111"></div>
<div class="a" style="left:429.1px;top:392px;width:5.8px;height:2.4px;background:#111"></div>
<div class="a" style="left:429.1px;top:403.3px;width:5.8px;height:2.5px;background:#111"></div>
<div class="c" style="left:55px;top:415.75px;width:116px;height:20px;line-height:20px;font-size:15.4px;transform:scaleX(0.985)">M7*1.0*1.0D</div>
<div class="c" style="left:173px;top:415.75px;width:55px;height:20px;line-height:20px;font-size:15.4px;transform:scaleX(0.9)">7</div>
<div class="c" style="left:230px;top:415.75px;width:65px;height:20px;line-height:20px;font-size:15.4px;transform:scaleX(0.9)">1.0</div>
<div class="c" style="left:297px;top:415.75px;width:49px;height:20px;line-height:20px;font-size:15.4px;transform:scaleX(0.9)">1.0D</div>
<div class="c" style="left:348px;top:415.75px;width:49px;height:20px;line-height:20px;font-size:15.4px;transform:scaleX(0.9)">7</div>
<div class="c" style="left:55px;top:438.48px;width:116px;height:20px;line-height:20px;font-size:15.4px;transform:scaleX(0.985)">M7*1.0*1.5D</div>
<div class="c" style="left:173px;top:438.48px;width:55px;height:20px;line-height:20px;font-size:15.4px;transform:scaleX(0.9)">7</div>
<div class="c" style="left:230px;top:438.48px;width:65px;height:20px;line-height:20px;font-size:15.4px;transform:scaleX(0.9)">1.0</div>
<div class="c" style="left:297px;top:438.48px;width:49px;height:20px;line-height:20px;font-size:15.4px;transform:scaleX(0.9)">1.5D</div>
<div class="c" style="left:348px;top:438.48px;width:49px;height:20px;line-height:20px;font-size:15.4px;transform:scaleX(0.9)">10.5</div>
<div class="c" style="left:55px;top:461.20px;width:116px;height:20px;line-height:20px;font-size:15.4px;transform:scaleX(0.985)">M7*1.0*2.0D</div>
<div class="c" style="left:173px;top:461.20px;width:55px;height:20px;line-height:20px;font-size:15.4px;transform:scaleX(0.9)">7</div>
<div class="c" style="left:230px;top:461.20px;width:65px;height:20px;line-height:20px;font-size:15.4px;transform:scaleX(0.9)">1.0</div>
<div class="c" style="left:297px;top:461.20px;width:49px;height:20px;line-height:20px;font-size:15.4px;transform:scaleX(0.9)">2.0D</div>
<div class="c" style="left:348px;top:461.20px;width:49px;height:20px;line-height:20px;font-size:15.4px;transform:scaleX(0.9)">14</div>
<div class="c" style="left:55px;top:483.93px;width:116px;height:20px;line-height:20px;font-size:15.4px;transform:scaleX(0.985)">M7*1.0*2.5D</div>
<div class="c" style="left:173px;top:483.93px;width:55px;height:20px;line-height:20px;font-size:15.4px;transform:scaleX(0.9)">7</div>
<div class="c" style="left:230px;top:483.93px;width:65px;height:20px;line-height:20px;font-size:15.4px;transform:scaleX(0.9)">1.0</div>
<div class="c" style="left:297px;top:483.93px;width:49px;height:20px;line-height:20px;font-size:15.4px;transform:scaleX(0.9)">2.5D</div>
<div class="c" style="left:348px;top:483.93px;width:49px;height:20px;line-height:20px;font-size:15.4px;transform:scaleX(0.9)">17.5</div>
<div class="c" style="left:55px;top:506.66px;width:116px;height:20px;line-height:20px;font-size:15.4px;transform:scaleX(0.985)">M8*1.25*1.0D</div>
<div class="c" style="left:173px;top:506.66px;width:55px;height:20px;line-height:20px;font-size:15.4px;transform:scaleX(0.9)">8</div>
<div class="c" style="left:230px;top:506.66px;width:65px;height:20px;line-height:20px;font-size:15.4px;transform:scaleX(0.9)">1.25</div>
<div class="c" style="left:297px;top:506.66px;width:49px;height:20px;line-height:20px;font-size:15.4px;transform:scaleX(0.9)">1.0D</div>
<div class="c" style="left:348px;top:506.66px;width:49px;height:20px;line-height:20px;font-size:15.4px;transform:scaleX(0.9)">8</div>
<div class="c" style="left:55px;top:529.39px;width:116px;height:20px;line-height:20px;font-size:15.4px;transform:scaleX(0.985)">M8*1.25*1.5D</div>
<div class="c" style="left:173px;top:529.39px;width:55px;height:20px;line-height:20px;font-size:15.4px;transform:scaleX(0.9)">8</div>
<div class="c" style="left:230px;top:529.39px;width:65px;height:20px;line-height:20px;font-size:15.4px;transform:scaleX(0.9)">1.25</div>
<div class="c" style="left:297px;top:529.39px;width:49px;height:20px;line-height:20px;font-size:15.4px;transform:scaleX(0.9)">1.5D</div>
<div class="c" style="left:348px;top:529.39px;width:49px;height:20px;line-height:20px;font-size:15.4px;transform:scaleX(0.9)">12</div>
<div class="c" style="left:55px;top:552.11px;width:116px;height:20px;line-height:20px;font-size:15.4px;transform:scaleX(0.985)">M8*1.25*2.0D</div>
<div class="c" style="left:173px;top:552.11px;width:55px;height:20px;line-height:20px;font-size:15.4px;transform:scaleX(0.9)">8</div>
<div class="c" style="left:230px;top:552.11px;width:65px;height:20px;line-height:20px;font-size:15.4px;transform:scaleX(0.9)">1.25</div>
<div class="c" style="left:297px;top:552.11px;width:49px;height:20px;line-height:20px;font-size:15.4px;transform:scaleX(0.9)">2.0D</div>
<div class="c" style="left:348px;top:552.11px;width:49px;height:20px;line-height:20px;font-size:15.4px;transform:scaleX(0.9)">16</div>
<div class="c" style="left:55px;top:574.84px;width:116px;height:20px;line-height:20px;font-size:15.4px;transform:scaleX(0.985)">M8*1.25*2.5D</div>
<div class="c" style="left:173px;top:574.84px;width:55px;height:20px;line-height:20px;font-size:15.4px;transform:scaleX(0.9)">8</div>
<div class="c" style="left:230px;top:574.84px;width:65px;height:20px;line-height:20px;font-size:15.4px;transform:scaleX(0.9)">1.25</div>
<div class="c" style="left:297px;top:574.84px;width:49px;height:20px;line-height:20px;font-size:15.4px;transform:scaleX(0.9)">2.5D</div>
<div class="c" style="left:348px;top:574.84px;width:49px;height:20px;line-height:20px;font-size:15.4px;transform:scaleX(0.9)">20</div>
<div class="c" style="left:55px;top:597.57px;width:116px;height:20px;line-height:20px;font-size:15.4px;transform:scaleX(0.985)">M8*1.25*3.0D</div>
<div class="c" style="left:173px;top:597.57px;width:55px;height:20px;line-height:20px;font-size:15.4px;transform:scaleX(0.9)">8</div>
<div class="c" style="left:230px;top:597.57px;width:65px;height:20px;line-height:20px;font-size:15.4px;transform:scaleX(0.9)">1.25</div>
<div class="c" style="left:297px;top:597.57px;width:49px;height:20px;line-height:20px;font-size:15.4px;transform:scaleX(0.9)">3.0D</div>
<div class="c" style="left:348px;top:597.57px;width:49px;height:20px;line-height:20px;font-size:15.4px;transform:scaleX(0.9)">24</div>
<div class="c" style="left:55px;top:620.29px;width:116px;height:20px;line-height:20px;font-size:15.4px;transform:scaleX(0.985)">M8*1.0*1.0D</div>
<div class="c" style="left:173px;top:620.29px;width:55px;height:20px;line-height:20px;font-size:15.4px;transform:scaleX(0.9)">8</div>
<div class="c" style="left:230px;top:620.29px;width:65px;height:20px;line-height:20px;font-size:15.4px;transform:scaleX(0.9)">1.0</div>
<div class="c" style="left:297px;top:620.29px;width:49px;height:20px;line-height:20px;font-size:15.4px;transform:scaleX(0.9)">1.0D</div>
<div class="c" style="left:348px;top:620.29px;width:49px;height:20px;line-height:20px;font-size:15.4px;transform:scaleX(0.9)">8</div>
<div class="c" style="left:55px;top:643.02px;width:116px;height:20px;line-height:20px;font-size:15.4px;transform:scaleX(0.985)">M8*1.0*1.5D</div>
<div class="c" style="left:173px;top:643.02px;width:55px;height:20px;line-height:20px;font-size:15.4px;transform:scaleX(0.9)">8</div>
<div class="c" style="left:230px;top:643.02px;width:65px;height:20px;line-height:20px;font-size:15.4px;transform:scaleX(0.9)">1.0</div>
<div class="c" style="left:297px;top:643.02px;width:49px;height:20px;line-height:20px;font-size:15.4px;transform:scaleX(0.9)">1.5D</div>
<div class="c" style="left:348px;top:643.02px;width:49px;height:20px;line-height:20px;font-size:15.4px;transform:scaleX(0.9)">12</div>
<div class="c" style="left:55px;top:665.75px;width:116px;height:20px;line-height:20px;font-size:15.4px;transform:scaleX(0.985)">M8*1.0*2.0D</div>
<div class="c" style="left:173px;top:665.75px;width:55px;height:20px;line-height:20px;font-size:15.4px;transform:scaleX(0.9)">8</div>
<div class="c" style="left:230px;top:665.75px;width:65px;height:20px;line-height:20px;font-size:15.4px;transform:scaleX(0.9)">1.0</div>
<div class="c" style="left:297px;top:665.75px;width:49px;height:20px;line-height:20px;font-size:15.4px;transform:scaleX(0.9)">2.0D</div>
<div class="c" style="left:348px;top:665.75px;width:49px;height:20px;line-height:20px;font-size:15.4px;transform:scaleX(0.9)">16</div>
<div class="c" style="left:55px;top:688.47px;width:116px;height:20px;line-height:20px;font-size:15.4px;transform:scaleX(0.985)">M8*1.0*2.5D</div>
<div class="c" style="left:173px;top:688.47px;width:55px;height:20px;line-height:20px;font-size:15.4px;transform:scaleX(0.9)">8</div>
<div class="c" style="left:230px;top:688.47px;width:65px;height:20px;line-height:20px;font-size:15.4px;transform:scaleX(0.9)">1.0</div>
<div class="c" style="left:297px;top:688.47px;width:49px;height:20px;line-height:20px;font-size:15.4px;transform:scaleX(0.9)">2.5D</div>
<div class="c" style="left:348px;top:688.47px;width:49px;height:20px;line-height:20px;font-size:15.4px;transform:scaleX(0.9)">20</div>
<div class="c" style="left:55px;top:711.16px;width:116px;height:20px;line-height:20px;font-size:15.4px;transform:scaleX(0.985)">M9*1.25*1.5D</div>
<div class="c" style="left:173px;top:711.16px;width:55px;height:20px;line-height:20px;font-size:15.4px;transform:scaleX(0.9)">9</div>
<div class="c" style="left:230px;top:711.16px;width:65px;height:20px;line-height:20px;font-size:15.4px;transform:scaleX(0.9)">1.25</div>
<div class="c" style="left:297px;top:711.16px;width:49px;height:20px;line-height:20px;font-size:15.4px;transform:scaleX(0.9)">1.5D</div>
<div class="c" style="left:348px;top:711.16px;width:49px;height:20px;line-height:20px;font-size:15.4px;transform:scaleX(0.9)">13.5</div>
<div class="c" style="left:399px;top:415.75px;width:113px;height:20px;line-height:20px;font-size:15.4px;transform:scaleX(0.985)">M9*1.25*2.0D</div>
<div class="c" style="left:514px;top:415.75px;width:57px;height:20px;line-height:20px;font-size:15.4px;transform:scaleX(0.9)">9</div>
<div class="c" style="left:573px;top:415.75px;width:62px;height:20px;line-height:20px;font-size:15.4px;transform:scaleX(0.9)">1.25</div>
<div class="c" style="left:637px;top:415.75px;width:50px;height:20px;line-height:20px;font-size:15.4px;transform:scaleX(0.9)">2.0D</div>
<div class="c" style="left:689px;top:415.75px;width:51px;height:20px;line-height:20px;font-size:15.4px;transform:scaleX(0.9)">18</div>
<div class="c" style="left:399px;top:438.48px;width:113px;height:20px;line-height:20px;font-size:15.4px;transform:scaleX(0.985)">M10*1.0*1.0D</div>
<div class="c" style="left:514px;top:438.48px;width:57px;height:20px;line-height:20px;font-size:15.4px;transform:scaleX(0.9)">10</div>
<div class="c" style="left:573px;top:438.48px;width:62px;height:20px;line-height:20px;font-size:15.4px;transform:scaleX(0.9)">1.0</div>
<div class="c" style="left:637px;top:438.48px;width:50px;height:20px;line-height:20px;font-size:15.4px;transform:scaleX(0.9)">1.0D</div>
<div class="c" style="left:689px;top:438.48px;width:51px;height:20px;line-height:20px;font-size:15.4px;transform:scaleX(0.9)">10</div>
<div class="c" style="left:399px;top:461.20px;width:113px;height:20px;line-height:20px;font-size:15.4px;transform:scaleX(0.985)">M10*1.0*1.5D</div>
<div class="c" style="left:514px;top:461.20px;width:57px;height:20px;line-height:20px;font-size:15.4px;transform:scaleX(0.9)">10</div>
<div class="c" style="left:573px;top:461.20px;width:62px;height:20px;line-height:20px;font-size:15.4px;transform:scaleX(0.9)">1.0</div>
<div class="c" style="left:637px;top:461.20px;width:50px;height:20px;line-height:20px;font-size:15.4px;transform:scaleX(0.9)">1.5D</div>
<div class="c" style="left:689px;top:461.20px;width:51px;height:20px;line-height:20px;font-size:15.4px;transform:scaleX(0.9)">15</div>
<div class="c" style="left:399px;top:483.93px;width:113px;height:20px;line-height:20px;font-size:15.4px;transform:scaleX(0.985)">M10*1.0*2.0D</div>
<div class="c" style="left:514px;top:483.93px;width:57px;height:20px;line-height:20px;font-size:15.4px;transform:scaleX(0.9)">10</div>
<div class="c" style="left:573px;top:483.93px;width:62px;height:20px;line-height:20px;font-size:15.4px;transform:scaleX(0.9)">1.0</div>
<div class="c" style="left:637px;top:483.93px;width:50px;height:20px;line-height:20px;font-size:15.4px;transform:scaleX(0.9)">2.0D</div>
<div class="c" style="left:689px;top:483.93px;width:51px;height:20px;line-height:20px;font-size:15.4px;transform:scaleX(0.9)">20</div>
<div class="c" style="left:399px;top:506.66px;width:113px;height:20px;line-height:20px;font-size:15.4px;transform:scaleX(0.985)">M10*1.0*2.5D</div>
<div class="c" style="left:514px;top:506.66px;width:57px;height:20px;line-height:20px;font-size:15.4px;transform:scaleX(0.9)">10</div>
<div class="c" style="left:573px;top:506.66px;width:62px;height:20px;line-height:20px;font-size:15.4px;transform:scaleX(0.9)">1.0</div>
<div class="c" style="left:637px;top:506.66px;width:50px;height:20px;line-height:20px;font-size:15.4px;transform:scaleX(0.9)">2.5D</div>
<div class="c" style="left:689px;top:506.66px;width:51px;height:20px;line-height:20px;font-size:15.4px;transform:scaleX(0.9)">25</div>
<div class="c" style="left:399px;top:529.39px;width:113px;height:20px;line-height:20px;font-size:15.4px;transform:scaleX(0.985)">M10*1.25*1.0D</div>
<div class="c" style="left:514px;top:529.39px;width:57px;height:20px;line-height:20px;font-size:15.4px;transform:scaleX(0.9)">10</div>
<div class="c" style="left:573px;top:529.39px;width:62px;height:20px;line-height:20px;font-size:15.4px;transform:scaleX(0.9)">1.25</div>
<div class="c" style="left:637px;top:529.39px;width:50px;height:20px;line-height:20px;font-size:15.4px;transform:scaleX(0.9)">1.0D</div>
<div class="c" style="left:689px;top:529.39px;width:51px;height:20px;line-height:20px;font-size:15.4px;transform:scaleX(0.9)">10</div>
<div class="c" style="left:399px;top:552.11px;width:113px;height:20px;line-height:20px;font-size:15.4px;transform:scaleX(0.985)">M10*1.25*1.5D</div>
<div class="c" style="left:514px;top:552.11px;width:57px;height:20px;line-height:20px;font-size:15.4px;transform:scaleX(0.9)">10</div>
<div class="c" style="left:573px;top:552.11px;width:62px;height:20px;line-height:20px;font-size:15.4px;transform:scaleX(0.9)">1.25</div>
<div class="c" style="left:637px;top:552.11px;width:50px;height:20px;line-height:20px;font-size:15.4px;transform:scaleX(0.9)">1.5D</div>
<div class="c" style="left:689px;top:552.11px;width:51px;height:20px;line-height:20px;font-size:15.4px;transform:scaleX(0.9)">15</div>
<div class="c" style="left:399px;top:574.84px;width:113px;height:20px;line-height:20px;font-size:15.4px;transform:scaleX(0.985)">M10*1.25*2.0D</div>
<div class="c" style="left:514px;top:574.84px;width:57px;height:20px;line-height:20px;font-size:15.4px;transform:scaleX(0.9)">10</div>
<div class="c" style="left:573px;top:574.84px;width:62px;height:20px;line-height:20px;font-size:15.4px;transform:scaleX(0.9)">1.25</div>
<div class="c" style="left:637px;top:574.84px;width:50px;height:20px;line-height:20px;font-size:15.4px;transform:scaleX(0.9)">2.0D</div>
<div class="c" style="left:689px;top:574.84px;width:51px;height:20px;line-height:20px;font-size:15.4px;transform:scaleX(0.9)">20</div>
<div class="c" style="left:399px;top:597.57px;width:113px;height:20px;line-height:20px;font-size:15.4px;transform:scaleX(0.985)">M10*1.25*2.5D</div>
<div class="c" style="left:514px;top:597.57px;width:57px;height:20px;line-height:20px;font-size:15.4px;transform:scaleX(0.9)">10</div>
<div class="c" style="left:573px;top:597.57px;width:62px;height:20px;line-height:20px;font-size:15.4px;transform:scaleX(0.9)">1.25</div>
<div class="c" style="left:637px;top:597.57px;width:50px;height:20px;line-height:20px;font-size:15.4px;transform:scaleX(0.9)">2.5D</div>
<div class="c" style="left:689px;top:597.57px;width:51px;height:20px;line-height:20px;font-size:15.4px;transform:scaleX(0.9)">25</div>
<div class="c" style="left:399px;top:620.29px;width:113px;height:20px;line-height:20px;font-size:15.4px;transform:scaleX(0.985)">M10*1.5*1.0D</div>
<div class="c" style="left:514px;top:620.29px;width:57px;height:20px;line-height:20px;font-size:15.4px;transform:scaleX(0.9)">10</div>
<div class="c" style="left:573px;top:620.29px;width:62px;height:20px;line-height:20px;font-size:15.4px;transform:scaleX(0.9)">1.5</div>
<div class="c" style="left:637px;top:620.29px;width:50px;height:20px;line-height:20px;font-size:15.4px;transform:scaleX(0.9)">1.0D</div>
<div class="c" style="left:689px;top:620.29px;width:51px;height:20px;line-height:20px;font-size:15.4px;transform:scaleX(0.9)">10</div>
<div class="c" style="left:399px;top:643.02px;width:113px;height:20px;line-height:20px;font-size:15.4px;transform:scaleX(0.985)">M10*1.5*1.5D</div>
<div class="c" style="left:514px;top:643.02px;width:57px;height:20px;line-height:20px;font-size:15.4px;transform:scaleX(0.9)">10</div>
<div class="c" style="left:573px;top:643.02px;width:62px;height:20px;line-height:20px;font-size:15.4px;transform:scaleX(0.9)">1.5</div>
<div class="c" style="left:637px;top:643.02px;width:50px;height:20px;line-height:20px;font-size:15.4px;transform:scaleX(0.9)">1.5D</div>
<div class="c" style="left:689px;top:643.02px;width:51px;height:20px;line-height:20px;font-size:15.4px;transform:scaleX(0.9)">15</div>
<div class="c" style="left:399px;top:665.75px;width:113px;height:20px;line-height:20px;font-size:15.4px;transform:scaleX(0.985)">M10*1.5*2.0D</div>
<div class="c" style="left:514px;top:665.75px;width:57px;height:20px;line-height:20px;font-size:15.4px;transform:scaleX(0.9)">10</div>
<div class="c" style="left:573px;top:665.75px;width:62px;height:20px;line-height:20px;font-size:15.4px;transform:scaleX(0.9)">1.5</div>
<div class="c" style="left:637px;top:665.75px;width:50px;height:20px;line-height:20px;font-size:15.4px;transform:scaleX(0.9)">2.0D</div>
<div class="c" style="left:689px;top:665.75px;width:51px;height:20px;line-height:20px;font-size:15.4px;transform:scaleX(0.9)">20</div>
<div class="c" style="left:399px;top:688.47px;width:113px;height:20px;line-height:20px;font-size:15.4px;transform:scaleX(0.985)">M10*1.5*2.5D</div>
<div class="c" style="left:514px;top:688.47px;width:57px;height:20px;line-height:20px;font-size:15.4px;transform:scaleX(0.9)">10</div>
<div class="c" style="left:573px;top:688.47px;width:62px;height:20px;line-height:20px;font-size:15.4px;transform:scaleX(0.9)">1.5</div>
<div class="c" style="left:637px;top:688.47px;width:50px;height:20px;line-height:20px;font-size:15.4px;transform:scaleX(0.9)">2.5D</div>
<div class="c" style="left:689px;top:688.47px;width:51px;height:20px;line-height:20px;font-size:15.4px;transform:scaleX(0.9)">25</div>
<div class="c" style="left:399px;top:711.16px;width:113px;height:20px;line-height:20px;font-size:15.4px;transform:scaleX(0.985)">M10*1.5*3.0D</div>
<div class="c" style="left:514px;top:711.16px;width:57px;height:20px;line-height:20px;font-size:15.4px;transform:scaleX(0.9)">10</div>
<div class="c" style="left:573px;top:711.16px;width:62px;height:20px;line-height:20px;font-size:15.4px;transform:scaleX(0.9)">1.5</div>
<div class="c" style="left:637px;top:711.16px;width:50px;height:20px;line-height:20px;font-size:15.4px;transform:scaleX(0.9)">3.0D</div>
<div class="c" style="left:689px;top:711.16px;width:51px;height:20px;line-height:20px;font-size:15.4px;transform:scaleX(0.9)">30</div>
</body></html>
